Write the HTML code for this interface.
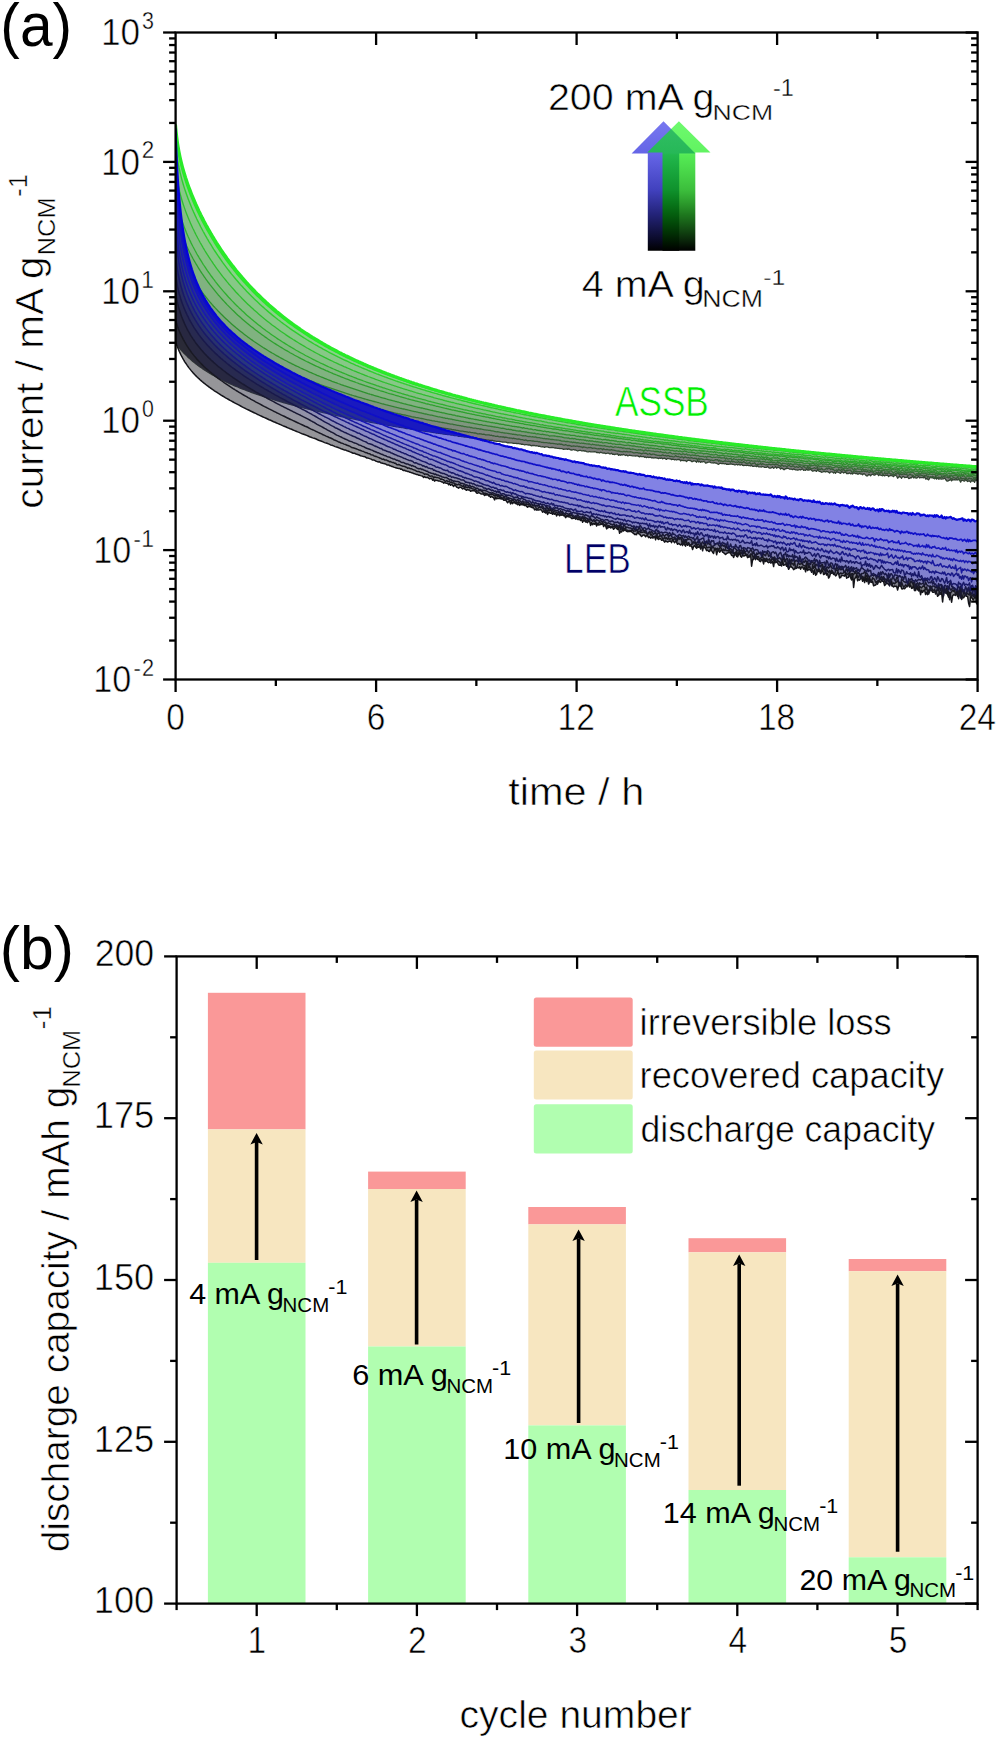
<!DOCTYPE html>
<html><head><meta charset="utf-8"><title>figure</title>
<style>html,body{margin:0;padding:0;background:#fff;width:1000px;height:1742px;overflow:hidden} text{font-family:"Liberation Sans",sans-serif}</style>
</head><body>
<svg width="1000" height="1742" viewBox="0 0 1000 1742" font-family='"Liberation Sans", sans-serif' style="display:block">
<rect width="1000" height="1742" fill="#fff"/>
<defs><clipPath id="pc"><rect x="175.6" y="32.5" width="802" height="647"/></clipPath>
<path id="a0" d="M175.6,343.1l.2,.3 .2,.3 .2,.2 .2,.3 .2,.3 .2,.3 .2,.2 .2,.3 .2,.2 .2,.3 .2,.3 .2,.2 .2,.3 .2,.2 .2,.3 .2,.2 .2,.3 .2,.2 .2,.2 .2,.3 .4,.5 .8,.9 .8,.9 .8,.9 .8,.9 .8,.8 .8,.8 .8,.8 .8,.8 .8,.8 .8,.8 .8,.7 .8,.7 .8,.7 .8,.7 .8,.7 .8,.7 .8,.7 .8,.6 .8,.6 .8,.7 .8,.6 .8,.6 .8,.6 .8,.6 .8,.5 .8,.6 .8,.5 .8,.6 .8,.5 .8,.6 .8,.5 .8,.5 .8,.5 .8,.5 .8,.5 .8,.5 .8,.5 .8,.5 .8,.4 .8,.5 .8,.5 .8,.4 .8,.5 .8,.4 1.4,.8 1.5,.8 1.5,.7 1.5,.8 1.5,.7 1.5,.8 1.5,.7 1.5,.7 1.5,.7 1.5,.7 1.5,.7 1.5,.6 1.5,.7 1.5,.6 1.5,.6 1.5,.6 1.5,.7 1.5,.6 1.5,.5 1.5,.6 1.5,.6 1.5,.6 1.5,.5 1.5,.6 1.5,.5 1.5,.5 1.5,.6 1.5,.5 1.5,.5 1.5,.5 1.5,.5 1.5,.5 1.5,.5 1.5,.5 1.5,.4 1.5,.5 1.5,.5 1.5,.4 1.5,.5 1.5,.5 1.5,.4 1.5,.4 1.5,.5 1.5,.4 1.5,.4 1.5,.5 1.5,.4 1.5,.4 1.5,.4 1.5,.4 1.5,.4 1.5,.4 1.5,.4 1.5,.4 1.5,.4 1.5,.4 1.5,.4 1.5,.4 1.5,.3 1.5,.4 1.5,.4 1.5,.3 1.5,.4 1.5,.4 1.5,.3 1.5,.4 1.5,.3 1.5,.4 1.5,.3 1.5,.4 1.5,.3 1.5,.4 1.5,.3 1.5,.3 1.5,.4 1.5,.3 1.5,.3 1.5,.4 1.5,.3 1.5,.3 1.5,.3 1.5,.3 1.5,.3 1.5,.4 1.5,.3 1.5,.3 1.5,.3 1.5,.3 1.5,.3 1.5,.3 1.5,.3 1.5,.3 1.5,.3 1.5,.3 1.5,.3 1.5,.2 1.5,.3 1.5,.3 1.5,.3 1.5,.3 1.5,.3 1.5,.2 1.5,.3 1.5,.3 1.5,.3 1.5,.2 1.5,.3 0,0 1,.2 1,.2 1,.1 1,.2 1,.2 1,.2 1,.1 1,.2 1,.2 1,.2 1,.1 1,.2 1,.2 1,.2 1,.1 1,.2 1,.1 1,.3 1,.1 1,.2 1,.2 1,.1 1,.2 1,.2 1,.1 1,.2 1,.1 1,.2 1,.2 1,.2 1,.2 1,.1 1,.1 1,.1 1,.3 1,0 1,.2 1,.2 1,.1 1,.1 1,.3 1,.1 1,.2 1,.1 1,.1 1,.2 1,.2 1,.1 1,.1 1,.3 1,.1 1,.2 1,0 1,.2 1,.1 1,.2 1,.2 1,.1 1,.2 1,.2 1,.3 1-.2 1,.4 1,0 1,.2 1,0 1,.2 1,.3 1,.1 1,.1 1,.1 1,.3 1,0 1,0 1,.3 1,0 1,0 1,.4 1,.3 1,0 1,0 1,.2 1,.4 1,0 1,.1 1,.1 1,.2 1,.2 1,.1 1,.1 1,0 1,.3 1,0 1,.4 1-.2 1,.3 1,.1 1,0 1,.5 1,.1 1-.1 1,.3 1,.1 1-.3 1,.5 1,.1 1,.2 1-.1 1,.3 1,.1 1,.4 1,0 1,0 1,.4 1-.2 1,.1 1-.1 1,.7 1,0 1,.2 1,.1 1,0 1,.1 1,.1 1,.1 1,.2 1,.4 1-.1 1,0 1,0 1,.2 1,.5 1-.1 1,.1 1,0 1,0 1,.3 1,.3 1-.1 1,.1 1,.1 1,.2 1-.2 1,.4 1,0 1,.5 1-.3 1,.4 1,.4 1-.3 1,0 1,.3 1,.1 1-.1 1,.4 1,.5 1-.4 1,.1 1,0 1,.4 1-.3 1,.2 1,.6 1-.3 1,.5 1,.2 1-.1 1,.1 1,.5 1-.4 1,0 1-.1 1,.5 1,.4 1,0 1-.3 1,.1 1,.2 1,.3 1,0 1,.2 1,.1 1,0 1,.2 1,.1 1,.1 1,.2 1,.5 1-.2 1-.1 1-.3 1,.6 1-.5 1,.3 1,.7 1,.1 1-.2 1-.3 1,.5 1,0 1,.5 1,.5 1-.4 1-.2 1,0 1,.4 1,.1 1-.2 1,.5 1-.3 1,.8 1,.1 1,.1 1-.4 1,.4 1-.1 1,0 1,.1 1-.2 1,.1 1,.8 1-.2 1,.2 1,.4 1-.8 1,.4 1,.4 1,.2 1-.2 1,.6 1-.2 1-.3 1,.1 1,.7 1,0 1-.7 1,1.2 1-.2 1,.4 1-.5 1,.1 1-.2 1,1.4 1-.8 1,.7 1-.7 1,.4 1-.6 1,.6 1,.5 1-.6 1,.9 1-.2 1-.4 1,.3 1,.1 1,.2 1,0 1,0 1,.2 1-.1 1,0 1,.5 1,.5 1-.9 1,.7 1-.1 1-.1 1,.8 1-.4 1,.8 1-.7 1,.5 1-.1 1-.2 1,.7 1-.2 1,.3 1-.1 1-.3 1,.4 1,.2 1,.4 1-.6 1,.4 1-.6 1,1.1 1-.6 1-.2 1,.8 1,.5 1-1 1,.3 1,.2 1,0 1,.7 1-.4 1,.1 1,.6 1-.4 1,.5 1-.5 1,0 1-.2 1,1.7 1-.8 1,.3 1,0 1,.1 1,.1 1,.9 1-1.2 1-.2 1,.3 1,0 1,1 1,.1 1-.7 1-.1 1,.5 1,.9 1-1.8 1,1.6 1-.7 1,1.1 1-.9 1,.5 1-.5 1,.3 1,1.2 1-.2 1-.5 1-.1 1-.4 1,.8 1,.2 1,.1 1,.1 1-.4 1,.5 1,.1 1,.8 1,.3 1-.9 1-.2 1,.4 1-.2 1,.1 1,.4 1-.4 1,.9 1-.3 1,.3 1-.2 1-.2 1,0 1,.4 1,0 1,.4 1,0 1-.6 1,.8 1-.7 1,.5 1,.2 1-.8 1,1.2 1,.1 1-.1 1,0 1,.1 1-.3 1,.5 1-.1 1,.4 1-.6 1,.9 1,0 1-.1 1-.1 1,.6 1-1.1 1,1.2 1,0 1,.1 1,.1 1-.5 1,.3 1,.6 1,0 1-.1 1-.9 1,1.3 1,.4 1,0 1-.4 1-.9 1,1.5 1-.6 1-1.2 1,1.7 1-1 1,.2 1,.4 1,1.2 1-.9 1,.5 1,.9 1,0 1-.9 1,0 1-.5 1,.4 1,.7 1,0 1-.1 1,.6 1-.9 1,.5 1,.5 1,0 1,.4 1-.4 1-.3 1,.5 1-.8 1-.3 1,1.4 1-.3 1,.3 1-1.2 1,.9 1,0 1-.1 1-.8 1,1.2 1,.9 1-.3 1-.5 1,.4 1,.6 1-2.2 1,1.8 1,.4 1,.2 1,.7 1-.3 1-.4 1,.1 1,.3 1-.7 1,.3 1,.7 1,.8 1-1.3 1,.1 1,.2 1,.9 1-.9 1,1.1 1-1.5 1,.5 1,.1 1,.7 1,.3 1-1.6 1,.4 1,.9 1-.6 1-.5 1,1.8 1-.3 1,.1 1-.6 1,1 1-.7 1,.9 1-1.3 1,.2 1,.7 1-.5 1,1 1-.2 1-.8 1,.8 1-.2 1,.9 1-1 1,.2 1,1.2 1,.8 1-.1 1-1.3 1,.2 1,1 1-1.1 1-.5 1,.8 1,.3 1-.8 1-.6 1,.2 1,1.6 1-.9 1,.5 1,.3 1,.3 1-.6 1,.7 1-.9 1,.4 1-.4 1,1.6 1-.8 1-.4 1,.3 1,.2 1,.7 1-1.6 1,.5 1,.5 1,2.2 1-1.1 1-.7 1,.7 1,1.1 1-1.7 1,0 1,1.2 1-.4 1,.1 1-.8 1,1.9 1-.1 1-.8 1,.2 1-2 1,2.1 1-.6 1,.5 1,.3 1-.7 1-1 1,1.6 1-.7 1,.3 1-.1 1,.3 1-1.5 1,2.8 1-.7 1,.7 1,.8 1-1.5 1-1.4 1,.8 1-.2 1,.6 1,.6 1-1.6 1,1.9 1-1.4 1,1.5 1-.3 1-.1 1,.3 1-.3 1,0 1-.8 1,1.3 1,1.6 1,.2 1-.5 1-.4 1-1.1 1,1.8 1-1.2 1,.1 1-.1 1,.3 1-.3 1,.3 1-.7 1,.6 1,2.3 1-1.9 1-.1 1,.7 1,.2 1-1.5 1,.9 1,1 1-.5 1-.1 1,1.3 1-1.8 1,.7 1-.5 1,1.8 1-2.9 1,1.2 1,.1L1100,480.8 1100,800 100,800 100,343.1Z"/>
<path id="a1" d="M175.6,312.7l.2,.5 .2,.5 .2,.6 .2,.5 .2,.4 .2,.5 .2,.4 .2,.5 .2,.4 .2,.4 .2,.4 .2,.4 .2,.4 .2,.4 .2,.4 .2,.3 .2,.4 .2,.4 .2,.3 .2,.4 .4,.6 .8,1.3 .8,1.3 .8,1.2 .8,1.2 .8,1.1 .8,1 .8,1.1 .8,1 .8,1 .8,1 .8,.9 .8,1 .8,.9 .8,.8 .8,.9 .8,.9 .8,.8 .8,.8 .8,.8 .8,.8 .8,.8 .8,.8 .8,.7 .8,.7 .8,.8 .8,.7 .8,.7 .8,.7 .8,.7 .8,.6 .8,.7 .8,.7 .8,.6 .8,.6 .8,.7 .8,.6 .8,.6 .8,.6 .8,.6 .8,.6 .8,.6 .8,.5 .8,.6 .8,.6 1.4,.9 1.5,1.1 1.5,.9 1.5,1 1.5,1 1.5,.9 1.5,.9 1.5,.9 1.5,.9 1.5,.9 1.5,.8 1.5,.9 1.5,.8 1.5,.8 1.5,.8 1.5,.8 1.5,.8 1.5,.7 1.5,.8 1.5,.7 1.5,.7 1.5,.8 1.5,.7 1.5,.7 1.5,.7 1.5,.6 1.5,.7 1.5,.7 1.5,.6 1.5,.6 1.5,.7 1.5,.6 1.5,.6 1.5,.6 1.5,.6 1.5,.6 1.5,.6 1.5,.6 1.5,.6 1.5,.5 1.5,.6 1.5,.5 1.5,.6 1.5,.5 1.5,.6 1.5,.5 1.5,.5 1.5,.5 1.5,.6 1.5,.5 1.5,.5 1.5,.5 1.5,.5 1.5,.5 1.5,.4 1.5,.5 1.5,.5 1.5,.5 1.5,.4 1.5,.5 1.5,.4 1.5,.5 1.5,.4 1.5,.5 1.5,.4 1.5,.5 1.5,.4 1.5,.4 1.5,.4 1.5,.5 1.5,.4 1.5,.4 1.5,.4 1.5,.4 1.5,.4 1.5,.4 1.5,.4 1.5,.4 1.5,.4 1.5,.4 1.5,.4 1.5,.3 1.5,.4 1.5,.4 1.5,.4 1.5,.3 1.5,.4 1.5,.4 1.5,.3 1.5,.4 1.5,.4 1.5,.3 1.5,.4 1.5,.3 1.5,.4 1.5,.3 1.5,.3 1.5,.4 1.5,.3 1.5,.3 1.5,.4 1.5,.3 1.5,.3 1.5,.4 1.5,.3 1.5,.3 1.5,.3 0,0 1,.2 1,.3 1,.2 1,.2 1,.2 1,.2 1,.2 1,.2 1,.2 1,.2 1,.2 1,.2 1,.2 1,.2 1,.2 1,.2 1,.2 1,.2 1,.2 1,.2 1,.2 1,.2 1,.1 1,.3 1,.1 1,.3 1,.1 1,.2 1,.2 1,.2 1,.2 1,.1 1,.3 1,.2 1,.2 1,.1 1,.3 1,.1 1,.2 1,.2 1,.2 1,.1 1,.2 1,.2 1,.2 1,.1 1,.3 1,.1 1,.2 1,.1 1,.2 1,.2 1,.1 1,.4 1,0 1,.3 1,.1 1,.1 1,.2 1,.2 1,.1 1,.2 1,.1 1,.1 1,.3 1,0 1,.4 1,0 1,.2 1,.2 1,.2 1,0 1,.1 1,.3 1,0 1,.3 1,.4 1-.1 1,.3 1,0 1,.3 1,.1 1,.2 1,.2 1,.3 1,0 1,.1 1,.1 1,.3 1,0 1,.3 1,.1 1,.3 1-.3 1,.4 1,.3 1,0 1,.1 1,.2 1,0 1,.3 1,.5 1,0 1-.2 1,.2 1,.2 1,.3 1-.1 1,.2 1,.4 1,.1 1,0 1,0 1,.1 1,.3 1-.1 1,.6 1-.1 1,.3 1,.4 1,0 1-.2 1,.4 1,.2 1-.2 1,.2 1,.2 1-.1 1,.7 1-.5 1,.3 1,.3 1,.1 1,.2 1,.2 1,0 1,.4 1-.4 1,.5 1,0 1,.3 1,.1 1-.1 1,.2 1,.4 1,.1 1-.1 1,.6 1,.2 1-.6 1,.5 1,.6 1-.3 1,.1 1,0 1,.1 1,.2 1,0 1,.4 1-.1 1,.1 1,0 1,.4 1-.1 1,.3 1,.4 1-.1 1,.2 1,.1 1,0 1,.1 1,.1 1,.4 1-.3 1,.6 1-.1 1-.1 1,.2 1,.1 1,.3 1-.1 1,.6 1-.4 1-.2 1,.5 1-.2 1,.6 1,.4 1,0 1-.4 1,.3 1,.7 1-.2 1,0 1,.4 1,.5 1-.2 1-.2 1,.2 1,.2 1-.2 1,0 1,.4 1-.2 1,.4 1,.1 1,.7 1-.7 1,.3 1,.1 1,.3 1,.2 1-.3 1,.1 1-.2 1,.4 1,.5 1-.1 1-.1 1,.2 1,.3 1,.2 1-.2 1,.2 1-.3 1,.3 1,.9 1-1 1,.6 1,.3 1-.1 1,0 1,.3 1,.2 1,0 1-.4 1,.6 1-.1 1,.2 1,.4 1,.2 1,.2 1-.3 1,.5 1,.2 1,.1 1,.2 1-.4 1,.1 1,.4 1-.6 1,.6 1-.1 1,.1 1-.3 1,.4 1,.4 1,.4 1,.1 1-.3 1,.1 1-.1 1,.5 1-.1 1,.4 1,.5 1-.5 1-.4 1,.3 1-.1 1,.2 1,.9 1-.3 1-.5 1,.9 1,.3 1-.5 1,0 1,.2 1,.4 1,.2 1,.3 1,.1 1,.1 1,.1 1-.1 1-.7 1,.6 1,.2 1-.1 1,.6 1-.4 1-.1 1,.9 1-.2 1,0 1,.3 1,.2 1-.2 1-1 1,.8 1,.2 1-.1 1,.5 1,.5 1-.6 1-.1 1,1.3 1-.9 1-.2 1,.7 1,.2 1-.4 1,.7 1-.4 1-.1 1,.5 1,.3 1-.4 1,.4 1,0 1,1.3 1-1.4 1,.9 1-.5 1,.1 1,.4 1,.2 1,.3 1-.3 1-.4 1,.2 1,.5 1,.1 1,.5 1-.4 1,.4 1,.3 1-.5 1-.6 1,.2 1-.1 1,1.5 1-1 1,1 1-.2 1,.6 1-.3 1-.4 1,.1 1,.2 1,.1 1-.2 1,.3 1,.8 1-1.4 1,1 1-.5 1,.6 1,.4 1-.3 1,.4 1-1 1,1.4 1-.7 1,.6 1-.1 1-1.2 1,.9 1,.6 1,.7 1-.5 1,0 1-.7 1,1.5 1,.2 1-.7 1-.1 1-.6 1,1.3 1,1 1-.9 1,.3 1-.2 1-.7 1,1.2 1-1.1 1,.5 1,.4 1,.3 1-.1 1,.1 1-.5 1-.2 1,.7 1-.3 1-.2 1,.1 1,.5 1-.6 1,.3 1-.1 1,1 1,.2 1,.9 1-1.7 1,.5 1,.9 1-.5 1,0 1,1.2 1-1 1-.4 1,0 1,1 1,0 1-.8 1,.3 1,.9 1,.1 1-.6 1,.8 1,0 1-1.2 1,.9 1,.5 1-.5 1-.8 1,1.1 1,.7 1,.5 1-2 1,2.7 1-2 1,1.2 1,.3 1-.1 1-.4 1-.6 1,1 1-.6 1-1 1,3.1 1-1.1 1,.7 1-1.5 1,1.5 1,.1 1,.1 1-.9 1-.6 1,.7 1-1.1 1,.4 1,1.1 1-.6 1,.6 1,.1 1,1.2 1-.3 1-.7 1,.8 1-1.1 1,.4 1,.8 1-1.2 1,.6 1-.5 1,.9 1,1 1-1.4 1,.7 1-.6 1-.1 1,0 1,1.7 1,.6 1-1 1-.7 1,.9 1-.5 1,.8 1-.3 1,.1 1,.2 1-.6 1,.2 1-.8 1,.9 1-.6 1,.9 1-.4 1,.7 1,.3 1-1.1 1,.4 1,0 1,1.2 1,.6 1-.4 1-.7 1,1.2 1-1.8 1,2 1-1.4 1-1.3 1,3.6 1-.6 1-1.6 1,.8 1-.2 1,.3 1-1 1,.6 1,.9 1-.1 1,.7 1-.7 1,1.6 1-2 1,.7 1-1.4 1,.6 1,1.7 1-1.4 1,1 1-.3 1-.6 1,.6 1-.1 1,.1 1,.9 1,0 1-.8 1-.1 1,.8 1-.1 1,.8 1,1.2 1-1.2 1-.5 1-.1 1-.4 1,.1 1-.1 1,.5 1,.1 1,.9 1-.8 1,.2 1-.6 1,2.1 1-.8 1,1 1-.6 1,.5 1-1.2 1,.8 1,1.5 1-2.8 1,1.8 1,.5 1-.9 1,.3 1,.5 1-1.4 1,.9 1-.9 1,.2 1,.1 1,.4 1,.3 1,.3 1-1.4 1,2.7 1-.6 1-.3 1-.7 1,.3 1,.5 1,0 1-1.6 1,1.9 1,1.8 1-3.6 1,2.2 1-.4 1-.3 1,1.2 1-1.9 1,1.1 1,1.1 1-1.3 1-.1 1,.5 1-.4 1,1.6 1-1.8 1,1.4 1-1.6 1,1.6 1-.5L1100,479.2 1100,800 100,800 100,312.7Z"/>
<path id="a2" d="M175.6,284.4l.2,.8 .2,.8 .2,.7 .2,.7 .2,.7 .2,.6 .2,.6 .2,.6 .2,.6 .2,.6 .2,.5 .2,.5 .2,.6 .2,.5 .2,.5 .2,.4 .2,.5 .2,.5 .2,.4 .2,.5 .4,.8 .8,1.7 .8,1.6 .8,1.4 .8,1.5 .8,1.3 .8,1.4 .8,1.2 .8,1.3 .8,1.2 .8,1.1 .8,1.2 .8,1.1 .8,1.1 .8,1 .8,1.1 .8,1 .8,1 .8,1 .8,.9 .8,1 .8,.9 .8,.9 .8,.9 .8,.9 .8,.8 .8,.9 .8,.8 .8,.9 .8,.8 .8,.8 .8,.8 .8,.8 .8,.7 .8,.8 .8,.8 .8,.7 .8,.7 .8,.7 .8,.8 .8,.7 .8,.7 .8,.7 .8,.6 .8,.7 1.4,1.2 1.5,1.2 1.5,1.2 1.5,1.1 1.5,1.2 1.5,1.1 1.5,1.1 1.5,1.1 1.5,1.1 1.5,1 1.5,1 1.5,1 1.5,1 1.5,1 1.5,.9 1.5,1 1.5,.9 1.5,.9 1.5,.9 1.5,.9 1.5,.9 1.5,.8 1.5,.9 1.5,.8 1.5,.8 1.5,.8 1.5,.8 1.5,.8 1.5,.8 1.5,.8 1.5,.7 1.5,.8 1.5,.7 1.5,.7 1.5,.8 1.5,.7 1.5,.7 1.5,.7 1.5,.6 1.5,.7 1.5,.7 1.5,.6 1.5,.7 1.5,.6 1.5,.7 1.5,.6 1.5,.6 1.5,.6 1.5,.6 1.5,.6 1.5,.6 1.5,.6 1.5,.6 1.5,.6 1.5,.5 1.5,.6 1.5,.6 1.5,.5 1.5,.6 1.5,.5 1.5,.5 1.5,.6 1.5,.5 1.5,.5 1.5,.5 1.5,.5 1.5,.6 1.5,.5 1.5,.4 1.5,.5 1.5,.5 1.5,.5 1.5,.5 1.5,.5 1.5,.4 1.5,.5 1.5,.5 1.5,.4 1.5,.5 1.5,.4 1.5,.5 1.5,.4 1.5,.4 1.5,.5 1.5,.4 1.5,.4 1.5,.5 1.5,.4 1.5,.4 1.5,.4 1.5,.4 1.5,.4 1.5,.4 1.5,.4 1.5,.4 1.5,.4 1.5,.4 1.5,.4 1.5,.4 1.5,.4 1.5,.4 1.5,.3 1.5,.4 1.5,.4 1.5,.4 1.5,.3 1.5,.4 0,0 1,.2 1,.3 1,.2 1,.2 1,.3 1,.2 1,.3 1,.2 1,.2 1,.3 1,.2 1,.2 1,.2 1,.3 1,.2 1,.2 1,.2 1,.3 1,.2 1,.3 1,.1 1,.2 1,.3 1,.2 1,.2 1,.3 1,.1 1,.3 1,.1 1,.2 1,.3 1,.2 1,.3 1,.1 1,.2 1,.3 1,.2 1,.2 1,.1 1,.3 1,.2 1,.1 1,.2 1,.3 1,.2 1,.1 1,.2 1,.2 1,.3 1,.2 1,.2 1,.2 1,0 1,.4 1,.2 1,.1 1,.3 1,.1 1,.1 1,.3 1,.1 1,.1 1,.4 1,.1 1,.2 1,.1 1,.2 1,.2 1,.2 1,.3 1-.1 1,.5 1,0 1,.2 1,.3 1,.1 1,0 1,.5 1,0 1,.2 1,.2 1,.3 1,0 1,.3 1,0 1,.4 1-.1 1,.3 1,.4 1,0 1,.1 1,.4 1,0 1,0 1,.4 1-.1 1,.4 1,.2 1,0 1,.1 1,.3 1,.1 1,.1 1,.3 1-.1 1,.3 1,.2 1,.2 1,.2 1,0 1,.3 1,.1 1,.1 1,.1 1,.1 1,.4 1,0 1,.3 1,.3 1,.1 1,.2 1-.1 1,.1 1,.4 1,.1 1,.3 1-.1 1,.4 1,.1 1,.1 1,.1 1,.2 1,.1 1,.1 1,.3 1-.1 1,.5 1-.1 1,.3 1,0 1,.1 1,.5 1-.3 1,0 1,.3 1,.2 1,.5 1-.2 1,.3 1-.2 1,.4 1,.2 1,.3 1-.3 1,.4 1,.1 1-.1 1,.3 1,.1 1-.2 1,.6 1,.2 1-.1 1,0 1,.6 1,0 1,.2 1,.2 1-.2 1,.4 1-.1 1,.2 1,.1 1,.2 1,.3 1,0 1,0 1,.1 1,.3 1-.1 1,.2 1,.2 1,0 1,.3 1,0 1,.7 1-.1 1,0 1,0 1,.6 1-.3 1,.1 1,.2 1,.1 1,.4 1-.2 1,.6 1-.5 1,.4 1-.2 1,.7 1-.3 1,.2 1,.3 1,.2 1-.4 1,.3 1-.1 1,.4 1,.1 1,.1 1,0 1,.2 1,0 1,.5 1,.3 1-.7 1,.6 1,0 1,.3 1-.2 1,.3 1-.1 1,.6 1-.1 1,.1 1,.2 1,0 1-.2 1,.6 1,.1 1,0 1,.4 1,.2 1-.5 1,.2 1,.7 1,.1 1-.5 1,0 1,.3 1,.1 1-.2 1,.6 1-.3 1,.2 1,.7 1-.4 1,.3 1,.3 1,.2 1-.2 1,.2 1-.2 1,.9 1-.2 1-.4 1,.4 1,.3 1,.1 1,.5 1,0 1-.5 1,.2 1-.2 1,.6 1,0 1,.9 1-.7 1-.5 1,.5 1,.4 1-.4 1,.3 1,.2 1,.3 1,0 1-.1 1,.6 1-.3 1,.1 1-.2 1,.3 1,.6 1-.7 1,.7 1,.3 1-.2 1,.3 1-.4 1,.9 1,.1 1-.2 1-.6 1,.3 1,.8 1,.4 1-.4 1,.4 1-.5 1,.2 1,.2 1,.2 1-.5 1,.9 1,.2 1-.7 1,0 1,.7 1-.3 1-.5 1,1.3 1-.2 1-.1 1,1 1-.6 1-.2 1,.4 1-.3 1,.2 1,.5 1-.3 1,.2 1,.8 1-.2 1,.1 1,0 1,.1 1,.5 1-.5 1,.8 1-1 1,.4 1-.4 1,.5 1,.5 1,.4 1-.7 1,.3 1,0 1-.1 1,0 1,.5 1-.6 1,.8 1,.1 1-.2 1,0 1-.1 1,1.4 1-1.2 1,1.3 1-.3 1-.3 1-.3 1,1 1,.4 1-1 1,.3 1,.7 1-.2 1,.8 1-1 1,.5 1-.6 1,1.5 1-1.1 1-.6 1,1 1,.1 1,.9 1-.8 1,.2 1,.3 1,.6 1-.7 1,.6 1-.1 1-.3 1,.2 1,.1 1-.3 1,1 1-1.1 1,1.3 1-.1 1-.3 1-.2 1,.3 1,.4 1,.2 1-.1 1,.4 1-.6 1,.4 1-.7 1,1.1 1-.2 1-.2 1,.8 1-.1 1-1.5 1,1.4 1-.6 1,1.2 1,.8 1-1.3 1,.3 1-.1 1,.4 1,.2 1,.4 1-1 1,1.3 1-1.1 1,.7 1,.5 1-.2 1-.7 1,.2 1,.2 1,.3 1,.7 1-1.1 1,.9 1,.1 1,.1 1,0 1,.6 1-.4 1,.3 1-.1 1,.7 1-1.8 1,1.7 1-.7 1,.1 1-.3 1-.4 1,.9 1-.1 1,.7 1-1 1,1.6 1-.5 1-.2 1-.2 1,.1 1-.1 1,.4 1,.3 1,0 1-.6 1,.7 1-.2 1,.6 1,.9 1-.5 1-.4 1-.7 1,.2 1,0 1,1.3 1-.7 1,.5 1-.3 1,.5 1,.8 1-1.1 1,.3 1-.2 1,1 1-1 1,0 1,0 1,0 1,1.1 1,1.3 1-1.9 1,1.1 1-.3 1-.7 1,.6 1,.1 1-.2 1,1.5 1-2 1,1.3 1,.1 1-.5 1,.5 1,.5 1-.4 1,.3 1,.2 1-1.5 1,2.1 1,.5 1-.6 1,0 1-1.3 1,.8 1-.3 1,.2 1,1 1-1 1,.5 1-1 1,1.1 1,.2 1-.4 1,.1 1,1.6 1-1.7 1,.1 1,.2 1,1.3 1,.6 1-1 1-.5 1,.2 1,1 1-1.1 1,1.4 1,.1 1-.7 1,.4 1,.1 1,.6 1-1.5 1,1.4 1-.9 1-.2 1,.6 1-.1 1-.4 1-.3 1,.5 1,1.5 1,.4 1-.8 1,.4 1-.9 1,.3 1,.3 1-.8 1,.1 1,.8 1-.2 1-.4 1,1 1-.4 1,.9 1-.6 1-.1 1,.3 1-.1 1-.2 1,.2 1,.8 1,0 1,.5 1-1.9 1,.9 1,.1 1,.4 1-.3 1,0 1,.9 1-.3 1-.8 1,1.7 1-.2 1-.9 1,1 1-1 1,1.3 1-.8 1-.4 1,.4 1-.2 1,.7 1,.1 1-.1 1-.3 1-2 1,2.6 1-1.3 1,1.5 1,.7 1-.6 1-.3 1,.2 1,.1 1-.3 1,.1 1-.2 1,1.5 1-.7 1,.7 1-.8 1,.3L1100,477.4 1100,800 100,800 100,284.4Z"/>
<path id="a3" d="M175.6,258l.2,1.1 .2,1 .2,.9 .2,.9 .2,.9 .2,.8 .2,.8 .2,.7 .2,.7 .2,.7 .2,.7 .2,.7 .2,.6 .2,.6 .2,.6 .2,.6 .2,.6 .2,.5 .2,.6 .2,.5 .4,1.1 .8,2 .8,1.8 .8,1.8 .8,1.6 .8,1.6 .8,1.6 .8,1.5 .8,1.4 .8,1.4 .8,1.3 .8,1.4 .8,1.2 .8,1.3 .8,1.2 .8,1.2 .8,1.2 .8,1.1 .8,1.2 .8,1.1 .8,1.1 .8,1 .8,1.1 .8,1 .8,1 .8,1 .8,1 .8,1 .8,.9 .8,1 .8,.9 .8,.9 .8,.9 .8,.9 .8,.9 .8,.8 .8,.9 .8,.8 .8,.9 .8,.8 .8,.8 .8,.8 .8,.8 .8,.8 .8,.8 1.4,1.3 1.5,1.4 1.5,1.4 1.5,1.3 1.5,1.4 1.5,1.3 1.5,1.2 1.5,1.3 1.5,1.2 1.5,1.2 1.5,1.2 1.5,1.1 1.5,1.2 1.5,1.1 1.5,1.1 1.5,1.1 1.5,1.1 1.5,1 1.5,1.1 1.5,1 1.5,1 1.5,1 1.5,1 1.5,.9 1.5,1 1.5,.9 1.5,.9 1.5,.9 1.5,.9 1.5,.9 1.5,.9 1.5,.8 1.5,.9 1.5,.8 1.5,.8 1.5,.8 1.5,.9 1.5,.7 1.5,.8 1.5,.8 1.5,.8 1.5,.7 1.5,.8 1.5,.7 1.5,.7 1.5,.8 1.5,.7 1.5,.7 1.5,.7 1.5,.6 1.5,.7 1.5,.7 1.5,.7 1.5,.6 1.5,.7 1.5,.6 1.5,.7 1.5,.6 1.5,.6 1.5,.6 1.5,.6 1.5,.6 1.5,.6 1.5,.6 1.5,.6 1.5,.6 1.5,.6 1.5,.5 1.5,.6 1.5,.6 1.5,.5 1.5,.5 1.5,.6 1.5,.5 1.5,.6 1.5,.5 1.5,.5 1.5,.5 1.5,.5 1.5,.5 1.5,.5 1.5,.5 1.5,.5 1.5,.5 1.5,.5 1.5,.5 1.5,.5 1.5,.4 1.5,.5 1.5,.5 1.5,.4 1.5,.5 1.5,.5 1.5,.4 1.5,.5 1.5,.4 1.5,.4 1.5,.5 1.5,.4 1.5,.4 1.5,.5 1.5,.4 1.5,.4 1.5,.4 1.5,.4 1.5,.4 1.5,.4 0,0 1,.3 1,.3 1,.2 1,.3 1,.3 1,.3 1,.2 1,.2 1,.3 1,.3 1,.2 1,.3 1,.3 1,.2 1,.2 1,.3 1,.2 1,.3 1,.3 1,.2 1,.3 1,.2 1,.2 1,.3 1,.2 1,.2 1,.3 1,.2 1,.2 1,.3 1,.2 1,.2 1,.3 1,.2 1,.2 1,.3 1,.2 1,.2 1,.3 1,.1 1,.3 1,.2 1,.3 1,.2 1,.2 1,.1 1,.3 1,.2 1,.3 1,.2 1,.2 1,.3 1,.2 1,.1 1,.3 1,.1 1,.2 1,.3 1,.1 1,.3 1,.2 1,.3 1,.2 1,.1 1,.3 1,.1 1,.2 1,.3 1,.1 1,.4 1,0 1,.1 1,.4 1,.1 1,.2 1,0 1,.5 1,.1 1,.2 1,.2 1,.3 1,0 1,.3 1,.1 1,.2 1,.3 1,.1 1,.1 1,.3 1,.1 1,.2 1,.3 1,.1 1,0 1,.3 1,.4 1-.1 1,.3 1,.2 1,.2 1,0 1,.3 1,.2 1,.3 1,0 1,.1 1,.4 1,.2 1,.1 1,0 1,.3 1,.2 1,.2 1,0 1,.3 1,.1 1,.1 1,.3 1,.1 1,.2 1,.2 1,0 1,.3 1,.2 1,.2 1,.2 1-.1 1,.1 1,.4 1,.2 1,.4 1,0 1-.1 1,.4 1-.1 1,.1 1,.7 1-.1 1,.2 1,.1 1,.4 1-.1 1,.3 1-.2 1,.1 1,.6 1,.1 1,0 1,.2 1,.1 1,0 1,.5 1,0 1,.2 1,.1 1,.2 1,.1 1,.2 1-.2 1,.5 1,.4 1-.3 1,.2 1,.3 1,.2 1,.1 1-.3 1,.5 1-.1 1,.2 1,.4 1,0 1,.3 1,.6 1-.3 1,.1 1-.1 1,.1 1,.1 1,.2 1,.1 1,.2 1,.2 1,0 1,.1 1,.1 1,.5 1,.1 1,.3 1,.1 1-.1 1,.3 1-.3 1,.9 1-.1 1-.1 1-.1 1,.5 1-.4 1,.4 1,.4 1,0 1,0 1,.5 1-.3 1,.4 1,0 1,0 1,.4 1-.2 1,.8 1-.4 1,.7 1-.6 1,.5 1-.2 1,.1 1,.4 1,.3 1-.4 1,.7 1-.3 1,.3 1,.2 1,.2 1-.4 1,.9 1-.1 1-.1 1-.1 1,0 1,.2 1,.6 1-.1 1-.1 1,.3 1,.6 1-.3 1,0 1,.6 1-.1 1,0 1,0 1-.1 1,.2 1,.3 1,.2 1,.2 1,.2 1,0 1,.1 1-.2 1-.1 1,.5 1,0 1,.2 1,.2 1-.1 1,.1 1,.4 1,.2 1-.1 1,.4 1-.1 1-.1 1,.4 1,.6 1-.5 1,.6 1,.1 1,.2 1-.5 1,.9 1-.5 1,0 1,.2 1,.3 1,0 1,0 1,.5 1-.4 1,0 1,.6 1,.1 1,.2 1-.5 1,.7 1,0 1,.5 1-.8 1,.5 1,0 1-.3 1,.4 1,.6 1-.3 1,0 1,.6 1,.1 1,.1 1-.4 1,.3 1,.5 1-.5 1,.1 1,.6 1,.3 1-.7 1-.4 1,.5 1,.2 1,.4 1,.4 1-.2 1-.1 1,.4 1-.2 1,.4 1-.1 1,1.2 1-.6 1-.4 1,.1 1,.2 1-.3 1,.4 1,.1 1,.7 1-.4 1,0 1-.1 1,.2 1,.5 1,0 1,.6 1-.5 1,.6 1-.1 1,0 1-.6 1,.3 1,.8 1,.3 1-.3 1,.3 1-.3 1,.1 1,0 1,.7 1-.2 1-.1 1,.1 1,.4 1,0 1-.3 1,1 1-.4 1,0 1,.6 1-.1 1-.3 1,.4 1-.5 1,.2 1-.5 1,1.4 1-1.1 1,1.1 1-.5 1,0 1,.4 1,.3 1,.2 1,.5 1-.4 1,.3 1-.5 1,.6 1-.1 1-.2 1,.3 1,.1 1,.2 1,.1 1-.2 1,0 1,.6 1-.8 1,.5 1,.9 1-1.6 1,.9 1,.6 1-.8 1,1.8 1-2 1,1.7 1,.1 1-.1 1-.4 1,.3 1-.4 1,.8 1-.7 1,.4 1,.6 1-.8 1,.4 1,.3 1-.5 1,1.1 1-.2 1-.7 1,.7 1-.2 1,.1 1,.4 1-.3 1,.8 1-.6 1,.8 1-.3 1,.4 1-.5 1,.1 1-.2 1,.8 1,.3 1,.6 1-.3 1-.4 1-.1 1,.4 1-.1 1,.7 1-.1 1-.8 1,.2 1,1 1-.4 1-.2 1,.8 1-.7 1,.2 1,0 1-.6 1,1.3 1-.8 1,.3 1,0 1,.8 1-.3 1,.1 1-.7 1,.8 1-.5 1,.9 1,.1 1-.1 1,1 1-.6 1,.1 1-.1 1-.1 1,.6 1,.2 1-1.1 1,1.2 1-.2 1,.3 1-.1 1-.8 1,.1 1,1.6 1-.7 1-.8 1,1 1-.3 1-.6 1-.2 1,.4 1,1 1,0 1-.1 1,.4 1,.2 1-1.3 1,1 1-.2 1-.1 1,.4 1,.3 1,0 1-.5 1,.5 1,1.4 1-1.5 1-.2 1,1 1,.3 1,0 1-.8 1,1.2 1-.8 1-.1 1,.3 1,.3 1,.5 1,.1 1-.3 1,.6 1-.4 1,.5 1-1.1 1-.1 1,1.4 1-1.1 1,.6 1,.2 1-.1 1,.1 1,1 1-2 1,1.9 1,.8 1-1.1 1,0 1,.5 1,.7 1-1.6 1,.8 1-.1 1,.5 1-.2 1,.4 1-.5 1,.3 1-.3 1,0 1,.4 1,.1 1-.5 1,1.6 1-.9 1-.6 1,1.4 1-.9 1,.7 1-.2 1,.2 1,0 1-.3 1,.4 1,1.2 1-2.3 1,1.3 1,.3 1-.8 1-.1 1,2.1 1-1.4 1,1.5 1-.8 1-.2 1,.3 1,.2 1,.3 1-.3 1-.1 1,.1 1,.7 1-.2 1-1 1,.3 1,.6 1-.5 1,.2 1-.3 1,.5 1,.5 1,.4 1-.5 1,1.3 1-1.2 1,2 1-1.3 1-.2 1-.5 1-1.4 1,1.7 1,.3 1,1.1 1-1.9 1,2 1-1.2 1,.6 1-1.9 1,1.7 1-.2 1,.7 1-.3 1-.7L1100,474.9 1100,800 100,800 100,258Z"/>
<path id="a4" d="M175.6,233.4l.2,1.3 .2,1.2 .2,1.2 .2,1 .2,1.1 .2,.9 .2,1 .2,.9 .2,.8 .2,.8 .2,.8 .2,.8 .2,.7 .2,.8 .2,.7 .2,.7 .2,.6 .2,.7 .2,.6 .2,.6 .4,1.2 .8,2.3 .8,2.2 .8,2 .8,1.9 .8,1.8 .8,1.7 .8,1.7 .8,1.6 .8,1.6 .8,1.5 .8,1.5 .8,1.4 .8,1.5 .8,1.3 .8,1.4 .8,1.3 .8,1.3 .8,1.3 .8,1.2 .8,1.2 .8,1.2 .8,1.2 .8,1.2 .8,1.1 .8,1.1 .8,1.1 .8,1.1 .8,1.1 .8,1 .8,1.1 .8,1 .8,1 .8,1 .8,1 .8,1 .8,.9 .8,1 .8,.9 .8,.9 .8,1 .8,.9 .8,.9 .8,.8 .8,.9 1.4,1.5 1.5,1.6 1.5,1.5 1.5,1.6 1.5,1.4 1.5,1.5 1.5,1.4 1.5,1.4 1.5,1.4 1.5,1.4 1.5,1.3 1.5,1.3 1.5,1.3 1.5,1.3 1.5,1.2 1.5,1.2 1.5,1.2 1.5,1.2 1.5,1.2 1.5,1.1 1.5,1.2 1.5,1.1 1.5,1.1 1.5,1.1 1.5,1 1.5,1.1 1.5,1 1.5,1 1.5,1 1.5,1 1.5,1 1.5,1 1.5,.9 1.5,.9 1.5,1 1.5,.9 1.5,.9 1.5,.9 1.5,.8 1.5,.9 1.5,.9 1.5,.8 1.5,.9 1.5,.8 1.5,.8 1.5,.8 1.5,.8 1.5,.8 1.5,.8 1.5,.7 1.5,.8 1.5,.7 1.5,.8 1.5,.7 1.5,.7 1.5,.7 1.5,.8 1.5,.7 1.5,.7 1.5,.6 1.5,.7 1.5,.7 1.5,.7 1.5,.6 1.5,.7 1.5,.6 1.5,.6 1.5,.7 1.5,.6 1.5,.6 1.5,.6 1.5,.6 1.5,.6 1.5,.6 1.5,.6 1.5,.6 1.5,.6 1.5,.6 1.5,.5 1.5,.6 1.5,.5 1.5,.6 1.5,.5 1.5,.6 1.5,.5 1.5,.6 1.5,.5 1.5,.5 1.5,.5 1.5,.5 1.5,.5 1.5,.5 1.5,.5 1.5,.5 1.5,.5 1.5,.5 1.5,.5 1.5,.5 1.5,.5 1.5,.4 1.5,.5 1.5,.5 1.5,.4 1.5,.5 1.5,.4 1.5,.5 1.5,.4 0,0 1,.3 1,.3 1,.3 1,.3 1,.3 1,.3 1,.3 1,.2 1,.3 1,.3 1,.3 1,.3 1,.3 1,.2 1,.3 1,.3 1,.3 1,.2 1,.3 1,.3 1,.2 1,.3 1,.2 1,.3 1,.3 1,.2 1,.3 1,.3 1,.2 1,.2 1,.3 1,.3 1,.2 1,.3 1,.3 1,.1 1,.3 1,.3 1,.2 1,.3 1,.2 1,.3 1,.2 1,.2 1,.3 1,.2 1,.2 1,.3 1,.2 1,.3 1,.2 1,.2 1,.2 1,.2 1,.3 1,.2 1,.2 1,.3 1,.2 1,.1 1,.5 1,.1 1,.2 1,.3 1,.2 1,.1 1,.4 1,0 1,.3 1,.3 1,.1 1,.3 1,.2 1,.3 1,0 1,.3 1,.3 1,.1 1,.1 1,.4 1,.2 1,.2 1,.2 1,.2 1,.2 1,.2 1,.1 1,.3 1,.2 1,.1 1,.3 1,.1 1,.4 1,.2 1,0 1,.3 1,.1 1,.3 1,.2 1,.1 1,.2 1,.2 1,.1 1,.3 1,.1 1,.3 1,.2 1,.2 1,.1 1,.3 1,0 1,.3 1,.1 1,.3 1,.1 1,.3 1-.1 1,.4 1,0 1,.4 1-.1 1,.3 1,.1 1,.5 1-.1 1,.3 1,.1 1,0 1,.4 1,.2 1,.1 1,.3 1,0 1,.3 1,.1 1,.2 1,.4 1,0 1,.1 1,.1 1,.1 1,.5 1-.2 1,.2 1,.3 1,.1 1,.5 1-.4 1,.5 1,.2 1-.1 1,.2 1,.4 1,.3 1-.2 1,.1 1,.5 1,.2 1-.1 1-.1 1,.7 1-.1 1,.3 1,0 1,.1 1,.2 1,.4 1,.2 1-.4 1,.3 1,.6 1-.2 1,0 1,.4 1,.1 1,.1 1,.1 1,.2 1,.1 1,.3 1,0 1,.2 1,.2 1,.4 1,0 1,0 1,.3 1,.1 1,.3 1,0 1,.4 1,0 1-.1 1,.1 1,.4 1,.1 1,0 1-.1 1,.1 1,.5 1,.2 1,.2 1-.3 1,.6 1-.2 1,.3 1,.2 1-.1 1,.2 1-.2 1,.4 1-.1 1,.6 1,.1 1,.3 1,0 1-.1 1,.4 1,0 1,.3 1,.1 1-.2 1,.4 1,.1 1,.1 1,.3 1,.3 1-.3 1,.2 1-.3 1,.6 1,0 1-.2 1,.7 1,.1 1-.1 1,.2 1,0 1,.5 1-.4 1,.4 1,.6 1-.3 1,.3 1-.1 1-.1 1,.4 1,.2 1-.2 1,.5 1,.3 1,.1 1-.5 1,.3 1-.1 1,.8 1,0 1,.1 1-.2 1,0 1,.5 1,.1 1-.1 1,.3 1,.3 1,0 1-.2 1-.1 1,.5 1,.3 1,0 1,0 1,.1 1,.5 1-.1 1,.1 1-.1 1,.2 1,.3 1-.2 1,.1 1,.3 1,.5 1-.1 1,.4 1-.3 1,.1 1-.2 1,.3 1,.7 1-.2 1,.2 1,.1 1,0 1,0 1,.2 1,.3 1,0 1,.2 1,0 1-.2 1,.3 1-.1 1,.6 1-.7 1,.6 1,.9 1-.7 1-.1 1,.4 1,.5 1-.3 1,.3 1,0 1-.1 1,1.2 1-.8 1-.1 1,.1 1,.4 1,.1 1,.2 1-.1 1-.3 1,.7 1-.2 1,.1 1-.2 1,.4 1,0 1,.3 1-.3 1,.6 1,.1 1-.3 1,.3 1,0 1,.6 1-.9 1,.8 1-.4 1,.5 1,.5 1-.3 1,.3 1-.2 1,1 1-.2 1,.1 1-.7 1,.2 1,.8 1-.3 1,.1 1,.3 1-.4 1,.7 1-.1 1,.2 1-.3 1,.5 1-.3 1,.7 1,.1 1,0 1,0 1,.1 1-1 1,1.3 1-.3 1,.2 1,0 1-.3 1,.4 1,.5 1,.4 1-.6 1,0 1,.9 1-.7 1,1.1 1-.6 1-.3 1,.8 1,.3 1-1 1,1.2 1-.6 1,.7 1-.5 1-.4 1,.9 1,.2 1,.5 1,0 1-.3 1-.2 1-.1 1,.2 1-.1 1,.3 1-.7 1,1.1 1,0 1,1 1-.6 1-.3 1,.4 1-.5 1,.3 1-.4 1,1.3 1-.2 1-.6 1,.5 1,.5 1-.1 1,.1 1-.4 1,.2 1,.3 1,.4 1-.6 1,0 1,1 1-.7 1,.8 1-.2 1,.3 1,.5 1-.4 1,.2 1-.6 1,.1 1,.7 1,.4 1,0 1,.5 1-.7 1,0 1,.4 1-.3 1,.1 1-.4 1,1 1-.8 1,.7 1-.7 1,1.1 1-.7 1,.8 1-.9 1,.5 1,.8 1-.7 1,.4 1-.1 1-.7 1,1.2 1,.1 1-.6 1,.8 1-.5 1,0 1,.5 1-.2 1,1.4 1-1.6 1,1.1 1,.1 1-1.1 1,.1 1,1.1 1-.4 1,.5 1,.4 1-.6 1-.2 1-.6 1,1.3 1-.4 1,.6 1,.1 1-.7 1,1.5 1-.2 1,0 1-.9 1,.5 1,0 1,.1 1-.2 1,.7 1,0 1,.2 1-.3 1,.8 1-.4 1-1.2 1,1 1,.3 1,.6 1-.5 1,.1 1-.1 1,.7 1-.5 1,0 1,0 1,.7 1-.4 1-.5 1,1.2 1-.6 1,.6 1,.1 1,.5 1,0 1-.7 1,.2 1-.4 1,1.5 1-.5 1,.5 1-.8 1-.7 1,1.8 1-.6 1,.1 1,0 1,.4 1,0 1-1 1,1.4 1-.7 1,.1 1,1.1 1-.3 1-.5 1-.7 1,1.1 1,.2 1-.2 1-.5 1,.3 1-.2 1,.8 1,.4 1,.2 1-.8 1,.5 1,.3 1-.5 1,.2 1,1.3 1-.9 1,.4 1-.6 1,.3 1-.8 1,.9 1,.7 1,.5 1-.4 1-.1 1-.3 1-.3 1,.3 1,.5 1-.7 1,1 1-.9 1-.4 1,.5 1-.3 1,.3 1,1.3 1-.6 1,.3 1,.6 1,.1 1-.9 1,1.1 1-.5 1-.1 1,.3 1-.9 1,.4 1,.4 1,.5 1-.5 1,.2 1,.7 1,.3 1-.3 1,.3 1-.8 1,.1 1,.4 1-.2 1-.1 1,1.3L1100,474.9 1100,800 100,800 100,233.4Z"/>
<path id="a5" d="M175.6,206.7l.2,1.5 .2,1.4 .2,1.4 .2,1.2 .2,1.3 .2,1.1 .2,1.1 .2,1 .2,1 .2,1 .2,.9 .2,.9 .2,.9 .2,.8 .2,.9 .2,.7 .2,.8 .2,.8 .2,.7 .2,.7 .4,1.4 .8,2.6 .8,2.4 .8,2.3 .8,2.2 .8,2 .8,2 .8,1.9 .8,1.8 .8,1.8 .8,1.7 .8,1.6 .8,1.7 .8,1.5 .8,1.6 .8,1.5 .8,1.5 .8,1.4 .8,1.4 .8,1.4 .8,1.4 .8,1.3 .8,1.3 .8,1.3 .8,1.3 .8,1.3 .8,1.2 .8,1.2 .8,1.2 .8,1.2 .8,1.2 .8,1.1 .8,1.2 .8,1.1 .8,1.1 .8,1.1 .8,1 .8,1.1 .8,1.1 .8,1 .8,1 .8,1 .8,1 .8,1 .8,1 1.4,1.7 1.5,1.8 1.5,1.7 1.5,1.7 1.5,1.7 1.5,1.6 1.5,1.6 1.5,1.6 1.5,1.5 1.5,1.5 1.5,1.5 1.5,1.5 1.5,1.4 1.5,1.5 1.5,1.4 1.5,1.3 1.5,1.4 1.5,1.3 1.5,1.3 1.5,1.3 1.5,1.3 1.5,1.2 1.5,1.2 1.5,1.2 1.5,1.2 1.5,1.2 1.5,1.2 1.5,1.1 1.5,1.1 1.5,1.1 1.5,1.1 1.5,1.1 1.5,1.1 1.5,1 1.5,1.1 1.5,1 1.5,1 1.5,1 1.5,1 1.5,.9 1.5,1 1.5,.9 1.5,1 1.5,.9 1.5,.9 1.5,.9 1.5,.9 1.5,.8 1.5,.9 1.5,.9 1.5,.8 1.5,.8 1.5,.9 1.5,.8 1.5,.8 1.5,.8 1.5,.8 1.5,.8 1.5,.7 1.5,.8 1.5,.8 1.5,.7 1.5,.7 1.5,.8 1.5,.7 1.5,.7 1.5,.7 1.5,.7 1.5,.7 1.5,.7 1.5,.7 1.5,.6 1.5,.7 1.5,.7 1.5,.6 1.5,.7 1.5,.6 1.5,.6 1.5,.7 1.5,.6 1.5,.6 1.5,.6 1.5,.6 1.5,.6 1.5,.6 1.5,.6 1.5,.6 1.5,.5 1.5,.6 1.5,.6 1.5,.5 1.5,.6 1.5,.5 1.5,.6 1.5,.5 1.5,.6 1.5,.5 1.5,.5 1.5,.5 1.5,.6 1.5,.5 1.5,.5 1.5,.5 1.5,.5 1.5,.5 1.5,.5 1.5,.5 0,0 1,.3 1,.3 1,.3 1,.4 1,.3 1,.3 1,.3 1,.3 1,.3 1,.3 1,.3 1,.4 1,.3 1,.3 1,.2 1,.3 1,.3 1,.3 1,.3 1,.3 1,.3 1,.3 1,.3 1,.3 1,.3 1,.2 1,.3 1,.3 1,.3 1,.2 1,.4 1,.3 1,.2 1,.3 1,.3 1,.2 1,.3 1,.3 1,.3 1,.3 1,.2 1,.2 1,.3 1,.2 1,.3 1,.3 1,.2 1,.3 1,.2 1,.4 1,.2 1,.2 1,.2 1,.3 1,.3 1,.1 1,.3 1,.3 1,.2 1,.3 1,.3 1,.1 1,.3 1,.2 1,.3 1,.2 1,.3 1,.2 1,.3 1,.1 1,.2 1,.4 1,.1 1,.3 1,.2 1,.3 1,.3 1,.1 1,.3 1,0 1,.4 1,.1 1,.3 1,.2 1,.2 1,.3 1,0 1,.4 1,.1 1,.4 1,.1 1,.3 1,.1 1,.3 1,.2 1,.1 1,.3 1,.1 1,.3 1,.3 1,.1 1,.3 1-.1 1,.3 1,.2 1,.3 1,.2 1,.2 1,.2 1,.3 1,.1 1,.1 1,.2 1,.5 1-.2 1,.4 1,.3 1,.1 1,.1 1,.3 1,.2 1,.3 1,0 1,.3 1,.1 1,.3 1,.2 1,0 1,.1 1,.4 1,.3 1,.1 1,.1 1,.4 1-.1 1,.3 1,.1 1,.2 1,.2 1,.3 1-.1 1,.3 1,0 1,.4 1,.1 1,.3 1,0 1,.2 1,.4 1,0 1,.3 1,.1 1,.1 1,0 1,.5 1,.1 1,.2 1-.2 1,.3 1,.1 1,.3 1,.4 1,.1 1,.1 1,.2 1,.2 1,0 1,.3 1,.1 1-.1 1,.4 1,.4 1-.1 1,.2 1,.1 1,.2 1,.4 1-.1 1,.1 1-.2 1,.6 1-.1 1,.2 1,.5 1,.2 1-.3 1,.6 1,.1 1,0 1,.3 1-.2 1,.2 1,.2 1,.2 1,.4 1-.2 1,.2 1,.2 1,.3 1,.1 1,.3 1-.1 1,.1 1,.2 1,.3 1,0 1,.3 1,.4 1-.2 1,.2 1,.4 1-.2 1,.1 1,.1 1,.4 1,.1 1,.1 1,.1 1,.4 1,.1 1-.3 1,.4 1,.2 1,.2 1,0 1,0 1,.2 1-.1 1,.5 1,0 1,.3 1-.1 1,.2 1,.1 1,.1 1,.4 1,0 1,.3 1-.2 1,.4 1-.2 1,.3 1,.2 1,.3 1,.1 1,0 1,.3 1,0 1,.2 1,.2 1,0 1,.1 1,.2 1,0 1,.3 1,.3 1,0 1-.1 1,0 1,.3 1,.2 1,.3 1-.1 1,.1 1,.3 1-.1 1,.2 1,.5 1,.1 1-.1 1,.1 1-.2 1,.5 1,0 1,.2 1-.1 1,.3 1,0 1,.3 1,.3 1-.1 1-.3 1,.3 1,0 1,.3 1,.4 1,.1 1-.1 1,.3 1-.1 1-.1 1,.1 1,.3 1,.6 1-.5 1,.7 1,.2 1-.3 1,.2 1,0 1,.2 1,.3 1-.1 1,.4 1,.2 1-.1 1,.1 1,0 1,.2 1-.2 1,.5 1,0 1-.1 1,.8 1-.6 1,.1 1,.4 1-.4 1,.3 1,0 1,.2 1,.3 1,.3 1,.3 1,0 1,.2 1,0 1-.2 1,.5 1-.3 1,.1 1,.7 1-.1 1-.1 1,.3 1,.1 1-.5 1,.5 1-.2 1,.5 1-.1 1,.6 1-.1 1-.3 1,.3 1-.2 1,.5 1,.2 1,0 1-.5 1,.6 1,.3 1,.1 1,.3 1-.6 1,.6 1-.2 1,.4 1,.1 1,.2 1-.3 1,.4 1-.3 1,0 1,.7 1-.1 1-.3 1,.3 1,.3 1,.6 1-.1 1,.1 1-.7 1,.6 1,.3 1,0 1,.1 1-.1 1,.7 1,.1 1-.4 1-.2 1,1 1-.7 1,.7 1,.3 1-.8 1,.5 1-.1 1,.3 1,.1 1,.6 1-.3 1-.1 1,.4 1-.3 1,0 1,.9 1-.8 1,.2 1,.2 1-.2 1-.2 1,1.1 1-.5 1,.1 1,.2 1-.1 1,0 1,.5 1,.8 1-.4 1,.1 1-.6 1,.5 1-.3 1,.8 1-.3 1,.2 1,.1 1-.1 1-.2 1,.8 1-.6 1,.2 1,.3 1,0 1,.4 1,.4 1-.2 1,.1 1,0 1,.4 1-.9 1,.9 1-.4 1,0 1,.5 1,0 1,.4 1,.3 1-1.1 1,.8 1,.8 1-.3 1,.3 1-.4 1-.4 1,.2 1,.7 1,.2 1-.5 1,.2 1,.3 1-.6 1,.6 1,.8 1,.2 1-.7 1,.8 1-.8 1,0 1-.4 1,1.2 1-.4 1,1.1 1-.7 1,.1 1-.7 1,1.3 1-.6 1,.2 1-.7 1,1.3 1,.1 1-.5 1,.3 1,.2 1,.3 1-.2 1,.6 1-.6 1-.1 1,.2 1-.7 1,.7 1,.8 1-.2 1-.4 1,.6 1-.9 1,.8 1,.4 1,.1 1-.5 1,.8 1,.4 1-.8 1,.6 1-.9 1-.1 1,1.1 1-.1 1,.1 1-.2 1,.2 1,.5 1,.5 1-.7 1-.5 1,1.2 1-.2 1,.1 1-.1 1,1 1-.9 1,.3 1-.9 1,.6 1,0 1,.4 1,.2 1-.4 1,1.1 1-1 1,.3 1,.4 1-.6 1,.9 1,.1 1-.4 1,1 1-.6 1,.1 1-.4 1-.3 1,.6 1,.2 1,0 1,.6 1-1.3 1,.6 1-.2 1,1.4 1-.7 1,.1 1-.2 1,.9 1-.4 1,.3 1-.9 1,1.5 1-.3 1,.1 1,.4 1-.5 1,.1 1,.4 1,0 1-.3 1,.2 1-.1 1,.6 1,.2 1-.4 1,.9 1-1.4 1,.6 1,1 1-.9 1-.5 1,1.5 1-.4 1-.7 1,1 1-.8 1,0 1,.6 1-.1 1-.2 1,.4 1-.2 1,.5 1,.1 1,.4 1-.5 1-.3 1,.1 1,.5 1,.9 1-.2 1-.7 1,.9 1-1 1,1.1 1-.6 1,.7 1,0 1-.4 1,.4 1-.6 1,.5L1100,472.1 1100,800 100,800 100,206.7Z"/>
<path id="a6" d="M175.6,190.8l.2,1.7 .2,1.5 .2,1.5 .2,1.4 .2,1.3 .2,1.2 .2,1.2 .2,1.2 .2,1.1 .2,1 .2,1 .2,1 .2,.9 .2,.9 .2,.9 .2,.9 .2,.8 .2,.8 .2,.8 .2,.8 .4,1.5 .8,2.8 .8,2.6 .8,2.4 .8,2.3 .8,2.2 .8,2.1 .8,2 .8,2 .8,1.8 .8,1.9 .8,1.7 .8,1.8 .8,1.6 .8,1.7 .8,1.6 .8,1.6 .8,1.5 .8,1.5 .8,1.5 .8,1.4 .8,1.5 .8,1.4 .8,1.3 .8,1.4 .8,1.3 .8,1.3 .8,1.3 .8,1.3 .8,1.3 .8,1.2 .8,1.2 .8,1.2 .8,1.2 .8,1.2 .8,1.2 .8,1.1 .8,1.1 .8,1.2 .8,1.1 .8,1 .8,1.1 .8,1.1 .8,1 .8,1.1 1.4,1.8 1.5,1.9 1.5,1.8 1.5,1.8 1.5,1.8 1.5,1.7 1.5,1.7 1.5,1.7 1.5,1.7 1.5,1.6 1.5,1.6 1.5,1.5 1.5,1.6 1.5,1.5 1.5,1.4 1.5,1.5 1.5,1.4 1.5,1.5 1.5,1.3 1.5,1.4 1.5,1.4 1.5,1.3 1.5,1.3 1.5,1.3 1.5,1.2 1.5,1.3 1.5,1.2 1.5,1.2 1.5,1.2 1.5,1.2 1.5,1.2 1.5,1.1 1.5,1.1 1.5,1.2 1.5,1.1 1.5,1 1.5,1.1 1.5,1.1 1.5,1 1.5,1 1.5,1.1 1.5,1 1.5,.9 1.5,1 1.5,1 1.5,.9 1.5,1 1.5,.9 1.5,.9 1.5,.9 1.5,.9 1.5,.9 1.5,.9 1.5,.9 1.5,.8 1.5,.9 1.5,.8 1.5,.8 1.5,.8 1.5,.9 1.5,.8 1.5,.7 1.5,.8 1.5,.8 1.5,.8 1.5,.7 1.5,.8 1.5,.7 1.5,.7 1.5,.8 1.5,.7 1.5,.7 1.5,.7 1.5,.7 1.5,.7 1.5,.7 1.5,.6 1.5,.7 1.5,.7 1.5,.6 1.5,.7 1.5,.6 1.5,.7 1.5,.6 1.5,.6 1.5,.6 1.5,.6 1.5,.7 1.5,.6 1.5,.6 1.5,.5 1.5,.6 1.5,.6 1.5,.6 1.5,.6 1.5,.5 1.5,.6 1.5,.5 1.5,.6 1.5,.5 1.5,.6 1.5,.5 1.5,.5 1.5,.6 1.5,.5 1.5,.5 1.5,.5 0,0 1,.4 1,.3 1,.3 1,.4 1,.3 1,.3 1,.4 1,.3 1,.3 1,.3 1,.4 1,.3 1,.3 1,.3 1,.3 1,.3 1,.4 1,.3 1,.3 1,.3 1,.3 1,.3 1,.3 1,.3 1,.3 1,.3 1,.3 1,.2 1,.4 1,.3 1,.3 1,.2 1,.4 1,.3 1,.2 1,.3 1,.3 1,.3 1,.2 1,.4 1,.2 1,.3 1,.3 1,.2 1,.3 1,.3 1,.3 1,.2 1,.2 1,.3 1,.3 1,.3 1,.3 1,.2 1,.2 1,.4 1,.2 1,.2 1,.3 1,.3 1,.2 1,.3 1,.2 1,.3 1,.2 1,.3 1,0 1,.4 1,.2 1,.3 1,.3 1,.2 1,.3 1,.2 1,.2 1,.3 1,.2 1,.2 1,.3 1,.2 1,.1 1,.4 1,.2 1,.2 1,.3 1,.2 1,.2 1,.3 1,.2 1,.2 1,.2 1,.2 1,.2 1,.2 1,.3 1,.1 1,.2 1,.4 1,.1 1,.3 1,.2 1,.2 1,.2 1,.2 1,.2 1,.3 1,.1 1,.3 1,0 1,.3 1,.4 1,.1 1,.1 1,.3 1,.1 1,.3 1,0 1,.4 1,.1 1,.3 1,.3 1,0 1,.4 1,0 1,.1 1,.2 1,.5 1,.1 1,.1 1,.2 1,.1 1,.5 1,0 1,.4 1,0 1,0 1,.5 1,0 1,.2 1,.4 1,0 1,.3 1,.1 1,.1 1,.3 1,.1 1,.3 1,.2 1,.1 1,.2 1,.2 1,.1 1,.3 1,0 1,.3 1,0 1,.3 1,.2 1,.1 1,.2 1,.1 1,.4 1,0 1,.3 1,.3 1,0 1-.1 1,.4 1,.3 1,0 1,.3 1,.1 1,.2 1,.1 1,.1 1,.2 1,.2 1,.2 1,.2 1,.1 1,.2 1,.2 1-.1 1,.2 1,.2 1,.2 1,.2 1,.1 1,.1 1,.4 1,.1 1-.1 1,.4 1,0 1,.5 1-.1 1,.1 1,.3 1,.1 1,.1 1,.4 1,0 1,.2 1,.2 1-.1 1,.5 1,0 1,.2 1-.1 1,.4 1,.1 1,0 1,.6 1-.1 1,0 1,.2 1,.2 1,.2 1,.1 1,.2 1,.2 1-.3 1,.3 1,.1 1,.3 1,.3 1,.1 1-.2 1,.3 1,.3 1-.1 1,.2 1,.2 1-.2 1,.6 1,.1 1,.2 1-.2 1,.2 1,.2 1,.3 1,.1 1,.1 1,.4 1,.1 1-.2 1,.1 1,.6 1-.3 1,.5 1,.1 1-.2 1,.2 1,.2 1-.1 1,.1 1,.3 1,.3 1-.1 1,.2 1,.1 1,0 1,.6 1-.6 1,.5 1,.3 1-.2 1,.5 1,.3 1-.3 1,.3 1-.1 1,.4 1,.1 1,.1 1,.4 1-.1 1,.3 1,0 1-.2 1,.4 1,.2 1-.3 1,.7 1-.2 1,.2 1-.1 1,.3 1,.2 1,0 1,.2 1-.4 1,.9 1-.4 1-.1 1,.4 1,.1 1,.4 1-.2 1,.4 1-.1 1,.8 1-.3 1,.4 1-.5 1,.5 1-.2 1,.4 1,.1 1-.3 1,.2 1,.1 1,0 1,.3 1,.1 1,0 1,.4 1,.3 1-.3 1,.2 1,.3 1,0 1,0 1,.5 1,.1 1,.1 1-.1 1,.6 1,.1 1-.4 1,.2 1,.4 1-.4 1,.4 1,.1 1-.1 1,.2 1-.2 1,.4 1-.3 1,1.2 1-.1 1,0 1-.1 1,.3 1,.2 1,0 1,.1 1-.4 1,.5 1-.2 1,0 1,.1 1,.5 1,.3 1-.5 1,.9 1,0 1-.4 1,.1 1,.2 1,.4 1-.3 1,0 1,.4 1-.5 1,.7 1,.4 1-.2 1,.3 1,0 1,.2 1-.1 1-.1 1,.2 1,.2 1,.4 1,.2 1-.2 1-.2 1,.1 1,.2 1,.6 1-.2 1,0 1-.1 1,.5 1,0 1,0 1,.1 1,.5 1-.4 1,.6 1,0 1-.2 1,.3 1-.2 1-.1 1,.3 1-.1 1,.5 1,0 1,.2 1,.2 1-1.1 1,1.1 1-.5 1,.7 1-.2 1,.3 1,.5 1-.8 1,.7 1,0 1-.5 1,.9 1-.1 1-.1 1,0 1,1.3 1-1 1-.3 1,.4 1,.2 1,.1 1,.2 1-.2 1,.6 1-.3 1-.1 1,.2 1,.3 1,.4 1,0 1-.2 1,.2 1,.2 1,.7 1-.8 1,.4 1,.2 1-.4 1,.4 1,.1 1-.1 1,.4 1,.3 1,.1 1-.4 1,.3 1,.7 1-1 1,.5 1,.3 1-.1 1,.2 1,0 1,.2 1,.3 1-.4 1,.2 1,0 1,0 1,.2 1-.3 1,.7 1,.4 1,.1 1,0 1-.7 1,.9 1-.6 1,.3 1,.7 1-.9 1,.7 1-.1 1,0 1-.2 1,.5 1-.2 1,.6 1,.2 1-.8 1,.3 1,.2 1-.2 1,.1 1,.5 1,0 1-.5 1,.5 1,.5 1-.6 1,.2 1,1 1,0 1-1 1,.2 1,.7 1-.5 1,.4 1,0 1,.5 1-1.1 1,.2 1,.5 1,.9 1-.4 1-.5 1,.9 1,.2 1-.3 1,.1 1,.3 1,.4 1-.3 1,.2 1-.1 1-.1 1-.1 1,.5 1-.1 1,.1 1,.5 1-.1 1,.2 1-.8 1,.9 1-.4 1,0 1,.1 1,.9 1-.1 1-.5 1-.1 1,.5 1-.1 1,.9 1-1.1 1-.1 1,.7 1,.2 1,.1 1,.3 1,.6 1-.9 1,0 1-.4 1,.9 1,.3 1-.4 1,.7 1-.4 1,.7 1-.4 1-.5 1,.2 1-.2 1,0 1,.8 1,.4 1,.5 1-.8 1,0 1-.2 1,.9 1-.2 1-.3 1,.6 1,0 1-.9 1,1.1 1-.2 1-.1 1,.1 1,.9 1,0 1,.2 1-1.1 1,.2 1,.8 1-.9 1,.3 1-.4 1,1.6 1-.2 1-.2 1,0 1-.2 1,.1 1,.5 1-.5 1,.9 1-.7 1-.1 1,1 1-.5 1,.3 1-.3 1-.7 1,1.2L1100,471.3 1100,800 100,800 100,190.8Z"/>
<path id="a7" d="M175.6,166.8l.2,1.9 .2,1.8 .2,1.7 .2,1.5 .2,1.5 .2,1.4 .2,1.3 .2,1.3 .2,1.2 .2,1.2 .2,1.1 .2,1.1 .2,1.1 .2,1 .2,1 .2,.9 .2,.9 .2,.9 .2,.9 .2,.9 .4,1.6 .8,3.1 .8,2.9 .8,2.7 .8,2.5 .8,2.4 .8,2.3 .8,2.2 .8,2.1 .8,2.1 .8,2 .8,1.9 .8,1.9 .8,1.8 .8,1.8 .8,1.8 .8,1.7 .8,1.6 .8,1.7 .8,1.6 .8,1.6 .8,1.5 .8,1.6 .8,1.5 .8,1.4 .8,1.5 .8,1.4 .8,1.4 .8,1.4 .8,1.4 .8,1.3 .8,1.4 .8,1.3 .8,1.3 .8,1.3 .8,1.2 .8,1.3 .8,1.2 .8,1.2 .8,1.2 .8,1.2 .8,1.2 .8,1.2 .8,1.1 .8,1.1 1.4,2 1.5,2 1.5,2.1 1.5,1.9 1.5,2 1.5,1.9 1.5,1.8 1.5,1.9 1.5,1.8 1.5,1.7 1.5,1.7 1.5,1.7 1.5,1.7 1.5,1.7 1.5,1.6 1.5,1.6 1.5,1.5 1.5,1.6 1.5,1.5 1.5,1.5 1.5,1.5 1.5,1.4 1.5,1.4 1.5,1.4 1.5,1.4 1.5,1.4 1.5,1.3 1.5,1.3 1.5,1.3 1.5,1.3 1.5,1.3 1.5,1.2 1.5,1.3 1.5,1.2 1.5,1.2 1.5,1.2 1.5,1.1 1.5,1.2 1.5,1.1 1.5,1.1 1.5,1.1 1.5,1.1 1.5,1.1 1.5,1.1 1.5,1 1.5,1 1.5,1.1 1.5,1 1.5,1 1.5,1 1.5,.9 1.5,1 1.5,.9 1.5,1 1.5,.9 1.5,.9 1.5,.9 1.5,.9 1.5,.9 1.5,.9 1.5,.9 1.5,.8 1.5,.9 1.5,.8 1.5,.8 1.5,.9 1.5,.8 1.5,.8 1.5,.8 1.5,.8 1.5,.7 1.5,.8 1.5,.8 1.5,.7 1.5,.8 1.5,.7 1.5,.7 1.5,.7 1.5,.8 1.5,.7 1.5,.7 1.5,.7 1.5,.7 1.5,.6 1.5,.7 1.5,.7 1.5,.6 1.5,.7 1.5,.6 1.5,.7 1.5,.6 1.5,.7 1.5,.6 1.5,.6 1.5,.6 1.5,.6 1.5,.6 1.5,.6 1.5,.6 1.5,.6 1.5,.6 1.5,.6 1.5,.5 1.5,.6 1.5,.6 1.5,.5 1.5,.6 0,0 1,.3 1,.4 1,.4 1,.3 1,.4 1,.3 1,.4 1,.3 1,.4 1,.3 1,.4 1,.3 1,.4 1,.3 1,.3 1,.4 1,.3 1,.3 1,.4 1,.3 1,.3 1,.4 1,.3 1,.3 1,.3 1,.4 1,.3 1,.3 1,.3 1,.4 1,.2 1,.3 1,.3 1,.3 1,.4 1,.2 1,.3 1,.4 1,.2 1,.4 1,.3 1,.3 1,.3 1,.2 1,.3 1,.3 1,.3 1,.3 1,.2 1,.4 1,.2 1,.3 1,.3 1,.3 1,.2 1,.3 1,.2 1,.4 1,.3 1,.2 1,.3 1,.2 1,.4 1,.2 1,.3 1,.2 1,.2 1,.4 1,.2 1,.3 1,.2 1,.3 1,.2 1,.3 1,.2 1,.3 1,.2 1,.2 1,.3 1,.3 1,.2 1,.3 1,.1 1,.4 1,.1 1,.3 1,.3 1,.1 1,.3 1,.3 1,.2 1,.3 1,.2 1,.4 1,.1 1,.2 1,.3 1,.2 1,.2 1,.3 1,.2 1,.2 1,.2 1,.2 1,.3 1,.2 1,.1 1,.3 1,.3 1,.1 1,.3 1,.2 1,.2 1,.1 1,.4 1,.2 1,.2 1,.3 1,.1 1,.3 1,.2 1,.1 1,.4 1,.2 1,.1 1,.3 1,.1 1,.1 1,.4 1,.1 1,.2 1,.2 1,.3 1,.1 1,.1 1,.3 1,.2 1,.1 1,.2 1,.2 1,.2 1,.3 1,.2 1,.3 1,.1 1,.2 1,.2 1,.2 1,.1 1,.3 1,.1 1,.2 1,.1 1,.2 1,.2 1,.1 1,.4 1,.1 1,.2 1,.2 1,.2 1,.1 1,.2 1,0 1,.1 1,.2 1,.6 1-.2 1,.4 1,.3 1,0 1,.4 1,.2 1,.1 1,.3 1,0 1,0 1,.3 1,.1 1,.1 1,.1 1,.6 1-.2 1,.3 1,.1 1,.2 1,.2 1,.1 1,.1 1,.1 1,.3 1,.3 1,.3 1,.1 1,.2 1,0 1,.1 1,0 1,.4 1-.1 1,.3 1,.4 1,0 1,.3 1,0 1,0 1,.3 1,.1 1,.4 1,.3 1-.2 1,.2 1,.2 1,.1 1,0 1,.4 1,.1 1,.2 1-.1 1,.3 1,0 1,.5 1-.1 1,.2 1,.1 1,.2 1,.1 1,0 1,.6 1,0 1,.1 1,.4 1-.1 1,.2 1,.1 1,.3 1,.1 1,.1 1,0 1,.3 1,.2 1-.3 1,.4 1,.1 1,.2 1-.1 1,.5 1-.1 1,.3 1,.1 1-.1 1,.3 1,0 1,.2 1,.3 1,.2 1,.1 1,.1 1,.5 1-.1 1-.1 1,.2 1,.1 1,.2 1,.1 1,.1 1,.5 1-.1 1,.1 1,.1 1,.2 1,.4 1-.1 1,.3 1-.6 1,.7 1,.3 1,.3 1-.2 1-.2 1,.5 1-.1 1,0 1,.3 1,.4 1,.2 1,0 1-.2 1,.8 1-.5 1,.3 1-.1 1,.6 1,0 1,.2 1-.1 1,.1 1,.2 1-.2 1,.6 1,.1 1-.1 1,.2 1,.2 1,.3 1-.1 1,.1 1,0 1-.1 1,.3 1,.3 1,0 1,.2 1,.3 1,0 1,.1 1,.2 1,0 1,.1 1,.2 1-.3 1,.7 1-.4 1,.6 1-.1 1,.4 1-.1 1-.1 1,.5 1,0 1,.1 1,.1 1,.3 1,0 1,0 1-.2 1,.3 1,.3 1,.4 1-.2 1,.1 1,.3 1-.1 1,.1 1,.2 1-.3 1,.6 1,0 1,0 1-.1 1,.4 1,.4 1-.3 1,0 1,.4 1-.3 1,0 1,.5 1,0 1,.2 1,.1 1,.3 1,0 1,0 1,.1 1,.4 1,.1 1,.1 1,.1 1-.8 1,.6 1,.3 1,.2 1-.3 1,.8 1-.1 1-.1 1,.2 1,0 1,0 1,.4 1-.1 1-.1 1,.3 1,.2 1-.1 1,.6 1-.4 1,.8 1-.1 1-.4 1,.4 1,.3 1-.2 1-.1 1,.4 1,.5 1-.7 1,.6 1,0 1,0 1,.1 1,.1 1,.4 1,0 1-.3 1,.7 1-.6 1,.6 1,0 1,.4 1-.2 1,.3 1-.2 1,.4 1-.1 1,.6 1-.6 1,.5 1-.1 1,.1 1-.1 1,.3 1-.4 1,.2 1,.6 1-.5 1,.9 1-.4 1,.3 1,0 1,.2 1-.1 1,.1 1,.1 1,.4 1,.2 1,.1 1-.2 1,0 1-.3 1,.7 1,.1 1-.2 1,.4 1,.2 1-.2 1,.4 1-.1 1-.5 1,.4 1,.1 1,.4 1-.3 1,.2 1-.1 1,.4 1,.1 1,.3 1,.1 1-.1 1,.1 1,.1 1,.1 1,.5 1-1.1 1,.7 1,.3 1,.3 1-.5 1,.4 1,.3 1-.3 1-.3 1,.5 1-.2 1,.7 1-.4 1,.9 1-.4 1-.2 1,.2 1-.1 1,.5 1,.4 1-.4 1,.4 1-.4 1,.4 1,.7 1-1 1,.8 1,.1 1-.8 1,.2 1,.2 1,.7 1-.3 1,.1 1,.4 1-.1 1,.1 1-.1 1,.5 1-.5 1,.9 1-.6 1,0 1,.5 1,0 1-.6 1,.7 1-.4 1,.3 1,.6 1-.5 1,.5 1-.2 1,.8 1-.5 1-.3 1,.1 1,.2 1,.4 1,0 1,.4 1-.2 1,.1 1,.2 1-.1 1,.2 1,.2 1,.1 1-.3 1-.3 1,.3 1,.5 1-.8 1,.7 1,.4 1-.3 1-.1 1,1 1,0 1-.5 1,.6 1,.1 1-.7 1,1.3 1-1.1 1,.3 1-.2 1,.5 1-.4 1,.5 1,.4 1-.2 1-.1 1,.7 1-.7 1,.7 1-.4 1,.3 1,0 1,.1 1,0 1-.1 1,.1 1,.4 1-.1 1-.3 1,.3 1,0 1,.3 1,.2 1,0 1-.1 1,.3 1-.5 1-.4 1,1.1 1-.5 1,.3 1,0 1,.7 1-.6 1,.6 1-.2 1-.2 1,0 1,.8 1,0 1,.2 1,.5 1-.5 1,.1 1-.1 1,.2 1-.1 1-.2 1,1.2 1-1.4L1100,468.8 1100,800 100,800 100,166.8Z"/>
<path id="a8" d="M175.6,143.1l.2,2.1 .2,2 .2,1.8 .2,1.8 .2,1.6 .2,1.6 .2,1.5 .2,1.4 .2,1.3 .2,1.3 .2,1.3 .2,1.2 .2,1.1 .2,1.1 .2,1.1 .2,1 .2,1.1 .2,.9 .2,1 .2,.9 .4,1.9 .8,3.3 .8,3.2 .8,2.9 .8,2.7 .8,2.7 .8,2.5 .8,2.4 .8,2.3 .8,2.2 .8,2.1 .8,2.1 .8,2.1 .8,2 .8,1.9 .8,1.9 .8,1.8 .8,1.9 .8,1.7 .8,1.8 .8,1.7 .8,1.7 .8,1.6 .8,1.6 .8,1.6 .8,1.6 .8,1.6 .8,1.5 .8,1.5 .8,1.5 .8,1.4 .8,1.5 .8,1.4 .8,1.4 .8,1.4 .8,1.3 .8,1.4 .8,1.3 .8,1.3 .8,1.3 .8,1.3 .8,1.3 .8,1.3 .8,1.2 .8,1.2 1.4,2.1 1.5,2.3 1.5,2.1 1.5,2.2 1.5,2.1 1.5,2 1.5,2 1.5,2 1.5,2 1.5,1.9 1.5,1.9 1.5,1.8 1.5,1.8 1.5,1.8 1.5,1.7 1.5,1.8 1.5,1.7 1.5,1.6 1.5,1.7 1.5,1.6 1.5,1.6 1.5,1.5 1.5,1.6 1.5,1.5 1.5,1.5 1.5,1.5 1.5,1.4 1.5,1.4 1.5,1.4 1.5,1.4 1.5,1.4 1.5,1.3 1.5,1.4 1.5,1.3 1.5,1.3 1.5,1.3 1.5,1.2 1.5,1.3 1.5,1.2 1.5,1.2 1.5,1.2 1.5,1.2 1.5,1.1 1.5,1.2 1.5,1.1 1.5,1.1 1.5,1.1 1.5,1.1 1.5,1.1 1.5,1.1 1.5,1 1.5,1.1 1.5,1 1.5,1 1.5,1 1.5,1 1.5,1 1.5,.9 1.5,1 1.5,.9 1.5,1 1.5,.9 1.5,.9 1.5,.9 1.5,.9 1.5,.9 1.5,.8 1.5,.9 1.5,.9 1.5,.8 1.5,.8 1.5,.9 1.5,.8 1.5,.8 1.5,.8 1.5,.8 1.5,.8 1.5,.7 1.5,.8 1.5,.8 1.5,.7 1.5,.8 1.5,.7 1.5,.7 1.5,.8 1.5,.7 1.5,.7 1.5,.7 1.5,.7 1.5,.7 1.5,.7 1.5,.6 1.5,.7 1.5,.7 1.5,.6 1.5,.7 1.5,.6 1.5,.7 1.5,.6 1.5,.6 1.5,.6 1.5,.7 1.5,.6 1.5,.6 1.5,.6 1.5,.6 1.5,.6 0,0 1,.4 1,.3 1,.4 1,.4 1,.4 1,.4 1,.4 1,.3 1,.4 1,.4 1,.3 1,.4 1,.4 1,.3 1,.4 1,.3 1,.4 1,.4 1,.3 1,.4 1,.3 1,.4 1,.3 1,.4 1,.3 1,.3 1,.4 1,.3 1,.3 1,.4 1,.3 1,.4 1,.3 1,.3 1,.3 1,.3 1,.4 1,.3 1,.3 1,.3 1,.3 1,.4 1,.3 1,.3 1,.3 1,.3 1,.3 1,.3 1,.3 1,.3 1,.3 1,.3 1,.3 1,.3 1,.3 1,.3 1,.3 1,.3 1,.3 1,.2 1,.3 1,.3 1,.3 1,.3 1,.2 1,.4 1,.3 1,.2 1,.3 1,.2 1,.4 1,.2 1,.2 1,.3 1,.3 1,.3 1,.2 1,.3 1,.3 1,.2 1,.3 1,.3 1,.2 1,.2 1,.3 1,.3 1,.2 1,.3 1,.2 1,.2 1,.3 1,.3 1,.3 1,.2 1,.2 1,.3 1,.2 1,.3 1,.2 1,.3 1,.3 1,.1 1,.3 1,.2 1,.2 1,.3 1,.2 1,.2 1,.2 1,.3 1,.1 1,.4 1,.2 1,.2 1,.3 1,.3 1,.1 1,.2 1,.3 1,.1 1,.2 1,.2 1,.4 1,.2 1,.2 1,.2 1,.2 1,.2 1,.2 1,.3 1,.2 1,.3 1,0 1,.3 1,.1 1,.4 1,0 1,.4 1,.2 1,.1 1,.3 1,0 1,.3 1,.1 1,.4 1,.2 1,.1 1,.3 1,.2 1,.1 1,.2 1,.1 1,.3 1,.4 1,0 1,.3 1,.1 1,.3 1,.2 1,.1 1,.1 1,.3 1,.3 1,.1 1,.2 1,.1 1,.1 1,.4 1,.1 1,.2 1,.2 1,.2 1,.1 1,.3 1,.1 1,0 1,.4 1,.1 1,.2 1,.3 1,.1 1,.2 1,.3 1,.1 1,0 1,.2 1,.4 1,0 1,.2 1,.2 1,.2 1,.2 1,.2 1,0 1,.2 1,.2 1,.2 1,0 1,.3 1,.1 1,.4 1,.2 1,.2 1,.1 1,0 1,.3 1,.1 1,.2 1,0 1,.2 1,.3 1,.3 1,0 1,.4 1,.2 1-.3 1,.3 1,.1 1,.2 1,.1 1,.2 1,.3 1,.2 1,.1 1,.1 1,.1 1,.2 1,.2 1,.1 1,.2 1,0 1,.4 1,.2 1,0 1,0 1,.4 1,0 1-.2 1,.5 1,.3 1,.1 1,.2 1,.1 1,.1 1-.1 1,.2 1,.3 1,.3 1-.1 1,.2 1,.3 1-.2 1,.2 1,.3 1,.2 1,.1 1-.1 1,.4 1,0 1,.4 1,0 1,.2 1,.2 1,0 1,.3 1,.2 1,0 1,.3 1-.1 1,.3 1,.1 1,0 1,.2 1,.1 1,.1 1,.2 1,.3 1,0 1,.2 1-.1 1,.3 1,.3 1,.1 1,.1 1,0 1,0 1,.3 1,0 1,.1 1,.4 1-.1 1,.5 1-.3 1,.4 1-.1 1,.3 1,0 1,.3 1,.1 1,0 1,.3 1,.3 1-.2 1,.4 1,0 1,.1 1,.4 1-.5 1,.4 1-.1 1,.4 1,.1 1,.7 1-.4 1,.4 1,0 1-.1 1,.3 1,.3 1-.1 1,.1 1,.2 1-.2 1,.2 1,.3 1,.1 1-.1 1,.3 1,.1 1,.1 1,.3 1,0 1,.1 1-.1 1,.2 1,.3 1-.2 1,.4 1,0 1,.1 1,.4 1-.1 1,0 1,.2 1,.2 1,.6 1-.7 1,.5 1,0 1,.4 1-.2 1-.2 1,.8 1-.3 1,.3 1-.2 1,.2 1,.2 1,.4 1,.1 1-.2 1,.3 1,0 1,.2 1,.1 1,.2 1-.1 1,.2 1,.2 1,.1 1-.1 1,.6 1-.3 1,.3 1,0 1,.3 1-.5 1,.9 1-.3 1-.1 1,.4 1,.5 1-.3 1-.2 1,.3 1,.4 1-.4 1,.4 1,0 1,.6 1-.4 1,.5 1-.3 1,.1 1,.4 1,0 1-.3 1,.6 1,.1 1-.2 1,.3 1,.1 1,0 1,0 1,.1 1,.2 1-.1 1,.4 1-.2 1,.4 1,.1 1-.1 1,.4 1,.4 1-.1 1-.4 1,.6 1-.1 1,.1 1,0 1,.2 1,.4 1-.1 1-.1 1,0 1,.2 1,.3 1,.4 1-.6 1,.4 1,0 1,0 1,.3 1,.2 1-.3 1,.1 1,.6 1-.1 1,.2 1-.2 1,.2 1,.2 1-.1 1,0 1,.3 1,.3 1-.3 1,.5 1,.1 1-.3 1,.3 1,.1 1,.2 1,.1 1-.3 1,.1 1,.6 1-.1 1,.1 1,.1 1,.4 1-.6 1,.7 1-.4 1,.5 1,.2 1-.5 1,.5 1-.1 1,.1 1,.2 1-.2 1,.1 1,.5 1,.1 1-.2 1-.2 1,1 1-.2 1-.1 1-.2 1,.2 1,.3 1-.2 1,.7 1-.3 1,.2 1-.3 1,.1 1,.2 1,.3 1,0 1,0 1,.3 1,0 1,.4 1-.3 1-.1 1,.3 1,.5 1-.4 1,.2 1,0 1,.3 1,0 1-.2 1,.3 1,.3 1,.2 1,0 1,.1 1-.2 1,0 1,.5 1-.5 1,.4 1-.4 1,.5 1,0 1-.1 1,.6 1-.3 1,.2 1,.1 1,0 1,.6 1-.4 1,.3 1-.4 1,.3 1,.2 1,.1 1,0 1,.2 1,.5 1-.4 1,.1 1,0 1,.9 1-.2 1-.2 1,.1 1-.3 1,.3 1,.1 1,.1 1-.2 1,.1 1,.5 1,0 1-.6 1,.7 1,.4 1-.5 1,.4 1-.4 1,.7 1-.5 1,.1 1,.3 1,.8 1-.7 1-.1 1,.5 1,.1 1,.4 1-.7 1,0 1,.4 1,.3 1,.1 1,.2 1-.6 1,.3 1,.2 1,.4 1,0 1-.2 1-.1 1,.6 1,.1 1,.6 1-.8 1,.6 1-.7 1,.3 1,0 1,.1 1,0 1,.2 1,.2 1-.1 1,.4 1-.1 1,.1 1,.5 1-.3 1,.1 1,0 1,.1 1,.2 1-.3L1100,467.7 1100,800 100,800 100,143.1Z"/>
<path id="a9" d="M175.6,130.7l.2,2.2 .2,2.1 .2,2 .2,1.8 .2,1.7 .2,1.6 .2,1.6 .2,1.5 .2,1.4 .2,1.4 .2,1.3 .2,1.2 .2,1.2 .2,1.2 .2,1.1 .2,1.1 .2,1.1 .2,1 .2,1 .2,1 .4,1.9 .8,3.5 .8,3.3 .8,3 .8,2.9 .8,2.7 .8,2.6 .8,2.5 .8,2.4 .8,2.4 .8,2.2 .8,2.2 .8,2.1 .8,2.1 .8,2 .8,1.9 .8,2 .8,1.9 .8,1.8 .8,1.8 .8,1.8 .8,1.7 .8,1.7 .8,1.7 .8,1.7 .8,1.6 .8,1.6 .8,1.6 .8,1.6 .8,1.5 .8,1.5 .8,1.5 .8,1.5 .8,1.5 .8,1.4 .8,1.4 .8,1.4 .8,1.4 .8,1.4 .8,1.3 .8,1.4 .8,1.3 .8,1.3 .8,1.3 .8,1.3 1.4,2.2 1.5,2.3 1.5,2.3 1.5,2.2 1.5,2.2 1.5,2.1 1.5,2.1 1.5,2 1.5,2.1 1.5,2 1.5,1.9 1.5,1.9 1.5,1.9 1.5,1.9 1.5,1.8 1.5,1.8 1.5,1.7 1.5,1.8 1.5,1.7 1.5,1.6 1.5,1.7 1.5,1.6 1.5,1.6 1.5,1.6 1.5,1.6 1.5,1.5 1.5,1.5 1.5,1.5 1.5,1.4 1.5,1.5 1.5,1.4 1.5,1.4 1.5,1.4 1.5,1.4 1.5,1.3 1.5,1.3 1.5,1.3 1.5,1.3 1.5,1.3 1.5,1.3 1.5,1.2 1.5,1.2 1.5,1.2 1.5,1.2 1.5,1.2 1.5,1.2 1.5,1.1 1.5,1.1 1.5,1.2 1.5,1.1 1.5,1 1.5,1.1 1.5,1.1 1.5,1 1.5,1.1 1.5,1 1.5,1 1.5,1 1.5,1 1.5,1 1.5,1 1.5,.9 1.5,1 1.5,.9 1.5,.9 1.5,.9 1.5,1 1.5,.8 1.5,.9 1.5,.9 1.5,.9 1.5,.8 1.5,.9 1.5,.8 1.5,.8 1.5,.9 1.5,.8 1.5,.8 1.5,.8 1.5,.8 1.5,.7 1.5,.8 1.5,.8 1.5,.7 1.5,.8 1.5,.7 1.5,.8 1.5,.7 1.5,.7 1.5,.7 1.5,.7 1.5,.7 1.5,.7 1.5,.7 1.5,.7 1.5,.7 1.5,.6 1.5,.7 1.5,.6 1.5,.7 1.5,.6 1.5,.7 1.5,.6 1.5,.6 1.5,.7 1.5,.6 1.5,.6 0,0 1,.4 1,.4 1,.4 1,.4 1,.4 1,.4 1,.4 1,.4 1,.3 1,.4 1,.4 1,.4 1,.4 1,.3 1,.4 1,.4 1,.3 1,.4 1,.4 1,.3 1,.4 1,.3 1,.4 1,.4 1,.3 1,.4 1,.3 1,.4 1,.3 1,.3 1,.4 1,.3 1,.4 1,.3 1,.4 1,.3 1,.3 1,.4 1,.2 1,.4 1,.3 1,.3 1,.3 1,.4 1,.3 1,.3 1,.3 1,.3 1,.3 1,.4 1,.3 1,.3 1,.3 1,.3 1,.3 1,.3 1,.3 1,.3 1,.3 1,.3 1,.3 1,.3 1,.2 1,.4 1,.2 1,.4 1,.2 1,.3 1,.3 1,.3 1,.2 1,.3 1,.3 1,.3 1,.2 1,.3 1,.3 1,.2 1,.4 1,.3 1,.2 1,.2 1,.4 1,.2 1,.3 1,.3 1,.1 1,.4 1,.2 1,.3 1,.2 1,.3 1,.2 1,.3 1,.3 1,.2 1,.2 1,.3 1,.2 1,.3 1,.2 1,.3 1,.2 1,.2 1,.3 1,.3 1,.1 1,.3 1,.3 1,.3 1,.2 1,.3 1,.1 1,.3 1,.2 1,.2 1,.3 1,.2 1,.3 1,.1 1,.3 1,.1 1,.3 1,.1 1,.3 1,.3 1,.2 1,.2 1,.2 1,.4 1,.1 1,.2 1,.3 1,.2 1,.2 1,.2 1,.1 1,.3 1,.3 1,.2 1,.1 1,.3 1,.2 1,.2 1,.1 1,.2 1,.3 1,.2 1,.2 1,.3 1,.1 1,.2 1,.2 1,.2 1,.2 1,.1 1,.2 1,.4 1,.1 1,.3 1,.1 1,.2 1,.2 1,.2 1,.1 1,.4 1,0 1,.3 1,.3 1,.1 1,.3 1,0 1,.3 1,.1 1,.2 1,.1 1,.2 1,.3 1,0 1,.3 1,.3 1,0 1,.2 1,.2 1,.2 1,.2 1,.2 1,.2 1,.3 1,0 1,0 1,.4 1,.2 1,.2 1,0 1,.4 1,.1 1,.1 1,.1 1,.3 1,.2 1,.2 1,.1 1,.1 1,.3 1,0 1,.3 1,.1 1,.2 1,.2 1,.1 1,.2 1,.1 1,.2 1,.2 1,.2 1,.1 1,0 1,.4 1,.3 1,0 1,.2 1,.2 1,0 1,.1 1,.4 1,.2 1,.1 1,.1 1,.2 1,.1 1,.2 1,.1 1,.2 1,0 1,.2 1,.3 1,0 1,0 1,.4 1-.1 1,.6 1,0 1,.2 1,0 1,.1 1,.2 1,.2 1,.1 1,.2 1,.2 1,.2 1-.1 1,.1 1,.3 1,.1 1,.3 1,.3 1,.1 1,0 1,.2 1,.2 1,0 1,.2 1,.2 1,0 1,.1 1,.1 1,.3 1,0 1,.3 1,.1 1,.3 1,.1 1-.1 1,.4 1-.1 1,.4 1,0 1,.1 1,.2 1,0 1,.3 1,.1 1,.1 1,.2 1-.1 1,.4 1-.1 1,.3 1,.2 1,.1 1,0 1,.6 1-.3 1,.2 1,0 1,.4 1-.1 1,.3 1-.1 1,.3 1,0 1,.3 1,0 1,.1 1,.3 1-.1 1,.1 1,.4 1-.2 1,.5 1-.1 1,.1 1,.3 1,.1 1,0 1,.2 1,.2 1,.2 1,0 1,0 1,.1 1,.2 1,.3 1,.1 1,.1 1,.2 1-.1 1,.2 1,.1 1,.4 1-.4 1,.4 1,.2 1,0 1,.5 1-.1 1,.1 1-.1 1,.3 1,0 1,.2 1,.1 1,0 1,.3 1,.3 1,0 1,0 1-.2 1,.6 1,.1 1-.1 1,.1 1,.3 1-.1 1,.3 1-.1 1,.1 1,.3 1-.1 1,.3 1,.2 1-.2 1,.5 1-.1 1,.2 1,.1 1,0 1,.1 1-.1 1,.3 1,.1 1,.5 1,0 1-.3 1,.5 1,0 1,0 1,.3 1,.1 1-.1 1,.2 1,.2 1-.1 1,.3 1,.1 1,0 1,0 1,.3 1,.2 1,.1 1-.1 1,.3 1,.1 1,.1 1,.2 1-.2 1,.2 1,.1 1,0 1,.6 1-.1 1-.3 1,.5 1-.1 1,.4 1-.1 1,.1 1,.1 1,.2 1,0 1,.1 1,.1 1,.2 1-.2 1,.3 1,.1 1,0 1,.4 1-.3 1,.3 1,0 1,.3 1-.1 1,.2 1,.2 1-.2 1,.4 1-.1 1,.2 1,.1 1,.3 1,.1 1,.2 1-.1 1-.1 1,.1 1,.3 1,.3 1-.1 1-.1 1,.3 1,.1 1,0 1,0 1-.3 1,.5 1,.4 1-.1 1-.3 1,.5 1-.3 1,.8 1-.2 1-.2 1,.5 1-.2 1,.4 1-.1 1-.1 1,.5 1-.3 1,.6 1-.2 1-.1 1-.1 1,.8 1,.1 1-.5 1,.7 1-.2 1,0 1,.1 1,.1 1,.4 1-.2 1-.2 1,.8 1-.1 1-.3 1,.2 1,0 1,.3 1,.1 1,.1 1-.1 1,.1 1,.4 1-.1 1,.5 1-.5 1,.4 1,0 1-.1 1,.5 1-.2 1-.1 1,.2 1,.4 1-.4 1,.6 1,0 1-.1 1,.4 1,.2 1-.2 1,0 1,.5 1,0 1-.4 1,.2 1,.1 1,0 1-.1 1,.6 1-.1 1,.1 1,.3 1-.3 1,.2 1,.2 1-.1 1,.1 1,.3 1-.1 1,.4 1-.4 1,.3 1-.2 1,.3 1,0 1,.5 1,0 1,0 1,.4 1,0 1-.1 1-.2 1-.1 1,.4 1,0 1,0 1,.2 1-.3 1,.8 1-.5 1,.2 1,.4 1-.4 1,.6 1,.1 1-.2 1-.1 1,.2 1-.2 1,.8 1-.2 1-.1 1,0 1,.4 1,.3 1-.5 1,.2 1-.2 1,.7 1-.1 1,.6 1-.5 1,0 1,0 1,.5 1-.5 1,.6 1,0 1-.1 1,0 1,.5 1,.3 1-.5 1,.3 1,.4 1-.5 1,.2 1-.2 1,.3 1,.1 1,0 1,0 1-.1 1,.1 1,.2 1,.5 1-.2 1,0 1,.4 1,.1 1-.3 1,.1 1,.4 1,0 1-.2L1100,466.9 1100,800 100,800 100,130.7Z"/>
<path id="a10" d="M175.6,125.5l.2,2.3 .2,2.1 .2,2 .2,1.8 .2,1.8 .2,1.7 .2,1.6 .2,1.5 .2,1.4 .2,1.4 .2,1.3 .2,1.3 .2,1.2 .2,1.2 .2,1.2 .2,1.1 .2,1.1 .2,1 .2,1.1 .2,1 .4,1.9 .8,3.6 .8,3.3 .8,3.1 .8,2.9 .8,2.8 .8,2.6 .8,2.6 .8,2.4 .8,2.4 .8,2.3 .8,2.2 .8,2.1 .8,2.1 .8,2.1 .8,2 .8,1.9 .8,1.9 .8,1.9 .8,1.8 .8,1.9 .8,1.7 .8,1.8 .8,1.7 .8,1.7 .8,1.6 .8,1.7 .8,1.6 .8,1.6 .8,1.5 .8,1.6 .8,1.5 .8,1.5 .8,1.5 .8,1.4 .8,1.5 .8,1.4 .8,1.4 .8,1.4 .8,1.4 .8,1.3 .8,1.4 .8,1.3 .8,1.3 .8,1.3 1.4,2.3 1.5,2.3 1.5,2.3 1.5,2.3 1.5,2.2 1.5,2.1 1.5,2.2 1.5,2.1 1.5,2 1.5,2 1.5,2 1.5,2 1.5,1.9 1.5,1.9 1.5,1.8 1.5,1.8 1.5,1.8 1.5,1.8 1.5,1.7 1.5,1.7 1.5,1.7 1.5,1.7 1.5,1.6 1.5,1.6 1.5,1.6 1.5,1.5 1.5,1.6 1.5,1.5 1.5,1.4 1.5,1.5 1.5,1.5 1.5,1.4 1.5,1.4 1.5,1.4 1.5,1.3 1.5,1.4 1.5,1.3 1.5,1.3 1.5,1.3 1.5,1.3 1.5,1.3 1.5,1.2 1.5,1.2 1.5,1.2 1.5,1.2 1.5,1.2 1.5,1.2 1.5,1.1 1.5,1.2 1.5,1.1 1.5,1.1 1.5,1.1 1.5,1.1 1.5,1 1.5,1.1 1.5,1 1.5,1.1 1.5,1 1.5,1 1.5,1 1.5,1 1.5,.9 1.5,1 1.5,.9 1.5,1 1.5,.9 1.5,.9 1.5,.9 1.5,.9 1.5,.9 1.5,.9 1.5,.9 1.5,.8 1.5,.9 1.5,.8 1.5,.9 1.5,.8 1.5,.8 1.5,.8 1.5,.8 1.5,.8 1.5,.8 1.5,.8 1.5,.7 1.5,.8 1.5,.7 1.5,.8 1.5,.7 1.5,.7 1.5,.8 1.5,.7 1.5,.7 1.5,.7 1.5,.7 1.5,.7 1.5,.7 1.5,.6 1.5,.7 1.5,.7 1.5,.6 1.5,.7 1.5,.6 1.5,.7 1.5,.6 1.5,.6 1.5,.7 1.5,.6 0,0 1,.4 1,.4 1,.4 1,.4 1,.4 1,.4 1,.4 1,.4 1,.4 1,.4 1,.4 1,.3 1,.4 1,.4 1,.4 1,.4 1,.3 1,.4 1,.4 1,.3 1,.4 1,.4 1,.3 1,.4 1,.3 1,.4 1,.4 1,.3 1,.4 1,.3 1,.4 1,.3 1,.3 1,.4 1,.3 1,.4 1,.3 1,.3 1,.4 1,.3 1,.3 1,.3 1,.4 1,.3 1,.3 1,.3 1,.4 1,.3 1,.3 1,.3 1,.3 1,.3 1,.3 1,.3 1,.4 1,.3 1,.3 1,.3 1,.3 1,.3 1,.3 1,.3 1,.3 1,.3 1,.2 1,.3 1,.3 1,.3 1,.3 1,.3 1,.3 1,.3 1,.2 1,.3 1,.3 1,.3 1,.3 1,.2 1,.3 1,.3 1,.2 1,.3 1,.3 1,.3 1,.2 1,.3 1,.3 1,.2 1,.3 1,.2 1,.3 1,.3 1,.2 1,.3 1,.2 1,.3 1,.2 1,.3 1,.2 1,.3 1,.2 1,.3 1,.2 1,.3 1,.2 1,.3 1,.2 1,.3 1,.2 1,.2 1,.3 1,.2 1,.3 1,.2 1,.2 1,.3 1,.2 1,.2 1,.3 1,.2 1,.2 1,.3 1,.2 1,.2 1,.2 1,.3 1,.2 1,.2 1,.2 1,.3 1,.2 1,.2 1,.2 1,.2 1,.3 1,.2 1,.2 1,.2 1,.2 1,.2 1,.3 1,.2 1,.2 1,.2 1,.2 1,.2 1,.2 1,.2 1,.2 1,.2 1,.2 1,.2 1,.3 1,.2 1,.2 1,.2 1,.2 1,.2 1,.2 1,.2 1,.2 1,.2 1,.2 1,.2 1,.2 1,.1 1,.2 1,.2 1,.2 1,.2 1,.2 1,.2 1,.2 1,.2 1,.2 1,.2 1,.1 1,.2 1,.2 1,.2 1,.2 1,.2 1,.2 1,.1 1,.2 1,.2 1,.2 1,.2 1,.2 1,.1 1,.2 1,.2 1,.2 1,.2 1,.1 1,.2 1,.2 1,.2 1,.1 1,.2 1,.2 1,.2 1,.1 1,.2 1,.2 1,.1 1,.2 1,.2 1,.2 1,.1 1,.2 1,.2 1,.1 1,.2 1,.2 1,.1 1,.2 1,.2 1,.1 1,.2 1,.2 1,.1 1,.2 1,.1 1,.2 1,.2 1,.1 1,.2 1,.1 1,.2 1,.2 1,.1 1,.2 1,.1 1,.2 1,.2 1,.1 1,.2 1,.1 1,.2 1,.1 1,.2 1,.1 1,.2 1,.1 1,.2 1,.2 1,.1 1,.2 1,.1 1,.2 1,.1 1,.2 1,.1 1,.2 1,.1 1,.2 1,.1 1,.1 1,.2 1,.1 1,.2 1,.1 1,.2 1,.1 1,.2 1,.1 1,.2 1,.1 1,.1 1,.2 1,.1 1,.2 1,.1 1,.1 1,.2 1,.1 1,.2 1,.1 1,.1 1,.2 1,.1 1,.2 1,.1 1,.1 1,.2 1,.1 1,.1 1,.2 1,.1 1,.2 1,.1 1,.1 1,.2 1,.1 1,.1 1,.2 1,.1 1,.1 1,.2 1,.1 1,.1 1,.2 1,.1 1,.1 1,.1 1,.2 1,.1 1,.1 1,.2 1,.1 1,.1 1,.2 1,.1 1,.1 1,.1 1,.2 1,.1 1,.1 1,.1 1,.2 1,.1 1,.1 1,.1 1,.2 1,.1 1,.1 1,.1 1,.2 1,.1 1,.1 1,.1 1,.2 1,.1 1,.1 1,.1 1,.1 1,.2 1,.1 1,.1 1,.1 1,.2 1,.1 1,.1 1,.1 1,.1 1,.1 1,.2 1,.1 1,.1 1,.1 1,.1 1,.2 1,.1 1,.1 1,.1 1,.1 1,.1 1,.2 1,.1 1,.1 1,.1 1,.1 1,.1 1,.1 1,.2 1,.1 1,.1 1,.1 1,.1 1,.1 1,.1 1,.1 1,.2 1,.1 1,.1 1,.1 1,.1 1,.1 1,.1 1,.1 1,.1 1,.2 1,.1 1,.1 1,.1 1,.1 1,.1 1,.1 1,.1 1,.1 1,.1 1,.1 1,.2 1,.1 1,.1 1,.1 1,.1 1,.1 1,.1 1,.1 1,.1 1,.1 1,.1 1,.1 1,.1 1,.1 1,.1 1,.1 1,.1 1,.2 1,.1 1,.1 1,.1 1,.1 1,.1 1,.1 1,.1 1,.1 1,.1 1,.1 1,.1 1,.1 1,.1 1,.1 1,.1 1,.1 1,.1 1,.1 1,.1 1,.1 1,.1 1,.1 1,.1 1,.1 1,.1 1,.1 1,.1 1,.1 1,.1 1,.1 1,.1 1,.1 1,.1 1,.1 1,.1 1,.1 1,.1 1,.1 1,.1 1,.1 1,.1 1,.1 1,0 1,.1 1,.1 1,.1 1,.1 1,.1 1,.1 1,.1 1,.1 1,.1 1,.1 1,.1 1,.1 1,.1 1,.1 1,.1 1,.1 1,.1 1,0 1,.1 1,.1 1,.1 1,.1 1,.1 1,.1 1,.1 1,.1 1,.1 1,.1 1,.1 1,.1 1,0 1,.1 1,.1 1,.1 1,.1 1,.1 1,.1 1,.1 1,.1 1,.1 1,0 1,.1 1,.1 1,.1 1,.1 1,.1 1,.1 1,.1 1,.1 1,0 1,.1 1,.1 1,.1 1,.1 1,.1 1,.1 1,.1 1,0 1,.1 1,.1 1,.1 1,.1 1,.1 1,.1 1,0 1,.1 1,.1 1,.1 1,.1 1,.1 1,.1 1,0 1,.1 1,.1 1,.1 1,.1 1,.1 1,.1 1,0 1,.1 1,.1 1,.1 1,.1 1,.1 1,0 1,.1 1,.1 1,.1 1,.1 1,.1 1,0 1,.1 1,.1 1,.1 1,.1 1,.1 1,0 1,.1 1,.1 1,.1 1,.1 1,0 1,.1 1,.1 1,.1 1,.1 1,0 1,.1 1,.1 1,.1 1,.1 1,0 1,.1 1,.1 1,.1 1,.1 1,0 1,.1 1,.1 1,.1 1,.1 1,0 1,.1 1,.1 1,.1 1,.1 1,0 1,.1 1,.1 1,.1 1,0 1,.1 1,.1 1,.1 1,.1 1,0 1,.1 1,.1 1,.1 1,0 1,.1 1,.1 1,.1 1,0 1,.1 1,.1 1,.1 1,0L1100,466.7 1100,800 100,800 100,125.5Z"/>
<mask id="ma0" maskUnits="userSpaceOnUse" x="0" y="0" width="1000" height="800"><rect width="1000" height="800" fill="#fff"/><use href="#a0" fill="#000"/></mask>
<mask id="ma1" maskUnits="userSpaceOnUse" x="0" y="0" width="1000" height="800"><rect width="1000" height="800" fill="#fff"/><use href="#a1" fill="#000"/></mask>
<mask id="ma2" maskUnits="userSpaceOnUse" x="0" y="0" width="1000" height="800"><rect width="1000" height="800" fill="#fff"/><use href="#a2" fill="#000"/></mask>
<mask id="ma3" maskUnits="userSpaceOnUse" x="0" y="0" width="1000" height="800"><rect width="1000" height="800" fill="#fff"/><use href="#a3" fill="#000"/></mask>
<mask id="ma4" maskUnits="userSpaceOnUse" x="0" y="0" width="1000" height="800"><rect width="1000" height="800" fill="#fff"/><use href="#a4" fill="#000"/></mask>
<mask id="ma5" maskUnits="userSpaceOnUse" x="0" y="0" width="1000" height="800"><rect width="1000" height="800" fill="#fff"/><use href="#a5" fill="#000"/></mask>
<mask id="ma6" maskUnits="userSpaceOnUse" x="0" y="0" width="1000" height="800"><rect width="1000" height="800" fill="#fff"/><use href="#a6" fill="#000"/></mask>
<mask id="ma7" maskUnits="userSpaceOnUse" x="0" y="0" width="1000" height="800"><rect width="1000" height="800" fill="#fff"/><use href="#a7" fill="#000"/></mask>
<mask id="ma8" maskUnits="userSpaceOnUse" x="0" y="0" width="1000" height="800"><rect width="1000" height="800" fill="#fff"/><use href="#a8" fill="#000"/></mask>
<mask id="ma9" maskUnits="userSpaceOnUse" x="0" y="0" width="1000" height="800"><rect width="1000" height="800" fill="#fff"/><use href="#a9" fill="#000"/></mask>
<path id="b0" d="M175.6,341.8l.2,.6 .2,.6 .2,.5 .2,.6 .2,.6 .2,.5 .2,.5 .2,.6 .2,.5 .2,.5 .2,.5 .2,.5 .2,.5 .2,.5 .2,.5 .2,.4 .2,.5 .2,.4 .2,.5 .2,.4 .4,.9 .8,1.7 .8,1.6 .8,1.5 .8,1.4 .8,1.4 .8,1.3 .8,1.2 .8,1.2 .8,1.2 .8,1.1 .8,1.1 .8,1 .8,1 .8,1 .8,1 .8,.9 .8,.9 .8,.8 .8,.9 .8,.8 .8,.8 .8,.7 .8,.8 .8,.7 .8,.8 .8,.7 .8,.7 .8,.7 .8,.6 .8,.7 .8,.6 .8,.7 .8,.6 .8,.6 .8,.6 .8,.6 .8,.6 .8,.6 .8,.5 .8,.6 .8,.6 .8,.5 .8,.6 .8,.5 1.4,.9 1.5,1 1.5,.9 1.5,1 1.5,.9 1.5,.9 1.5,.9 1.5,.8 1.5,.9 1.5,.9 1.5,.8 1.5,.8 1.5,.8 1.5,.8 1.5,.8 1.5,.8 1.5,.8 1.5,.8 1.5,.8 1.5,.7 1.5,.8 1.5,.7 1.5,.7 1.5,.8 1.5,.7 1.5,.7 1.5,.7 1.5,.8 1.5,.7 1.5,.7 1.5,.7 1.5,.7 1.5,.6 1.5,.7 1.5,.7 1.5,.7 1.5,.6 1.5,.7 1.5,.7 1.5,.6 1.5,.7 1.5,.6 1.5,.7 1.5,.6 1.5,.7 1.5,.6 1.5,.6 1.5,.7 1.5,.6 1.5,.7 1.5,.5 1.5,.7 1.5,.6 1.5,.6 1.5,.7 1.5,.5 1.5,.7 1.5,.6 1.5,.5 1.5,.6 1.5,.6 1.5,.6 1.5,.7 1.5,.5 1.5,.7 1.5,.4 1.5,.5 1.5,.7 1.5,.7 1.5,.5 1.5,.5 1.5,.7 1.5,.7 1.5,.4 1.5,.5 1.5,.6 1.5,.8 1.5,.4 1.5,.6 1.5,.7 1.5,.4 1.5,.5 1.5,.6 1.5,.6 1.5,.5 1.5,.7 1.5,.2 1.5,.7 1.5,.4 1.5,.7 1.5,.6 1.5,.7 1.5,.1 1.5,.7 1.5,.5 1.5,.5 1.5,.7 1.5,.4 1.5,.5 1.5,.2 1.5,1.1 1.5,.2 1.5,.5 1.5,.5 1.5,1 1.5,0 1.5,.8 0,.1 1,.4 1,.3 1,.3 1-.2 1,.9 1,.3 1,.3 1,.3 1,.2 1,.2 1,.7 1,.4 1-.2 1,.8 1,.1 1,.6 1,.1 1,.6 1,.3 1,.3 1,.3 1,.3 1,.1 1,0 1,.9 1-.3 1,1 1,.5 1-.3 1,.8 1,.1 1,.4 1,.1 1,.6 1,.1 1,.5 1,.1 1,.7 1,.1 1,.4 1,.5 1,0 1,.6 1,0 1,.4 1,.3 1,.4 1,1.1 1-.7 1,.8 1,0 1-.2 1,.8 1,.8 1-.5 1-.2 1,2.1 1-1 1,1.9 1-1.1 1,.3 1,.1 1,.6 1,0 1,.3 1,.5 1,0 1,1.2 1-.7 1,.7 1,.1 1,0 1,1.6 1-1.3 1,1.8 1-.9 1,.9 1,1.2 1-1.6 1,.6 1,1.6 1,.4 1,.7 1-.9 1-.1 1,.8 1,.9 1-.6 1,.6 1,.7 1,.7 1-.9 1,.7 1-.1 1,1.3 1-.5 1,0 1,0 1-.1 1,.9 1,1.4 1,.2 1-.6 1,.4 1,.7 1,.4 1-.2 1,.3 1,1.3 1-.8 1,.2 1-.4 1,1.4 1-.1 1,1.5 1-1 1,.9 1,.4 1,2.3 1-3 1,1.9 1-.6 1,.2 1,.2 1,.2 1,.3 1-.9 1,2 1,0 1-.4 1,1.5 1,1.5 1-1.3 1-.2 1,2.6 1-2.3 1,2 1-1.4 1,.5 1,.9 1,.2 1,.9 1-.8 1,1.5 1-1.2 1,.5 1-.1 1,.2 1,.8 1-.5 1,1.3 1,.9 1-1.3 1,.5 1,.3 1,.5 1,.5 1,0 1,2.1 1-.4 1-.1 1,.5 1,0 1-.1 1-.2 1,.5 1,2.1 1-.9 1,.3 1,1.4 1-1.2 1,2.6 1-2.2 1,.7 1,.4 1-.2 1,1 1-.8 1,.9 1-1 1,2.7 1-1.5 1,.1 1,1.3 1-1.2 1,.6 1-.4 1,.9 1,0 1,2 1-1.3 1,.1 1,.2 1,.4 1,0 1,1.4 1,0 1-.2 1-.8 1,1.6 1-1 1,1.3 1,.2 1-.4 1,1.3 1-.9 1,2.6 1-1.7 1,.3 1,1.2 1-.2 1,.8 1-1.7 1,.3 1,4.2 1-2.8 1,2.2 1-1.5 1,1 1-1.2 1,2.9 1-1.9 1,.9 1-.2 1-.4 1-.1 1-1.2 1,3.4 1-1.5 1,.7 1,3.2 1-2.7 1,1.2 1-.6 1,1.1 1-.4 1-.2 1,2 1-1.3 1-.8 1,1.2 1,1 1-1.3 1,5.2 1-2.2 1,.9 1-2.5 1,1.5 1-2.1 1,1.5 1,.7 1,.6 1-.2 1,.1 1-.3 1,.4 1,1.1 1,.4 1,1.2 1-.2 1,.4 1-2.9 1,2 1,.2 1,1.6 1,1 1-1 1-.6 1,.4 1,1.5 1-1.5 1,.5 1,1.8 1-.7 1,1.2 1-.9 1,.7 1-1.2 1-.3 1,3.5 1-4.9 1,3.6 1,.9 1-.8 1-.1 1,1.7 1-.5 1,.8 1,1.6 1-1.4 1,.5 1,.8 1-.8 1-.1 1-.1 1,1.5 1-3 1,1.8 1,1.3 1-1.5 1,1.1 1,2 1-.9 1,.7 1,.9 1-.9 1-1.3 1,1.4 1,.6 1,1.3 1-4.2 1,3.4 1-2.5 1,3.3 1-.1 1,.3 1,3.3 1-3 1-1.1 1,1.5 1,1.3 1-1.5 1,.4 1-.9 1,2.8 1-1.9 1-.1 1,.6 1-.4 1,1.1 1,2.2 1-.5 1,1.1 1,.3 1-2.9 1,2 1,1.6 1,1.2 1-4.7 1,.2 1,5.8 1-3.9 1-.7 1,2.1 1-1.4 1-1.8 1,3.2 1,.5 1,.9 1,.9 1-1.1 1-.4 1-.4 1-.1 1,.8 1,2.2 1-.2 1,2.2 1-3 1-2.1 1,4 1,.5 1-2.7 1-.7 1,2.7 1,1 1-2.4 1,1.3 1-.4 1-.4 1,0 1,2.3 1-.5 1-.3 1-2.6 1,12 1-6.5 1-1.3 1-1.3 1,2.5 1-2.6 1,2.6 1-.2 1,1.8 1,.5 1-2.4 1,.8 1,3.8 1-5.3 1,2.9 1-1.3 1,1.7 1,.8 1-.6 1,.4 1,.2 1-1.2 1,5.1 1-6.4 1,2.3 1-.5 1,1 1,1.8 1,.5 1-.5 1,1.2 1-5.4 1,4.7 1-.5 1,0 1-1.7 1,3.2 1,3 1-1.8 1-1.7 1,1.4 1,.7 1,1.7 1-.8 1-1.6 1,.1 1,.3 1,.3 1-1 1,2.3 1-2.3 1,0 1,2.2 1-1.4 1,4.1 1-6.3 1,5.1 1-1.2 1,0 1,1.2 1-.2 1-.2 1,4 1-4.4 1,5.4 1-1 1-4.1 1,1.4 1-1.4 1,3.5 1-2.3 1-1.2 1,4.5 1-.5 1-3 1,3.9 1-1.6 1,4.7 1-1.6 1-3.9 1,.7 1-.9 1,2 1,0 1,1.5 1-1 1-2.7 1,1.4 1,4.3 1-.3 1-2.3 1,.3 1,.1 1,.5 1-3 1,5 1-.7 1-.3 1-4.9 1,5.4 1,2.3 1-6.6 1,14 1-8.5 1-1.4 1-2.2 1,5.5 1-1.5 1,.8 1-1.5 1-.9 1,3.5 1-3.4 1,4.7 1-5.8 1,4.8 1-4 1,5.7 1-5.9 1,4.7 1,.4 1-.7 1,4.1 1-.5 1-.3 1-1.6 1-2.4 1-.4 1,1.3 1,.5 1-2.3 1,1.1 1,.3 1,4.1 1-1.1 1-1.4 1,.3 1,1.3 1-.9 1,.1 1-2.8 1,5.1 1,.8 1-1.1 1,.5 1-.1 1,3.7 1-3.7 1-3 1,.7 1,4.7 1,.2 1-.5 1,.3 1-1.2 1-1 1-.6 1-2.2 1,3.3 1-2 1,3.4 1-.4 1-3.8 1,6.1 1,.2 1-4.5 1,3.5 1,1.4 1-2 1,5.8 1-4.4 1,2.1 1-1.8 1-.6 1,4.5 1-2 1,2.1 1-4.6 1-.1 1,.7 1-.3 1,1.9 1,.1 1-.4 1,.3 1,.6 1,3.4 1-.7 1-3.9 1,2.5 1-1.6 1,9.5 1-9 1-.7 1-1.6 1-2.4 1,6.4 1,2.5 1-4.7 1,3.8 1,5.9 1-6.5 1-1 1,.2 1,.4 1-5.2 1,6.3 1-.7 1-5.4 1,7.7 1-1.5 1,.7 1,.6 1-1.7 1-1.5 1,1.7 1,.2 1,6.7 1,3.3 1-9.7 1,.4 1,2 1,.7 1-2.9 1-.6 1,7.4 1-2L1100,601.8 1100,800 100,800 100,341.8Z"/>
<path id="b1" d="M175.6,319.8l.2,.8 .2,.7 .2,.8 .2,.7 .2,.6 .2,.7 .2,.6 .2,.6 .2,.6 .2,.6 .2,.6 .2,.5 .2,.6 .2,.5 .2,.5 .2,.5 .2,.5 .2,.5 .2,.5 .2,.5 .4,.9 .8,1.8 .8,1.7 .8,1.6 .8,1.6 .8,1.4 .8,1.5 .8,1.3 .8,1.4 .8,1.3 .8,1.2 .8,1.2 .8,1.2 .8,1.1 .8,1.1 .8,1.1 .8,1 .8,1 .8,1 .8,1 .8,.9 .8,1 .8,.9 .8,.8 .8,.9 .8,.9 .8,.8 .8,.8 .8,.8 .8,.8 .8,.8 .8,.7 .8,.8 .8,.7 .8,.7 .8,.7 .8,.7 .8,.7 .8,.7 .8,.6 .8,.7 .8,.6 .8,.7 .8,.6 .8,.7 1.4,1 1.5,1.2 1.5,1.1 1.5,1.1 1.5,1 1.5,1.1 1.5,1 1.5,1 1.5,1 1.5,1 1.5,1 1.5,1 1.5,.9 1.5,1 1.5,.9 1.5,.9 1.5,.9 1.5,.9 1.5,.9 1.5,.8 1.5,.9 1.5,.9 1.5,.8 1.5,.9 1.5,.8 1.5,.8 1.5,.9 1.5,.8 1.5,.8 1.5,.8 1.5,.8 1.5,.8 1.5,.8 1.5,.7 1.5,.8 1.5,.8 1.5,.7 1.5,.8 1.5,.8 1.5,.7 1.5,.8 1.5,.7 1.5,.7 1.5,.8 1.5,.7 1.5,.7 1.5,.7 1.5,.8 1.5,.7 1.5,.7 1.5,.7 1.5,.7 1.5,.7 1.5,.7 1.5,.7 1.5,.7 1.5,.7 1.5,.7 1.5,.7 1.5,.7 1.5,.6 1.5,.7 1.5,.8 1.5,.8 1.5,.7 1.5,.6 1.5,.8 1.5,.7 1.5,.7 1.5,.7 1.5,.6 1.5,.9 1.5,.6 1.5,.7 1.5,.6 1.5,.8 1.5,.5 1.5,.7 1.5,1 1.5,.5 1.5,.7 1.5,.8 1.5,.5 1.5,.8 1.5,.4 1.5,.7 1.5,.4 1.5,.8 1.5,.5 1.5,.6 1.5,1.1 1.5,.3 1.5,.4 1.5,.5 1.5,.7 1.5,.6 1.5,.5 1.5,.6 1.5,.4 1.5,1 1.5,.2 1.5,.8 1.5,.2 1.5,1.1 1.5,.1 1.5,1 1.5,.3 0,.2 1,.2 1,.5 1,.3 1,.6 1,.2 1,.8 1,.2 1-.1 1,.8 1,.1 1,0 1,.8 1,.2 1,.8 1-.2 1,.5 1,.4 1,0 1,.8 1,0 1,1.2 1,.2 1-.1 1,.2 1,.6 1,.3 1,.5 1,.1 1,.1 1,.6 1,.2 1,1.1 1-.4 1,.4 1,.5 1,0 1,.6 1,.4 1,.3 1,.4 1,.8 1,.1 1,.2 1,.2 1,.7 1-.1 1,.5 1,.3 1,1.2 1-.5 1,.3 1,.1 1,.8 1,1 1,.1 1-.3 1,.3 1,1.8 1-1.1 1,.4 1,.3 1,0 1,.3 1,.4 1,1 1-.3 1,.4 1,.3 1,1.2 1,.4 1-.8 1,.8 1,.2 1,.3 1,.5 1-.4 1,1.2 1,0 1,.2 1,1 1,0 1,.5 1-.8 1,.8 1,.2 1,.8 1,.6 1-1.1 1,2.9 1-1.5 1,.8 1-.1 1-.3 1,.8 1-.1 1,.5 1,.7 1,0 1,.7 1-.6 1,2.1 1-.2 1,.1 1-.7 1-.1 1,.9 1,.6 1,1.5 1-.1 1,0 1,.5 1,.3 1,.7 1-.1 1-.1 1-.3 1,.1 1,.8 1,.9 1-1 1,.2 1,1.4 1-1.5 1,2.8 1-1 1,1 1,.9 1-1.6 1,.6 1,2.3 1-1.4 1,.4 1,.5 1,.7 1,.5 1-.5 1,.1 1,.4 1,.5 1,1.4 1-.9 1,1.2 1-1.3 1,1.1 1,1 1,0 1-.3 1-.5 1,1.4 1-.4 1,.6 1-.1 1-.5 1,.7 1,1.1 1,1.2 1-1.9 1,.9 1-.6 1,1 1,3.6 1-.9 1-1.8 1,.1 1-.1 1-.2 1,1.5 1,.1 1,3.6 1-1.7 1-.6 1,1.7 1-2.9 1,2.1 1-1.4 1,1.8 1,2.6 1-2.5 1,.5 1,0 1,.5 1,.9 1-.7 1,.3 1,1.7 1-.5 1-1.6 1,1.5 1-.3 1,1.1 1,.7 1-.3 1,1 1-1.5 1,.9 1-.4 1,1.5 1,1.1 1-1.3 1,1.9 1-1.3 1,0 1,1.1 1-.5 1,1.8 1-.9 1-1.5 1,2.2 1-1.4 1,2.3 1,.8 1-1.2 1,.7 1-1.4 1-.4 1,1.6 1,.5 1-.8 1,1.6 1,.4 1,1.4 1,.2 1-.4 1-.8 1,.7 1,.9 1-1.5 1,2.4 1-.2 1-.8 1-.1 1,4.3 1-2.5 1,.3 1,1.1 1-.6 1-.2 1,.5 1-1.3 1,1.7 1-1.9 1,2.1 1,.4 1-1.8 1,3.6 1-2.8 1,2.4 1-1.3 1,2.4 1-2.1 1,3.3 1-1.2 1,1 1-.8 1,.2 1-.3 1-.2 1,1.1 1-.2 1-.1 1-1.1 1,1.6 1,.9 1-.9 1,1.1 1-.3 1,.1 1-.4 1,.4 1,.6 1,.3 1,1.7 1-2.1 1-.9 1,3.2 1-1 1,2.2 1,1.5 1-1 1-.7 1,.6 1-.7 1,1.9 1-2.2 1,.1 1,.4 1,2.7 1,.1 1-2.3 1,2.2 1-1.2 1,1.6 1-1.4 1,1.7 1-1 1,0 1,.5 1,.4 1-.6 1-.7 1,3.8 1-2.3 1-1.4 1-.4 1-.4 1,2.8 1,5.2 1-6 1,3.8 1-3.6 1,3.8 1,1 1-1.6 1,1.5 1,.6 1-.6 1-1.7 1-.8 1,.6 1-.5 1,4.5 1-2.3 1,.6 1,.3 1,2.5 1-3.1 1,6.3 1-4.8 1-.3 1-2.1 1,3.9 1,.3 1-.6 1,0 1,0 1,1.6 1-2.2 1,1.3 1,.4 1-.1 1,1.3 1-1.3 1,2.2 1-2.4 1-.8 1,2.1 1,1.9 1-2.1 1,1.4 1-.8 1,.9 1,.1 1,.5 1-2.6 1,4.7 1-1.1 1-1.8 1,3.3 1-.9 1,2.1 1-4.2 1,4.2 1-2.1 1-2.8 1,4.3 1-1.4 1-.8 1,1.4 1-2.3 1,3.8 1-.9 1,.4 1,2.3 1-.3 1-2.3 1-.2 1,1.5 1,4 1-4.4 1-.5 1,3.1 1-1.1 1,.1 1,3.4 1-2.1 1-.4 1-2.8 1,6 1-2 1,1 1-1.4 1,1.4 1,.1 1-1.2 1,4.2 1-3.6 1-1.2 1,2.3 1-3.4 1,5.5 1-.7 1-2 1,1.8 1,.1 1,2.4 1-2.7 1-2 1-1 1,3 1-1.9 1,6.8 1-3.2 1,0 1-1.8 1,3.6 1-2 1,.9 1,1.3 1-3.5 1,7 1-.3 1-4.2 1-1.3 1,1.5 1-.3 1-1 1,1.6 1,.9 1,.2 1,1.1 1-3.7 1,.6 1,4.1 1-1.9 1,3 1,3.4 1-7.5 1,3.5 1-2.5 1,2.4 1,1.9 1,1.7 1-3.6 1,1.6 1,3.3 1-2.8 1-5.7 1,4.8 1,.6 1,1.1 1-2.6 1,3 1,.7 1-1.7 1,3.4 1-3.8 1,1.1 1,2.1 1,.8 1-3.4 1-.7 1,.5 1,3.4 1,.2 1-1.1 1,.5 1,0 1-.7 1-1.5 1,1 1,1.5 1,.7 1-1.2 1,.1 1,3.5 1-3.2 1,1.4 1-.8 1-.9 1-1 1,2 1,2.2 1,.8 1-3.6 1,1.6 1,2.8 1-1.9 1,1.4 1,.8 1-4.6 1,2.6 1-.9 1,8.5 1-2.4 1-1.7 1,1.5 1-3.8 1,1 1,.8 1,2.7 1-.6 1,2.5 1-2.6 1-1.8 1-.6 1,.2 1,.2 1-2.4 1,4.2 1,1.1 1-1.5 1-.8 1,1.2 1,.6 1,.4 1,3.4 1-2.3 1-.5 1,.9 1-1.1 1-.5 1-1.4 1,1 1,4.3 1,.3 1-4.2 1,2.6 1,2.4 1-.9 1-1.5 1,.6 1,1.2 1-4.2 1,2.7 1-3.6 1-.3 1,2.7 1-1.4 1,8.1 1-2.4 1-2.6 1,.6 1,3.8 1-3.7 1,1 1,.6 1-1.5 1-.6 1,.8 1,3 1-2.5 1,4.3 1,2.7 1-2.5 1-5.5 1,1.3 1,2.8 1,.2 1-1.3 1,5 1-4.1 1,.6 1-1.7 1,5.1 1-.9 1-1.5 1-4.4 1,4.7 1-1.7 1,2.1 1,1.3 1-3.5 1,2.3 1,7.3 1-7.1 1-.9 1-1.5 1,1.1 1-1.2 1,5.3 1-1.9 1-2.8 1,8 1-7.8 1-4.5 1,13.1 1-2.4 1-6 1,1.9 1,2.4 1-1.3 1-.9 1,1.4 1,.4 1-.6 1,2 1-.9 1-1 1,2 1-3.8 1,7.5 1-7.4L1100,592.8 1100,800 100,800 100,319.8Z"/>
<path id="b2" d="M175.6,292l.2,1.5 .2,1.3 .2,1.2 .2,1.2 .2,1.1 .2,1.1 .2,1 .2,.9 .2,.9 .2,.9 .2,.9 .2,.8 .2,.8 .2,.8 .2,.7 .2,.7 .2,.7 .2,.7 .2,.7 .2,.7 .4,1.2 .8,2.4 .8,2.3 .8,2.1 .8,1.9 .8,1.9 .8,1.8 .8,1.7 .8,1.6 .8,1.6 .8,1.5 .8,1.4 .8,1.4 .8,1.4 .8,1.3 .8,1.2 .8,1.3 .8,1.2 .8,1.1 .8,1.2 .8,1.1 .8,1 .8,1.1 .8,1 .8,1 .8,1 .8,1 .8,.9 .8,.9 .8,.9 .8,.9 .8,.9 .8,.8 .8,.9 .8,.8 .8,.8 .8,.8 .8,.7 .8,.8 .8,.8 .8,.7 .8,.7 .8,.8 .8,.7 .8,.7 1.4,1.2 1.5,1.3 1.5,1.2 1.5,1.2 1.5,1.2 1.5,1.1 1.5,1.2 1.5,1.1 1.5,1.1 1.5,1.1 1.5,1 1.5,1.1 1.5,1 1.5,1 1.5,1 1.5,1 1.5,1 1.5,1 1.5,.9 1.5,.9 1.5,1 1.5,.9 1.5,.9 1.5,.9 1.5,.9 1.5,.9 1.5,.9 1.5,.8 1.5,.9 1.5,.8 1.5,.9 1.5,.8 1.5,.9 1.5,.8 1.5,.8 1.5,.8 1.5,.8 1.5,.8 1.5,.8 1.5,.8 1.5,.8 1.5,.8 1.5,.8 1.5,.8 1.5,.7 1.5,.8 1.5,.7 1.5,.8 1.5,.7 1.5,.8 1.5,.7 1.5,.8 1.5,.7 1.5,.8 1.5,.7 1.5,.7 1.5,.7 1.5,.8 1.5,.8 1.5,.7 1.5,.8 1.5,.8 1.5,.8 1.5,.9 1.5,.8 1.5,.7 1.5,1 1.5,.9 1.5,.8 1.5,.8 1.5,.8 1.5,.8 1.5,.9 1.5,.8 1.5,.9 1.5,.7 1.5,.9 1.5,.7 1.5,.8 1.5,.9 1.5,1 1.5,.5 1.5,.8 1.5,.6 1.5,.9 1.5,.6 1.5,.7 1.5,.6 1.5,.9 1.5,.5 1.5,.4 1.5,.8 1.5,.6 1.5,.4 1.5,.8 1.5,.8 1.5,.4 1.5,.8 1.5,.4 1.5,.9 1.5,.7 1.5,.5 1.5,.5 1.5,.7 1.5,.5 1.5,.9 1.5,.5 0,.3 1,0 1,.7 1,0 1,.7 1,.3 1,.5 1,.2 1,.6 1,.5 1,.1 1,.7 1,.3 1,.2 1,.3 1,.7 1,.3 1,.5 1,.4 1,0 1,.6 1,.6 1,0 1,.6 1,.1 1,.9 1,.5 1,0 1,.1 1,.7 1,.3 1,.6 1-.2 1,.5 1,.7 1-.2 1,1.1 1-.5 1,.7 1,.2 1,.6 1,.8 1,.5 1,.4 1,.1 1-.4 1,1.1 1-.3 1,.8 1,.3 1,.4 1,.6 1,0 1,1.1 1,0 1,.6 1,.3 1,.3 1,0 1,1 1-.6 1,.9 1,.2 1,.2 1,.6 1,0 1,.8 1,.4 1,.1 1,.5 1-.2 1,0 1,1.1 1,.2 1,1.3 1-.7 1,.8 1,.3 1,1 1-.6 1,.5 1,.1 1,0 1,.3 1,.4 1,1.2 1-.1 1,.2 1,.4 1,0 1,1.9 1-1 1,.6 1,1.3 1-1.6 1,1.1 1,.8 1-.7 1,.7 1,.5 1,.7 1,.1 1-.1 1,1.5 1-.3 1,0 1,1.2 1-.5 1,.4 1-.3 1,.6 1,.2 1,.7 1,.5 1,.7 1-.2 1,.7 1-.8 1,.5 1,.8 1,0 1,.6 1,.1 1-.1 1,1.4 1,0 1-1 1,.7 1,.6 1,.7 1-.1 1-.4 1,2.9 1-1.7 1,1 1-.2 1,.7 1,.2 1,.3 1-.5 1,1.1 1,.2 1-.8 1,.7 1,.3 1,.7 1,1.6 1-1.9 1,1.3 1-.2 1-.2 1,1.3 1-.6 1,0 1,1.4 1,.3 1-.6 1,1.3 1,.2 1-.6 1,1.7 1-.9 1,.7 1-1.6 1,2.1 1,1.2 1-.8 1-1.1 1,2 1,.5 1,1 1-3.3 1,2.5 1,.1 1-1.4 1,1.2 1,.7 1,1.2 1-1.2 1,1 1,0 1,.6 1-.3 1,1.1 1,1.8 1-2.8 1,1.9 1-1 1,2.2 1,.1 1-1 1,.6 1,.4 1,.7 1-1.1 1-.1 1,1.4 1,.3 1,1 1,.7 1-.9 1,.8 1-1.9 1,1.4 1,.5 1,.4 1,.7 1-1.4 1,1.2 1-.5 1,.6 1,1 1-.2 1,1.3 1-.9 1,1.3 1-.2 1,1.3 1-1.1 1-.2 1,1.1 1-1.2 1,.3 1,.8 1,.3 1-1.2 1,1.6 1-.2 1,.4 1,.4 1-.1 1,1.3 1-.2 1-.4 1,.5 1,1 1,0 1,.6 1-.9 1,.5 1,1.8 1-1.5 1,1.6 1-.4 1-.9 1-.6 1,4.5 1-1.4 1-1.9 1-.6 1,2.7 1-.7 1,.2 1,.5 1,.1 1,.1 1,.6 1,1 1-2.2 1,2.1 1-.1 1-.2 1,1.7 1-2.5 1-1.2 1,4.3 1-.8 1-1.7 1,1.3 1,1.2 1-1.5 1,2.7 1,.9 1-.5 1-1.1 1,.5 1-1 1,1.3 1,1.4 1-.7 1-1.5 1,3.4 1-1.6 1-.9 1,.8 1,2.1 1,.4 1-2.1 1,1.1 1,.9 1-1.1 1-.6 1,.4 1,2.4 1-1.8 1-.3 1,1.3 1,1.4 1-.1 1-.7 1,2.4 1,0 1-1.6 1-1.2 1,2.5 1-.8 1-1.4 1,1.1 1,3 1-.9 1-.5 1,1 1-2.4 1,1 1-.3 1,.7 1,.7 1,3.8 1-1.9 1,.2 1,2.1 1-1.2 1-1.4 1,.8 1-1.3 1,3.6 1-1.8 1-1.3 1,1.7 1,1.1 1-2.5 1-1.1 1,2.9 1-1.1 1,1.6 1-.5 1,3.5 1-1.3 1-.2 1-1 1-.9 1-.6 1-.2 1,1.8 1,1.3 1-.7 1,.2 1-1 1,1.2 1-1 1,3.1 1-3 1,3.4 1,.4 1-.1 1-.2 1,.9 1,3.4 1-5 1-.1 1,.9 1,1.2 1,.5 1-.7 1,.3 1,.7 1-.9 1,4.6 1-6 1,2.9 1,.5 1-1.3 1,.1 1,2.3 1-1.4 1-1.9 1,.9 1,3.3 1-2.3 1,3.1 1,3.4 1-5 1,1.2 1-1.7 1,.8 1-.2 1,1.9 1-2.3 1,1.7 1,.5 1,.8 1-3.4 1,.6 1,3.2 1-.6 1,.6 1,.3 1,2.7 1-1.7 1,.1 1,2.2 1-.8 1-.6 1,.1 1-.9 1,1.2 1,1.5 1-3.1 1-1.7 1,4.4 1,.1 1-1.2 1-.1 1,8.9 1-8.6 1,4.5 1-4.1 1,1.6 1-1.4 1,.5 1,1.2 1-.9 1,1 1-.1 1-1.3 1,1.9 1-.3 1,1.9 1-2.5 1,1.2 1-2.2 1,2.2 1-1 1,4.3 1-2.2 1,1.2 1-3.3 1,1 1,1.8 1-1.7 1,4.1 1-2.2 1,1 1,1.5 1-1.6 1,1.7 1-2.1 1,1.8 1,1.5 1-1.4 1,6.2 1-5.3 1-.5 1,1.1 1-1.2 1-2.1 1,3.1 1,.3 1,.5 1-.5 1,2.7 1-4.3 1,2 1,1.4 1-2.6 1,2.4 1-.3 1-3 1,4.4 1,1.4 1-1.7 1-2.5 1,3.8 1-2.8 1,1.7 1,1 1-1.8 1-1.3 1,2.8 1,.9 1-1.7 1,.3 1,2.7 1-1.2 1,1.7 1,3.7 1-4.4 1,0 1-.2 1-1.9 1,1.9 1-.3 1,1.4 1,2.1 1-.2 1-.3 1-.8 1-.2 1,1 1-1.2 1,.4 1,3.9 1-3.1 1,.2 1,3.5 1-2 1-1.5 1,4.5 1-4.3 1,2.8 1-.2 1,3.9 1-6.8 1,1.9 1,7.9 1-6.8 1,.9 1-2.7 1,.5 1,2 1,1.4 1-3.6 1-.6 1,5.1 1,.5 1,2.2 1-6 1,1.6 1,.9 1,.6 1,.7 1-1.2 1,2.1 1-2.5 1,0 1,.4 1,0 1,1.4 1-.4 1-.3 1,5.2 1-3.5 1-1 1,3.2 1-3.2 1,1.2 1,0 1-.7 1,.5 1,1.6 1-3.2 1,2.2 1,1.4 1,.2 1,.2 1,4.1 1-3 1-1.4 1,.2 1,.5 1,1 1-1.3 1,3.7 1-4.9 1,3.6 1,2 1-5.1 1,3.6 1,6.6 1-8.7 1,6 1-3 1-1.8 1-.1 1-.4 1,2.2 1-.2 1-2.8 1,.9 1,.9 1,.8 1,.2 1-.4 1,2.8 1,.8 1,4.3 1-10.3 1,4.3 1,1.6 1-1.1 1,3.8 1-3.1 1-3 1-2 1,6.6 1-2.1 1,2.1 1-1.3 1,3.8 1,0 1-5.1 1,2.6 1-2L1100,592.1 1100,800 100,800 100,292Z"/>
<path id="b3" d="M175.6,273.7l.2,1.7 .2,1.6 .2,1.5 .2,1.4 .2,1.3 .2,1.2 .2,1.1 .2,1.1 .2,1.1 .2,1 .2,.9 .2,.9 .2,.9 .2,.9 .2,.8 .2,.8 .2,.8 .2,.8 .2,.7 .2,.7 .4,1.4 .8,2.7 .8,2.4 .8,2.3 .8,2.1 .8,2.1 .8,1.9 .8,1.8 .8,1.8 .8,1.7 .8,1.6 .8,1.6 .8,1.5 .8,1.5 .8,1.4 .8,1.4 .8,1.4 .8,1.3 .8,1.3 .8,1.2 .8,1.2 .8,1.2 .8,1.1 .8,1.2 .8,1.1 .8,1 .8,1.1 .8,1 .8,1 .8,1 .8,1 .8,.9 .8,1 .8,.9 .8,.9 .8,.9 .8,.8 .8,.9 .8,.8 .8,.8 .8,.9 .8,.8 .8,.7 .8,.8 .8,.8 1.4,1.3 1.5,1.4 1.5,1.3 1.5,1.4 1.5,1.2 1.5,1.3 1.5,1.2 1.5,1.3 1.5,1.1 1.5,1.2 1.5,1.2 1.5,1.1 1.5,1.1 1.5,1.1 1.5,1.1 1.5,1 1.5,1.1 1.5,1 1.5,1.1 1.5,1 1.5,1 1.5,.9 1.5,1 1.5,1 1.5,.9 1.5,1 1.5,.9 1.5,1 1.5,.9 1.5,.9 1.5,.9 1.5,.9 1.5,.9 1.5,.8 1.5,.9 1.5,.9 1.5,.8 1.5,.9 1.5,.8 1.5,.9 1.5,.8 1.5,.8 1.5,.9 1.5,.8 1.5,.8 1.5,.8 1.5,.8 1.5,.8 1.5,.8 1.5,.8 1.5,.8 1.5,.8 1.5,.8 1.5,.7 1.5,.8 1.5,.8 1.5,.7 1.5,.9 1.5,.7 1.5,.8 1.5,.8 1.5,.9 1.5,.8 1.5,.7 1.5,.9 1.5,.8 1.5,.9 1.5,.9 1.5,.9 1.5,.8 1.5,.9 1.5,1 1.5,.8 1.5,.8 1.5,.8 1.5,.8 1.5,.9 1.5,.8 1.5,.7 1.5,1.1 1.5,.5 1.5,.8 1.5,.7 1.5,1.1 1.5,.6 1.5,.8 1.5,.5 1.5,.8 1.5,.6 1.5,.8 1.5,.6 1.5,.8 1.5,.4 1.5,.8 1.5,.8 1.5,.5 1.5,.8 1.5,.7 1.5,.8 1.5,.5 1.5,.7 1.5,1.2 1.5,.3 1.5,.4 1.5,.6 1.5,.9 1.5,.6 0,.1 1,.2 1,.6 1,.3 1,.7 1,.3 1,.1 1,1.2 1,.1 1,.5 1,.1 1,.8 1,.2 1,.4 1,0 1,.8 1,.2 1,.6 1,.3 1,.8 1,.2 1,.3 1,.7 1,.1 1,.5 1,.3 1,.4 1,.5 1,.6 1,.2 1,.4 1,.6 1,.3 1,.5 1,.3 1,0 1,.5 1,.2 1,1.1 1,.7 1-.3 1,.3 1,.7 1,.3 1,.5 1,.1 1,.3 1,1.1 1-.3 1,.6 1,.8 1-.5 1,1.1 1,.5 1,0 1,.5 1,0 1,.1 1,1.5 1-.2 1,.7 1,.4 1,.3 1,.3 1,.4 1,.7 1,0 1,.7 1-.2 1,.4 1,.5 1,.4 1,.5 1,1.1 1-.3 1,.1 1,1.3 1-.5 1,.4 1,.4 1,.1 1,.1 1,.7 1,.2 1,.2 1,.7 1,.2 1,.2 1,0 1,.9 1,1.3 1-.2 1,.4 1-.1 1,.8 1-.3 1,.4 1,.7 1-.4 1,.9 1,.4 1,.9 1-.6 1,.8 1-.1 1,.4 1-.1 1,.6 1,1.1 1,.1 1,.2 1,1.2 1-.4 1-.4 1,.7 1,.4 1,1 1-.7 1,.9 1,.5 1-.4 1,1.5 1-1.4 1,1.2 1-.7 1,2.5 1-.2 1-.2 1,.1 1,.4 1,1.2 1-.4 1,.5 1-.4 1,.3 1,.5 1,.2 1,.1 1,1.9 1-.7 1-.1 1,.2 1-1 1,2.3 1-.1 1,.4 1-1.5 1,.6 1,1.5 1-.3 1,.7 1,1.2 1-.2 1-.1 1,0 1,1.1 1,.9 1-1.3 1,.9 1,1 1-1.2 1,1.1 1,.3 1-.2 1,.9 1-.9 1,1.4 1-.4 1-.1 1,.4 1,1.3 1-.8 1,.4 1,.1 1,.2 1,1.2 1,1.6 1-.5 1-.6 1,.4 1-.4 1,.2 1-.2 1,1.8 1-.8 1,0 1,.3 1,.8 1-.2 1,.5 1,.4 1,.9 1-1.3 1,1.2 1-.4 1,.4 1,2.6 1-1.4 1-.4 1,.8 1-.1 1,.9 1-.8 1,.9 1-.2 1,.7 1-.2 1-.1 1,.7 1,.9 1-.9 1,.4 1,.7 1,0 1,1.9 1-.9 1-1.9 1,1.4 1-.1 1,1.6 1,.3 1-1.3 1,.6 1,.7 1,0 1,1 1,.4 1-.1 1,.9 1-.2 1-.5 1,0 1,0 1,1.4 1,.2 1,.4 1-.8 1,.2 1,.7 1,.9 1-.4 1,.1 1-.6 1,1.2 1,.3 1-.9 1,2.3 1-1.9 1,1.7 1-.7 1,.5 1-.5 1,.4 1,1.2 1-.5 1,.1 1,1.2 1,.4 1-.6 1,.3 1,2.7 1-2.6 1,.6 1,.3 1-1.3 1-.2 1,1.9 1,.8 1-.3 1-.5 1,.8 1,.8 1-.7 1-.9 1,2.1 1-.2 1,.4 1,.7 1,.5 1,.5 1-1.4 1-1.1 1,2.6 1-.9 1,1.5 1,.2 1-.5 1,1 1-.3 1-.5 1-.1 1,.2 1,.7 1,1 1-1.5 1,1.6 1,1.6 1-3.1 1,1.6 1,0 1,1.1 1,1.1 1-.5 1-.9 1-.6 1,.9 1,.4 1,.3 1-.9 1,2.5 1-1.9 1,1.5 1-.2 1-1.1 1,1.3 1,.2 1,0 1,1.1 1-1 1,3.1 1-1.2 1-1.3 1-1.9 1,6.6 1-3.5 1,.1 1-.9 1-.3 1-.2 1,4.7 1-.8 1,.8 1-.1 1-3.7 1,2.8 1,1.4 1-2.6 1,.6 1-.4 1,4.2 1-1.3 1-.2 1-.4 1,.9 1-2.9 1,4.3 1-2 1-1.2 1,1.2 1-.1 1,1 1,.4 1-2.7 1,6.4 1-1.6 1-2.8 1,3 1-.1 1-.1 1,.9 1-3.2 1,2.6 1,.1 1,2.1 1-3.6 1-.1 1,2.9 1-.4 1-.5 1,.3 1,.8 1,1.5 1-2.7 1,.4 1,.1 1,.8 1,.3 1-1.3 1,2 1,.8 1-1.1 1,.2 1,.2 1,2.3 1,.4 1-.5 1,4.2 1-5.5 1,2.3 1-1.6 1,.5 1,.3 1-1.8 1,1 1,.8 1,4.9 1-4.5 1-.7 1-.2 1,1.6 1-1.3 1,2 1,3.8 1-3.5 1-1.1 1-1 1,2.8 1,3.2 1-3.7 1,.2 1-2.3 1,4.4 1-2.4 1,2.5 1-1.5 1,1 1,.1 1-2.1 1,6.2 1-5.6 1,2.4 1-1 1,1 1,5.2 1-7 1,2.5 1,3.9 1-3.2 1,.5 1-1.3 1-1 1,1 1,1 1,1.8 1-.8 1,2.3 1-1.8 1,.3 1,.2 1-2.5 1,3.4 1-2.2 1,1.2 1,6.8 1-7.6 1,3.5 1-1 1,0 1,0 1-.6 1,4.7 1-6.4 1,1.5 1,3.8 1-1.1 1-1.7 1,0 1,1.1 1,4.4 1-3 1-2 1,2 1-1 1,3.3 1-1.6 1,1.6 1-1.4 1,2.9 1-2.2 1,0 1-1.7 1,2.5 1-.1 1-1.1 1,4.7 1-3.6 1-1 1,4.3 1-3.5 1,1.6 1-.6 1-.8 1,3.4 1-1.8 1,2.2 1-2.4 1-1.6 1,.8 1,1 1,.7 1,.6 1,1.3 1-3 1,2.5 1-1 1,0 1,5.3 1-1.9 1-.5 1,1.7 1-.4 1,1.8 1-1.3 1-2.6 1,4.3 1-4.9 1,2.5 1-2.8 1,1.6 1,1.6 1-1.4 1,1.6 1,2.6 1-4.4 1,4.1 1-3.3 1-.2 1,2.1 1,1.5 1-2.7 1,.2 1,.6 1-.2 1,1.7 1-1.4 1,1 1,1.2 1-1.1 1,2.8 1-2.9 1,0 1,5 1,2.1 1-5.1 1,1.5 1-.6 1-1.3 1,2.2 1,.3 1,1.1 1-2.1 1,1.7 1-.9 1-1.3 1,.6 1,.2 1-1.4 1,1.5 1,2.6 1-3.9 1,2.2 1-2.1 1,2.4 1,1.6 1-.6 1,.4 1-1.9 1,3.2 1-2.5 1,3.5 1-1.1 1,2.4 1,.3 1-3.2 1,2.7 1-1.5 1,0 1,2.1 1,2 1-3.5 1,0 1,2.1 1-1.4 1,3.9 1-5.6 1-2.7 1,4.8 1-.1 1,2.9 1-1.2 1,1.5 1,1.3 1-3.3 1-1.2 1,3.3 1-2.5 1,.9 1,3.4 1-1.5 1,1.2 1-4.5 1,2.8 1,2.3 1-4.4 1,3 1,.6 1-5.1 1,7.8 1-4.3 1,1.3 1,3.7 1-6.6 1,4.6L1100,592.2 1100,800 100,800 100,273.7Z"/>
<path id="b4" d="M175.6,254.3l.2,2.3 .2,2 .2,1.9 .2,1.7 .2,1.6 .2,1.6 .2,1.4 .2,1.4 .2,1.3 .2,1.2 .2,1.2 .2,1.1 .2,1.1 .2,1.1 .2,1 .2,1 .2,.9 .2,.9 .2,.9 .2,.9 .4,1.7 .8,3.1 .8,2.8 .8,2.7 .8,2.4 .8,2.4 .8,2.2 .8,2.1 .8,2 .8,1.9 .8,1.8 .8,1.8 .8,1.7 .8,1.6 .8,1.6 .8,1.5 .8,1.5 .8,1.4 .8,1.4 .8,1.4 .8,1.3 .8,1.3 .8,1.2 .8,1.3 .8,1.2 .8,1.1 .8,1.2 .8,1.1 .8,1.1 .8,1 .8,1.1 .8,1 .8,1 .8,1 .8,.9 .8,1 .8,.9 .8,.9 .8,.9 .8,.9 .8,.9 .8,.9 .8,.8 .8,.9 .8,.8 1.4,1.4 1.5,1.5 1.5,1.4 1.5,1.4 1.5,1.4 1.5,1.4 1.5,1.3 1.5,1.3 1.5,1.3 1.5,1.2 1.5,1.2 1.5,1.2 1.5,1.2 1.5,1.2 1.5,1.1 1.5,1.2 1.5,1.1 1.5,1.1 1.5,1.1 1.5,1.1 1.5,1 1.5,1.1 1.5,1 1.5,1 1.5,1 1.5,1 1.5,1 1.5,1 1.5,1 1.5,.9 1.5,1 1.5,.9 1.5,.9 1.5,1 1.5,.9 1.5,.9 1.5,.9 1.5,.9 1.5,.9 1.5,.8 1.5,.9 1.5,.9 1.5,.9 1.5,.8 1.5,.9 1.5,.8 1.5,.8 1.5,.9 1.5,.8 1.5,.8 1.5,.8 1.5,.8 1.5,.8 1.5,.8 1.5,.8 1.5,.8 1.5,.8 1.5,.8 1.5,.8 1.5,.8 1.5,.8 1.5,.8 1.5,.8 1.5,.8 1.5,.8 1.5,.9 1.5,.8 1.5,.7 1.5,.9 1.5,.7 1.5,.9 1.5,.8 1.5,.8 1.5,.7 1.5,.7 1.5,.8 1.5,.9 1.5,.9 1.5,.6 1.5,.8 1.5,.9 1.5,.6 1.5,.8 1.5,.7 1.5,.7 1.5,.8 1.5,.7 1.5,.8 1.5,.5 1.5,1 1.5,.5 1.5,.6 1.5,.7 1.5,.7 1.5,.9 1.5,.2 1.5,1 1.5,.6 1.5,.8 1.5,.7 1.5,.5 1.5,.8 1.5,.9 1.5,.4 1.5,.8 1.5,.7 1.5,.7 0,.1 1,.4 1,.4 1,.4 1,.3 1,.7 1,.2 1,.4 1,.5 1,.4 1,.6 1,.5 1,.5 1,.2 1,.4 1,.5 1,.3 1,.5 1,.9 1,0 1,.4 1,.7 1,.3 1,.5 1,.2 1,.4 1,.8 1,.1 1,.5 1,.6 1-.1 1,.8 1,.3 1,.6 1,.3 1,.1 1,.9 1-.2 1,.8 1,.4 1,.4 1,.7 1,.5 1,0 1,.5 1,.7 1,.3 1,.5 1,.3 1,.3 1,.4 1,.4 1,.7 1,.5 1,.5 1-.3 1,.6 1,.5 1,.3 1,.2 1,1.2 1,.3 1-.1 1,.4 1,.5 1,0 1,.7 1,.6 1,.6 1,.2 1,.5 1-.2 1-.2 1,1.6 1,.1 1,.3 1,.9 1-.4 1,.4 1,.5 1,1 1,.2 1-.4 1,1.3 1-.1 1,.5 1,0 1,1.2 1-.1 1,.8 1-.5 1,.9 1,.2 1,.2 1,.2 1,.4 1,.2 1,.5 1,.6 1,.6 1-.4 1,.5 1,.5 1,0 1,1 1,.2 1,.4 1,.5 1,.5 1,.3 1,.2 1,.4 1-.1 1,.3 1,.9 1,.3 1,.9 1-.5 1,.1 1,.9 1-.1 1,.2 1,1.1 1,.5 1-.2 1-.1 1,.7 1,.2 1-.2 1,1.2 1,.3 1,.4 1-.4 1,.6 1,.2 1-.3 1,2 1-1.6 1,.7 1,.7 1-.3 1,1.2 1-.1 1,.5 1,.4 1,.2 1,.3 1,.2 1,.5 1,.5 1-.2 1,.2 1,.3 1,.6 1-.1 1,.3 1-.2 1,1.8 1-.8 1,1.2 1-.1 1,.4 1-.1 1,.3 1,.2 1,.4 1,.4 1,.6 1-1 1,1 1,.8 1,.1 1-.9 1,.9 1,.6 1-.1 1-1 1,1.8 1-1 1,2.2 1-.6 1-.1 1,.8 1-.2 1,.1 1,.2 1,.5 1-.4 1,1.1 1,.4 1,.3 1,.3 1,.3 1-.1 1,.8 1-.7 1,.4 1,.8 1,.5 1-1 1-.4 1,2.6 1-.7 1,.6 1-.2 1-.2 1-.3 1,.5 1,1.2 1-.1 1-.1 1-.7 1,.6 1,.2 1,.4 1-1.4 1,2.1 1,1 1-1 1,.5 1,.4 1-.6 1,1.1 1-.5 1,.4 1,.7 1,0 1,.3 1-.4 1,1.2 1-.7 1,1.2 1-.6 1-.3 1,.9 1-.4 1,.6 1,.6 1,.6 1,.3 1,.5 1-.8 1-.6 1,1 1,.1 1,.4 1-.1 1,.4 1,.9 1-1.3 1,1.2 1,1 1-1.2 1,.1 1,.7 1,.1 1,.6 1,1 1-.9 1,.7 1-.6 1,.3 1,.7 1-.5 1,1.6 1-1 1,.4 1-.5 1,.6 1-.2 1,.6 1-.8 1,2 1,1 1-2.5 1,2.9 1-1.2 1,.9 1-1.2 1,2.5 1-1.7 1,.4 1,1.5 1-2 1-.7 1,2 1-.4 1,0 1,.3 1-.3 1,2.7 1,.4 1-2.5 1,1.5 1-.4 1,1.5 1-1.4 1,2.2 1-1.1 1-.6 1,.8 1-.2 1,2.5 1-1.6 1-.3 1,.7 1,1.8 1-2.4 1-.4 1,2.7 1-.4 1-.8 1,.5 1,1.3 1-3.2 1,3.7 1-1.1 1,.9 1-.5 1,3 1-3.1 1,1.7 1-3.2 1,2.6 1,.9 1-2 1-.3 1,2.2 1,1 1,.6 1-1.8 1,1.1 1-1.5 1,3.8 1-2.6 1,1.9 1-1.3 1,.1 1,2 1-2.2 1,2.3 1-1.4 1-.4 1,.3 1,2 1-1 1-.1 1-.5 1,2.4 1,0 1-.5 1,.8 1-4 1,2.9 1,.8 1,.2 1-.5 1,.9 1-.8 1,.3 1-.4 1,1.6 1-.8 1,.4 1,2.2 1-.3 1-.5 1-1.7 1,1.2 1,1.7 1-.1 1-.5 1,0 1,.4 1,.5 1-.6 1-2.1 1,4.9 1-.7 1-1.2 1,1.9 1-2.8 1,3 1-.2 1,.2 1-.6 1,.1 1,.7 1,.7 1,.1 1-.4 1-1 1,2.7 1-1.5 1-.3 1,.1 1-.8 1,.7 1-.7 1,2.1 1-.1 1,.5 1-1.5 1,1.2 1,.2 1,1.8 1-2.3 1-.3 1,3.5 1-.9 1-2.1 1,3.6 1,.4 1-.3 1-3.5 1,2.7 1-1 1,.9 1-1.3 1,4.1 1-2.7 1,1.3 1,1.2 1,0 1-.5 1-.7 1,.9 1-.3 1-2.4 1,4.2 1-1.8 1,.8 1-.1 1-1.1 1,.4 1,.5 1,2 1,1.1 1-1.2 1-1.3 1,3.2 1-1.8 1-1.5 1,.4 1,2.8 1,1.2 1-2.1 1-.1 1,.6 1-.5 1,.6 1,1.2 1-1.1 1,2.4 1-2.3 1,2.3 1,.2 1-1.2 1,.3 1,.2 1,2.8 1-3.1 1,2.8 1,.6 1-2.2 1,2.8 1-5.1 1,3.7 1,0 1,.1 1,1.2 1-1.4 1,.5 1,2 1-1.6 1-1 1,2.4 1-.7 1-.5 1,1.7 1-1.6 1-.1 1,1.2 1,.3 1,.5 1-1.5 1,4.2 1-1.2 1-.6 1,.4 1-3.7 1,5 1-2.5 1,2.3 1-2.2 1,3.3 1-1.9 1,1.3 1,2.7 1-1.3 1-2.5 1,.5 1,1.5 1,.2 1,1.1 1-2 1-1.5 1,1.6 1,1.2 1,1.3 1,.5 1,1 1-1.3 1-.4 1,1.5 1-1 1,.1 1-.3 1,3 1,.4 1,.1 1-4.4 1,4.3 1-3.1 1,1.6 1,1.9 1-3.3 1,.4 1,.9 1,3.9 1-.7 1-2.8 1,1.8 1,.2 1,.5 1-1.4 1,3.5 1-2.6 1,2.1 1-3.7 1,3.4 1-.2 1,2.2 1-6 1,5.1 1,.6 1-1.5 1,2.7 1,1.5 1-1.7 1,.1 1,1 1-1.2 1,1.5 1,.4 1-3.1 1-.4 1,3.8 1-.7 1-1.8 1,1.3 1,2.6 1-5 1,1.5 1,2.8 1,.5 1-3.1 1,.5 1,2.1 1,2.3 1-2.1 1-3.7 1,5.8 1-1.5 1-.4 1-1.1 1,4.5 1-.7 1-.6 1,.2 1,.3 1,.9 1,1.7 1-4.5 1,1.9 1-.4 1,3.8 1-3.1 1-2.1 1,3 1-1 1,.1 1,.8 1-.4 1-1.8 1,7 1-3.4 1-1.2 1,2.9 1,1.5 1-3.9 1,1.2 1,1.5L1100,588.5 1100,800 100,800 100,254.3Z"/>
<path id="b5" d="M175.6,232.3l.2,2.9 .2,2.7 .2,2.5 .2,2.2 .2,2.1 .2,2 .2,1.9 .2,1.8 .2,1.6 .2,1.6 .2,1.5 .2,1.5 .2,1.4 .2,1.3 .2,1.3 .2,1.2 .2,1.2 .2,1.2 .2,1.1 .2,1.1 .4,2 .8,3.9 .8,3.4 .8,3.2 .8,3 .8,2.7 .8,2.6 .8,2.5 .8,2.3 .8,2.2 .8,2 .8,2 .8,2 .8,1.8 .8,1.8 .8,1.7 .8,1.6 .8,1.6 .8,1.6 .8,1.5 .8,1.4 .8,1.4 .8,1.4 .8,1.3 .8,1.3 .8,1.3 .8,1.2 .8,1.2 .8,1.2 .8,1.1 .8,1.1 .8,1.1 .8,1.1 .8,1 .8,1 .8,1 .8,1 .8,1 .8,1 .8,1 .8,.9 .8,.9 .8,.9 .8,.9 .8,.9 1.4,1.5 1.5,1.6 1.5,1.6 1.5,1.5 1.5,1.4 1.5,1.5 1.5,1.3 1.5,1.4 1.5,1.3 1.5,1.4 1.5,1.2 1.5,1.3 1.5,1.2 1.5,1.2 1.5,1.2 1.5,1.2 1.5,1.2 1.5,1.1 1.5,1.1 1.5,1.1 1.5,1.1 1.5,1.1 1.5,1 1.5,1.1 1.5,1 1.5,1 1.5,1 1.5,1 1.5,1 1.5,1 1.5,.9 1.5,1 1.5,.9 1.5,1 1.5,.9 1.5,.9 1.5,.9 1.5,.9 1.5,.9 1.5,.9 1.5,.9 1.5,.9 1.5,.8 1.5,.9 1.5,.8 1.5,.9 1.5,.8 1.5,.8 1.5,.9 1.5,.8 1.5,.8 1.5,.8 1.5,.8 1.5,.8 1.5,.8 1.5,.8 1.5,.8 1.5,.8 1.5,.7 1.5,.8 1.5,.8 1.5,.7 1.5,.9 1.5,.8 1.5,.7 1.5,.7 1.5,.8 1.5,.7 1.5,.9 1.5,.7 1.5,.8 1.5,.8 1.5,.7 1.5,.7 1.5,.7 1.5,.7 1.5,.9 1.5,.6 1.5,.9 1.5,.6 1.5,.7 1.5,.8 1.5,.7 1.5,.7 1.5,.6 1.5,.7 1.5,.8 1.5,.7 1.5,.6 1.5,.9 1.5,.5 1.5,.8 1.5,.7 1.5,.6 1.5,.7 1.5,.7 1.5,.7 1.5,.7 1.5,.5 1.5,.9 1.5,.7 1.5,.5 1.5,.8 1.5,.6 1.5,.8 1.5,.3 1.5,1.1 0-.1 1,.4 1,.5 1,.5 1,.4 1,.5 1,.5 1,.3 1,.5 1,.5 1,.4 1,.3 1,.6 1,.6 1,.1 1,.6 1,.4 1,.5 1,.3 1,.5 1,.7 1,.2 1,.3 1,.7 1,.3 1,.6 1,.1 1,.6 1,.5 1,.1 1,.5 1,.7 1,.3 1,.4 1,.5 1,.2 1,.5 1,.8 1,.1 1,.6 1,.3 1,.6 1,.3 1,.5 1,.5 1,.3 1,.1 1,.6 1,.8 1,.3 1,.2 1,.2 1,.5 1,1 1,.2 1,.5 1-.2 1,.5 1,.5 1,.3 1,.7 1,.1 1,.8 1,.2 1,.4 1,.6 1,.4 1,.3 1,.3 1,.5 1,0 1,.5 1,.6 1,.7 1,.6 1,.1 1,0 1,.5 1,.3 1,.6 1,.4 1,.5 1,.4 1,.5 1,.4 1-.1 1,.8 1,0 1,.7 1,.3 1,.9 1-.2 1,.4 1,.3 1,.7 1,.2 1,.2 1,.7 1,.7 1,.4 1,.2 1-.1 1,.4 1,.4 1-.1 1,1.2 1-.5 1,.9 1-.1 1,.7 1,.6 1,.2 1,0 1,.4 1,.8 1,.1 1,.6 1,.6 1-.9 1,1.1 1,.6 1,.6 1-.1 1-.1 1,.9 1,.6 1-.4 1,.3 1,.5 1,.2 1-.2 1,.2 1,.7 1,.5 1,.7 1,0 1,.5 1,.7 1,.8 1-.2 1-.5 1,1 1,0 1,.4 1,.5 1,.2 1-.4 1,.3 1,.9 1,.4 1,.9 1-.4 1-.1 1,.3 1,.1 1,.5 1-.1 1,.5 1,.6 1-.1 1,.5 1,.2 1,.3 1,.1 1,.7 1,0 1-.8 1,1.4 1,.2 1,0 1,.5 1-.1 1,.9 1-.4 1,.9 1,0 1-.4 1,.5 1,.8 1,.1 1,.2 1-.2 1,.3 1,.6 1,.3 1,.1 1-.1 1,.5 1,.2 1-.2 1,.6 1,0 1,0 1,1 1,.4 1,.3 1-.5 1,.3 1,.6 1,.1 1,.1 1,.4 1-.6 1,1.6 1-1 1,.1 1,1.3 1-.5 1,1.1 1-.1 1,.2 1-.1 1-.3 1,.3 1,.8 1,.3 1-.5 1,.3 1,.3 1,.6 1,.5 1,.4 1-.4 1,1.1 1-.2 1,.6 1-.8 1,.8 1,.4 1-1.2 1,1.6 1-.1 1,.5 1-.2 1,1 1-.9 1,.1 1,.9 1,.2 1-.7 1,1.5 1,0 1,.1 1-.7 1,1.3 1-.2 1,.4 1-.4 1,0 1,.1 1,.2 1,1 1-.7 1,.3 1,.7 1-.1 1-.8 1,1.1 1,.2 1,1.2 1-.3 1-.4 1-.2 1,.5 1,.7 1-.5 1,.9 1-.9 1,1.2 1,.7 1-2.1 1,1.7 1,.7 1,0 1,0 1,0 1,.4 1,.1 1,.2 1,1 1-.1 1,.1 1-.7 1,.2 1,1.1 1-1.1 1,1.7 1-1.2 1,2 1-.4 1-.9 1,.2 1-.8 1,1.7 1,.7 1-.2 1-.4 1,1.7 1-.8 1,.1 1-.3 1,.7 1,1.5 1-1.2 1-1 1,1.2 1,1.3 1-.3 1-1 1,.8 1-1.1 1,1.6 1-.8 1,.3 1,.2 1,.1 1,2 1-.2 1-1 1,.4 1,1.2 1-.6 1-.5 1-.1 1,1.9 1-.9 1,.2 1,.4 1-.8 1,1.5 1-1.1 1,.4 1-.7 1,.6 1,.6 1,.2 1-.6 1,.8 1,.7 1-1.8 1,2.5 1-.5 1-.6 1,.9 1,1.1 1-.5 1,.2 1,.1 1,.6 1-1.3 1,.8 1,.9 1-.1 1-.7 1,.8 1-.2 1,.8 1-1.2 1,.2 1,.8 1,.7 1,2.1 1-.9 1,.3 1-.7 1,1.4 1-.8 1-.1 1,1 1-1.6 1-.7 1,1 1,2.2 1-.2 1-.4 1-.2 1,1.3 1,.2 1-1.1 1,1.1 1-1.2 1,2 1-1.2 1-.3 1,.7 1-.3 1,.8 1-1.2 1,1.2 1,1.2 1-.1 1-.4 1,1.9 1-2.7 1,1.4 1,0 1,.6 1-.1 1,1.6 1-1 1-.5 1,3 1-1.5 1-.2 1,.9 1-1.1 1,.5 1,1.1 1-1.6 1,1.3 1,.9 1,.9 1-1.4 1,.1 1,1.3 1-2.1 1,.8 1,.3 1-1.1 1-.6 1,2.4 1,1.4 1-.1 1,.8 1-3.5 1,2.5 1,1.8 1-2.1 1-.2 1,1.8 1-.2 1,.8 1-.5 1,1.4 1-.3 1-.3 1-.4 1,1.2 1-.9 1,1.5 1,.4 1,0 1-1.9 1,1.8 1,.1 1,.7 1-2.2 1,1.1 1,1.9 1,.4 1-1.7 1,1.6 1-.6 1,2 1-1.4 1-1.7 1,1.5 1,.7 1,1.3 1-.5 1-.8 1-.8 1,1.5 1,0 1,1.7 1-.3 1-2.1 1-.8 1,2.4 1,.8 1-1.3 1,.7 1,1.9 1-.3 1-2.3 1,2.3 1,0 1-.2 1,1 1,.2 1,2.2 1-2.2 1-.8 1,.4 1,1.5 1,1.5 1-1.2 1,.1 1-.1 1-.6 1,.7 1-1.2 1,2.3 1,.3 1-.5 1-.9 1,.8 1-.1 1,1.1 1-.4 1,.8 1,.9 1,1 1-2.8 1,.9 1-.6 1,3.1 1-2.5 1,2.7 1-1.7 1,1.7 1-1.1 1,.1 1,.6 1,.1 1-.1 1,1.1 1,.8 1-.1 1-1.4 1-1 1,2.1 1-3.2 1,4.2 1,.1 1-1.4 1,1.8 1-1.3 1,2.5 1-2.2 1,.1 1,.4 1,1.2 1-1.3 1,4.1 1-2.6 1,2.4 1-2.2 1,.1 1-.2 1,.7 1,1 1,1.1 1-1.1 1-1 1,1.5 1-1 1-2 1,3.5 1-1.9 1,1.4 1,1 1-.3 1,.3 1,2.5 1-.6 1,.9 1-1.4 1,.4 1,1.9 1-2.7 1,1.4 1-.1 1,.4 1,.6 1,.1 1,.5 1-1.8 1,1.9 1-1.8 1,2.9 1,.1 1-1.3 1-.2 1,.8 1,1.1 1-2.6 1,.8 1,2.7 1-1.3 1-1.1 1-1 1,2.4 1-1.4 1,4.1 1-1.6 1,2.7 1-3.8 1,3.7 1-3.2 1,.4 1,1.3 1-.7 1,3.7 1-2.2 1-.8 1,4.3 1-3.9 1,.8 1,.4 1-.6 1,2.2 1,.9L1100,581.7 1100,800 100,800 100,232.3Z"/>
<path id="b6" d="M175.6,216.7l.2,3.3 .2,3 .2,2.8 .2,2.6 .2,2.4 .2,2.2 .2,2.1 .2,2 .2,1.9 .2,1.8 .2,1.7 .2,1.6 .2,1.5 .2,1.5 .2,1.5 .2,1.3 .2,1.4 .2,1.2 .2,1.3 .2,1.2 .4,2.3 .8,4.2 .8,3.8 .8,3.5 .8,3.2 .8,3 .8,2.8 .8,2.7 .8,2.4 .8,2.4 .8,2.3 .8,2.1 .8,2.1 .8,1.9 .8,1.9 .8,1.8 .8,1.8 .8,1.7 .8,1.6 .8,1.6 .8,1.6 .8,1.5 .8,1.4 .8,1.4 .8,1.4 .8,1.3 .8,1.3 .8,1.3 .8,1.2 .8,1.2 .8,1.2 .8,1.1 .8,1.2 .8,1.1 .8,1.1 .8,1 .8,1 .8,1.1 .8,1 .8,1 .8,1 .8,.9 .8,1 .8,.9 .8,.9 1.4,1.6 1.5,1.6 1.5,1.6 1.5,1.6 1.5,1.5 1.5,1.5 1.5,1.4 1.5,1.4 1.5,1.4 1.5,1.3 1.5,1.4 1.5,1.3 1.5,1.2 1.5,1.3 1.5,1.2 1.5,1.2 1.5,1.2 1.5,1.2 1.5,1.1 1.5,1.2 1.5,1.1 1.5,1.1 1.5,1.1 1.5,1 1.5,1.1 1.5,1.1 1.5,1 1.5,1 1.5,1 1.5,1 1.5,1 1.5,1 1.5,1 1.5,.9 1.5,1 1.5,.9 1.5,.9 1.5,1 1.5,.9 1.5,.9 1.5,.9 1.5,.9 1.5,.9 1.5,.8 1.5,.9 1.5,.9 1.5,.8 1.5,.9 1.5,.8 1.5,.9 1.5,.8 1.5,.8 1.5,.8 1.5,.8 1.5,.9 1.5,.8 1.5,.8 1.5,.8 1.5,.8 1.5,.8 1.5,.8 1.5,.8 1.5,.8 1.5,.8 1.5,.8 1.5,.8 1.5,.7 1.5,.9 1.5,.8 1.5,.7 1.5,.8 1.5,.8 1.5,.8 1.5,.8 1.5,.8 1.5,.7 1.5,.7 1.5,.8 1.5,.8 1.5,.7 1.5,.8 1.5,.8 1.5,.5 1.5,.8 1.5,.7 1.5,.8 1.5,.8 1.5,.6 1.5,.7 1.5,.7 1.5,.7 1.5,.7 1.5,.8 1.5,.5 1.5,.7 1.5,.7 1.5,.6 1.5,.8 1.5,.7 1.5,.5 1.5,.8 1.5,.7 1.5,.6 1.5,.8 1.5,.5 1.5,.6 1.5,.9 0-.1 1,.5 1,.3 1,.4 1,.5 1,.5 1,.5 1,.5 1,.5 1,.3 1,.4 1,.6 1,.3 1,.5 1,.3 1,.4 1,.5 1,.4 1,.5 1,.3 1,.5 1,.5 1,.6 1,0 1,.6 1,.5 1,.3 1,.6 1,.3 1,.5 1,.3 1,.4 1,.5 1,.2 1,.6 1,.3 1,.4 1,.3 1,.8 1,.2 1,.3 1,.7 1,.2 1,.6 1,.3 1,.4 1,.4 1,.1 1,.9 1,.3 1,.1 1,.7 1,.3 1,.4 1,.6 1,.3 1,.4 1,.6 1,.2 1,.2 1,.3 1,.7 1,0 1,.6 1,.3 1,.4 1,.7 1,.2 1,.3 1,.6 1,.1 1,.7 1,.5 1,0 1,.4 1,.6 1-.2 1,.5 1,.4 1,.3 1,.6 1,.5 1,.3 1,.4 1,.5 1,.4 1,.4 1,.1 1,.4 1,.6 1,.2 1,.5 1,0 1,.5 1,.2 1,.5 1,.4 1,.2 1,.8 1-.3 1,.8 1,0 1,.6 1,.1 1,.6 1,.3 1,.1 1,.3 1,.4 1,.5 1,.5 1,.5 1-.4 1,.8 1,.2 1,.4 1,.4 1,.4 1,.3 1,.2 1,.7 1,0 1,.2 1,.6 1-.2 1,.4 1,.9 1-.1 1,0 1,.8 1,.4 1-.1 1,.1 1,.6 1,.4 1,.1 1,.2 1,.7 1,.3 1-.3 1,.6 1,.3 1,.2 1,.6 1,.5 1,.5 1-.2 1,.5 1-.4 1,.5 1,.8 1-.5 1,1.1 1,0 1,.2 1,.4 1-.3 1,.3 1,.5 1,.3 1,.7 1-.4 1,.4 1-.1 1,.9 1,.1 1,.6 1,.5 1-.2 1-.2 1,.6 1,.3 1,.1 1,0 1,.8 1-.4 1,.6 1,.1 1-.5 1,1.4 1,.6 1-.5 1,.1 1,.7 1-.4 1,.6 1,.3 1,0 1,.4 1,0 1,.3 1,.6 1-.3 1,.4 1,.2 1,.6 1-.1 1,.1 1,.6 1-.6 1,.3 1,1.1 1,.6 1-.6 1,.5 1-.4 1,.8 1,.3 1,.5 1-.3 1,1 1-.7 1,1.1 1-.8 1,.9 1,.4 1,.5 1-.5 1-.5 1,1.2 1-.4 1,.1 1,.4 1,0 1,.9 1,0 1,.4 1,.6 1-.6 1,.6 1,.4 1,.5 1-.5 1,0 1,0 1,.4 1,.4 1,.3 1-.5 1,.6 1,.3 1,0 1,.2 1,.6 1-.4 1,.8 1-.4 1,.7 1-.4 1,1.2 1,.1 1,.4 1-.8 1,0 1,.2 1,.7 1,.7 1,.1 1,.1 1-.6 1,1.2 1,0 1-.3 1-.8 1,1 1,.5 1,1 1-.5 1,.1 1,.9 1,.2 1-.4 1,.3 1,.5 1-.7 1,.7 1-.2 1-.1 1,.9 1,.5 1,.5 1-.3 1,.3 1-.3 1-.4 1,.4 1,.7 1-.3 1,1.4 1-.2 1-.5 1,1.2 1-.4 1,.7 1-.8 1,.8 1-.4 1,.3 1,.7 1,.8 1-1 1,.3 1-.4 1,.5 1,.5 1-.7 1,.6 1-.2 1,.9 1,.5 1-.1 1-.2 1-.1 1-.2 1,1.1 1,.9 1-.8 1,.3 1,0 1-.2 1,1.3 1,0 1-1 1,.3 1,1.7 1-1.2 1,.6 1-.3 1,.9 1-.1 1-.1 1-.1 1,1.9 1,.5 1-1.2 1,.5 1,.3 1-.4 1,.1 1,.1 1,.8 1-1 1,.4 1,1 1-1 1,1.9 1-.9 1,.4 1,.9 1-.7 1,.3 1,.1 1,.8 1-.1 1-.4 1,1 1,.1 1,.1 1-.8 1,1.2 1,.4 1-.5 1-1.1 1,.9 1,.6 1,.9 1,.2 1-.2 1-.7 1,1.1 1-.3 1-.5 1,0 1,1.6 1-1.5 1,2 1,.8 1-1.2 1-.4 1,.3 1,.2 1,.8 1,.6 1-1 1,.4 1,0 1,1.8 1-.4 1-1 1,.5 1,.5 1-1.2 1,1.1 1,.6 1-.9 1,1.4 1-.1 1-.2 1,1.3 1-1.2 1,2 1-1.2 1,1.1 1-1.1 1,1.1 1,.2 1,.8 1,.3 1-2.1 1,1.2 1-.5 1,1.6 1,.5 1-1 1,.5 1,1 1-.6 1-.1 1-.9 1,.9 1,1.3 1-1.6 1,1.5 1,.1 1,0 1,.8 1-1 1,1.8 1-1.2 1,1.2 1-.6 1,.4 1-.2 1,1.6 1-1.8 1,.5 1,1.7 1-.3 1-.5 1,.1 1-.7 1,1 1,.6 1,.9 1-.1 1,.6 1-.6 1,0 1-.2 1,1.6 1-.9 1,1.2 1-1.6 1,.4 1,0 1,1 1-.7 1-.2 1,1.3 1-1.8 1,1.6 1,1 1-1.1 1,1 1-.5 1,.7 1,.6 1,.4 1,.1 1-.8 1,2.1 1-.8 1-.7 1,2 1-1.4 1,2.1 1-.7 1-.6 1-.2 1-.1 1,.2 1,.7 1,1.5 1-.8 1,0 1,1.4 1-1.3 1,.1 1-.7 1,2.7 1-1.3 1,1.8 1,.4 1-1.2 1,.6 1-.8 1,.4 1,.3 1,.1 1,1.6 1-1.3 1,1.1 1-.5 1,.6 1,1.3 1-2.9 1,2.6 1-1.4 1,.9 1-.1 1-.1 1-.7 1-1 1,4.6 1-1 1-.8 1-1.3 1,2.5 1,1.2 1-1.1 1-1.8 1,1.3 1,1.2 1-.4 1,1.3 1-1.5 1,.2 1-1.6 1,3.7 1-.3 1-.9 1-1.1 1,2.7 1-2 1,.3 1-.4 1,.6 1,.9 1-.2 1,2.4 1-.2 1-.5 1-.4 1,.7 1-1.1 1,1.9 1-1.2 1,.6 1,1.3 1-1.3 1-.2 1,2.5 1-2.6 1,.6 1,.3 1,.7 1,1 1-3.2 1,2.9 1,2.2 1,0 1-.2 1-.8 1,1.3 1-1.4 1-1 1,2.3 1,1.1 1-.8 1-.1 1,1.1 1-.4 1,1.1 1-1.5 1-1.3 1,2.7 1,.6 1-1.6 1,1.4 1,.6 1-3.6 1,5.8 1-1.6 1-.6 1-.5 1-.9 1,5.6 1-3.9 1,1.3 1-1.3 1,.6 1,1.3 1-1.6 1,1.1 1,.1 1,.9 1,.6 1-.9 1,2.5 1-2.5 1,.3 1,.8 1-.3L1100,571.9 1100,800 100,800 100,216.7Z"/>
<path id="b7" d="M175.6,194.6l.2,4.1 .2,3.7 .2,3.4 .2,3.2 .2,2.9 .2,2.7 .2,2.6 .2,2.4 .2,2.2 .2,2.2 .2,2 .2,2 .2,1.9 .2,1.8 .2,1.7 .2,1.6 .2,1.6 .2,1.5 .2,1.5 .2,1.4 .4,2.8 .8,4.9 .8,4.5 .8,4.1 .8,3.7 .8,3.5 .8,3.2 .8,3 .8,2.8 .8,2.7 .8,2.5 .8,2.4 .8,2.3 .8,2.2 .8,2 .8,2 .8,2 .8,1.8 .8,1.8 .8,1.7 .8,1.7 .8,1.6 .8,1.6 .8,1.5 .8,1.4 .8,1.5 .8,1.3 .8,1.4 .8,1.3 .8,1.3 .8,1.2 .8,1.3 .8,1.1 .8,1.2 .8,1.1 .8,1.2 .8,1 .8,1.1 .8,1.1 .8,1.1 .8,1 .8,1 .8,1.1 .8,.9 .8,1 1.4,1.7 1.5,1.7 1.5,1.7 1.5,1.6 1.5,1.6 1.5,1.6 1.5,1.5 1.5,1.4 1.5,1.5 1.5,1.4 1.5,1.4 1.5,1.3 1.5,1.3 1.5,1.3 1.5,1.3 1.5,1.3 1.5,1.2 1.5,1.2 1.5,1.2 1.5,1.1 1.5,1.2 1.5,1.1 1.5,1.2 1.5,1.1 1.5,1 1.5,1.1 1.5,1.1 1.5,1 1.5,1 1.5,1.1 1.5,1 1.5,1 1.5,1 1.5,.9 1.5,1 1.5,1 1.5,.9 1.5,.9 1.5,1 1.5,.9 1.5,.9 1.5,.9 1.5,.9 1.5,.9 1.5,.9 1.5,.8 1.5,.9 1.5,.9 1.5,.8 1.5,.9 1.5,.8 1.5,.8 1.5,.9 1.5,.8 1.5,.8 1.5,.8 1.5,.8 1.5,.8 1.5,.9 1.5,.7 1.5,.8 1.5,.8 1.5,.8 1.5,.8 1.5,.8 1.5,.8 1.5,.7 1.5,.8 1.5,.7 1.5,.8 1.5,.8 1.5,.8 1.5,.8 1.5,.7 1.5,.7 1.5,.7 1.5,.8 1.5,.8 1.5,.6 1.5,.8 1.5,.7 1.5,.7 1.5,.7 1.5,.8 1.5,.6 1.5,.8 1.5,.7 1.5,.6 1.5,.7 1.5,.7 1.5,.6 1.5,.7 1.5,.8 1.5,.6 1.5,.6 1.5,.6 1.5,.7 1.5,.8 1.5,.6 1.5,.6 1.5,.7 1.5,.6 1.5,.6 1.5,.8 1.5,.5 1.5,.7 1.5,.7 0,0 1,.4 1,.6 1,.2 1,.5 1,.4 1,.4 1,.5 1,.4 1,.4 1,.4 1,.7 1,0 1,.5 1,.5 1,.4 1,.3 1,.5 1,.4 1,.4 1,.4 1,.6 1,.3 1,.3 1,.5 1,.4 1,.3 1,.4 1,.4 1,.5 1,.5 1,.3 1,.5 1,.2 1,.5 1,.4 1,.4 1,.6 1,.1 1,.5 1,.4 1,.5 1,.1 1,.4 1,.7 1,.4 1,.3 1,.3 1,.5 1,.3 1,.2 1,.5 1,.4 1,.3 1,.5 1,.3 1,.5 1,.4 1,.4 1,.4 1,.1 1,.6 1,.4 1,.3 1,.2 1,.1 1,.8 1,.2 1,.6 1,.1 1,.6 1,.2 1,.4 1,.4 1,.4 1,.5 1,.3 1,.5 1,.2 1,.2 1,.4 1,.4 1,.3 1,.2 1,.2 1,.8 1,.3 1,.6 1-.1 1,.7 1,.1 1,.4 1,.3 1,.5 1,.4 1,0 1,.4 1,.4 1,.3 1,.4 1,.2 1,.3 1,.5 1,0 1,.7 1,.4 1-.4 1,.7 1,.5 1-.1 1,.9 1,.4 1,.2 1,.4 1,.1 1,.5 1,.3 1,.2 1,.3 1,0 1,.3 1,.8 1,.4 1-.1 1,.1 1,.2 1,1.1 1,0 1,.7 1,.1 1,.5 1,0 1,0 1,.4 1,.6 1-.2 1,.6 1,.1 1,.7 1-.2 1,.3 1,.6 1-.5 1,1.1 1,.1 1,.1 1,.6 1,.1 1,.4 1,.1 1,.5 1-.2 1,.4 1,1.1 1-.4 1,.2 1,0 1,.4 1,.4 1,.2 1,.3 1,.2 1-.2 1,.7 1,.6 1-.2 1,.3 1,.4 1,.1 1-.2 1,.8 1,.1 1,.2 1,.8 1-.2 1,0 1,.3 1,.9 1,0 1-.4 1,.8 1-.1 1,.2 1,.8 1,.1 1-.2 1,.4 1,.5 1,0 1,.4 1-.1 1,.8 1,.3 1-.4 1-.1 1,.6 1,.6 1,0 1,.2 1,.4 1-.4 1,.6 1,.2 1,.1 1,.7 1-.3 1,.3 1,.6 1,.2 1,0 1,.3 1,.3 1,.2 1-.2 1,.8 1,.6 1-.3 1,0 1,.7 1,0 1-.3 1,.5 1,.4 1,.4 1-.6 1,1.1 1-.5 1,.6 1-.1 1,.5 1,.5 1,.1 1-.5 1,.5 1,.4 1,.8 1-.6 1,.2 1,.1 1,.4 1,.7 1-.6 1,1.1 1,.1 1,.1 1,.1 1,.9 1-1.1 1,.4 1,1.2 1-1.1 1,.8 1,0 1-.1 1,.2 1,.5 1,.6 1,0 1,.3 1,0 1,.1 1,.5 1-.3 1-.1 1,1 1-.8 1,1.1 1,.5 1-.7 1-.3 1,.7 1,.7 1-.4 1,1.2 1-.1 1-.5 1,.9 1-.7 1,.6 1,.5 1,.6 1,0 1,.5 1-1.1 1,2.2 1-1.6 1,.7 1,.7 1-.2 1,.5 1-.9 1,.4 1,.3 1,.1 1,.5 1,0 1-.2 1,.8 1-.6 1,.5 1,.7 1-.3 1,.5 1,.5 1,.5 1,.3 1-.2 1,0 1-.6 1,.4 1,.1 1,.4 1,.3 1-.2 1,.4 1,1 1-.6 1-.6 1,1 1,.3 1,0 1,1.4 1-.4 1,.6 1-1 1,.9 1-.1 1,0 1-.2 1,.7 1-.9 1,1.6 1,1.1 1-.5 1-1.5 1,1.4 1-.5 1,.3 1,.3 1,.9 1,0 1-.7 1,1.6 1-.7 1,1.1 1-1.6 1,.9 1-.3 1,.7 1-.9 1,.7 1,.6 1-.1 1,.6 1,0 1,0 1-.1 1,.6 1,.3 1,.5 1-1.1 1,.9 1,1 1-.9 1,.7 1-.2 1,1 1,.3 1-.4 1-.2 1-.5 1,.8 1,0 1,.7 1,1 1,.3 1-.7 1,.1 1,0 1,.4 1-.1 1,1.3 1-1.3 1,.7 1-.3 1,1.1 1,.7 1-.5 1-.1 1,.1 1,.4 1-.4 1,1.4 1,.3 1-.3 1,0 1-.5 1,1.5 1-1.8 1,.6 1,1.9 1-1.3 1-.1 1-.4 1,1.8 1,.3 1-.4 1-1 1,1.1 1-.2 1,1.2 1,.5 1-.5 1,.2 1,.9 1,.2 1-1.6 1,1.2 1-.9 1,.5 1,1.3 1-1.2 1,.7 1,1.1 1-.3 1-.5 1,.7 1-.2 1-.2 1,2.1 1-1.2 1,.2 1,.8 1-.3 1-.9 1,1.1 1,.4 1,0 1,.8 1,0 1-.1 1-.2 1,.3 1,1.4 1-2.2 1,2 1-.3 1-.6 1,.6 1,.6 1-1.2 1,1.3 1,.4 1-.8 1,.8 1,1.4 1-1 1-.5 1-.4 1,.3 1,1.8 1-.6 1,.2 1,.1 1-.2 1,1.9 1-.5 1,1 1-2 1,1.4 1,.5 1-1.4 1,.4 1,.2 1,1.4 1-.4 1-.5 1,1.2 1-.8 1,.7 1,.1 1-.4 1,1.4 1-.4 1-1.6 1,2 1,1.1 1-2.6 1,2.5 1-.3 1-.9 1,1 1-.6 1-.1 1,1.5 1,.1 1-1.4 1,1.2 1,.7 1-1.2 1,2.2 1-1.2 1,1 1,.3 1-.9 1,1.1 1-.1 1,.6 1-.6 1,1.2 1,0 1,.8 1-.2 1-1.5 1,.6 1,.9 1,.6 1-1.2 1,.8 1,.4 1-.2 1,1 1-1.4 1,1.4 1-.9 1,1.2 1-.9 1,.6 1,1.2 1-1.4 1,1 1,.6 1-.4 1,0 1,.4 1-.5 1,1.9 1-.3 1,1 1-1 1,.8 1-1.1 1,1 1-1 1,1.1 1-.3 1,1.2 1-2.1 1,1.5 1,.1 1,.9 1-.9 1,.4 1,1.5 1-1.4 1,.4 1,1.5 1-2.6 1,2.3 1,.1 1,.1 1-1.6 1,.5 1,.7 1,.1 1,1.5 1-.8 1,1.8 1-1.1 1,1.1 1-.7 1-.4 1,1 1,.6 1-1.2 1,1.9 1-1.2 1,1.8 1-2.3 1,.9 1,1.1 1-.5 1,.7 1,.3 1,.4 1-1 1,1.2 1-.9 1-.2 1,2.1 1-1.5 1,.2 1,1.3 1-1.4 1,.2 1,.8 1,.5 1,.9 1-.9 1-.2 1-.4 1,1 1,.1L1100,563.2 1100,800 100,800 100,194.6Z"/>
<path id="b8" d="M175.6,166.9l.2,5.1 .2,4.6 .2,4.2 .2,3.9 .2,3.7 .2,3.4 .2,3.1 .2,3 .2,2.8 .2,2.7 .2,2.6 .2,2.4 .2,2.3 .2,2.2 .2,2.1 .2,2 .2,2 .2,1.8 .2,1.8 .2,1.8 .4,3.3 .8,6 .8,5.4 .8,4.9 .8,4.4 .8,4.1 .8,3.7 .8,3.5 .8,3.3 .8,3.1 .8,2.9 .8,2.7 .8,2.6 .8,2.4 .8,2.4 .8,2.2 .8,2.1 .8,2.1 .8,2 .8,1.8 .8,1.9 .8,1.7 .8,1.7 .8,1.7 .8,1.6 .8,1.5 .8,1.5 .8,1.4 .8,1.4 .8,1.4 .8,1.3 .8,1.3 .8,1.3 .8,1.2 .8,1.2 .8,1.2 .8,1.2 .8,1.1 .8,1.2 .8,1.1 .8,1.1 .8,1 .8,1.1 .8,1 .8,1 1.4,1.8 1.5,1.7 1.5,1.8 1.5,1.7 1.5,1.6 1.5,1.6 1.5,1.6 1.5,1.5 1.5,1.5 1.5,1.4 1.5,1.4 1.5,1.4 1.5,1.4 1.5,1.3 1.5,1.3 1.5,1.3 1.5,1.2 1.5,1.3 1.5,1.2 1.5,1.2 1.5,1.1 1.5,1.2 1.5,1.1 1.5,1.1 1.5,1.1 1.5,1.1 1.5,1.1 1.5,1 1.5,1.1 1.5,1 1.5,1 1.5,1 1.5,1 1.5,1 1.5,1 1.5,1 1.5,.9 1.5,1 1.5,.9 1.5,.9 1.5,.9 1.5,.9 1.5,.9 1.5,.9 1.5,.9 1.5,.9 1.5,.8 1.5,.9 1.5,.9 1.5,.8 1.5,.8 1.5,.9 1.5,.8 1.5,.8 1.5,.8 1.5,.8 1.5,.8 1.5,.9 1.5,.7 1.5,.8 1.5,.8 1.5,.8 1.5,.8 1.5,.8 1.5,.8 1.5,.8 1.5,.7 1.5,.8 1.5,.7 1.5,.7 1.5,.9 1.5,.7 1.5,.8 1.5,.7 1.5,.7 1.5,.8 1.5,.7 1.5,.7 1.5,.7 1.5,.7 1.5,.7 1.5,.7 1.5,.8 1.5,.6 1.5,.7 1.5,.7 1.5,.7 1.5,.6 1.5,.6 1.5,.8 1.5,.6 1.5,.5 1.5,.7 1.5,.7 1.5,.6 1.5,.7 1.5,.6 1.5,.8 1.5,.5 1.5,.6 1.5,.7 1.5,.7 1.5,.6 1.5,.6 1.5,.4 1.5,.7 1.5,.7 0,.1 1,.3 1,.5 1,.3 1,.4 1,.4 1,.5 1,.3 1,.4 1,.5 1,.4 1,.3 1,.5 1,.5 1,.3 1,.3 1,.4 1,.4 1,.4 1,.3 1,.4 1,.4 1,.3 1,.8 1,.2 1,.2 1,.4 1,.6 1,.1 1,.4 1,.6 1,.3 1,.4 1,.3 1,.4 1,.3 1,.5 1,.4 1,.3 1,.3 1,.5 1,.3 1,.4 1,.2 1,.3 1,.6 1,.2 1,.4 1,.5 1,.5 1,.1 1,.4 1,.4 1,.5 1,.2 1,.2 1,.6 1,.2 1,.7 1,0 1,.4 1,.4 1,.3 1,.7 1,0 1,.5 1,.2 1,.3 1,.5 1,.3 1,.2 1,.3 1,.5 1,.7 1-.1 1,.4 1,.2 1,1 1-.4 1,.4 1,.2 1,.7 1,.2 1,.4 1,.2 1,.6 1,.3 1,.3 1-.3 1,.6 1,.5 1,.5 1-.3 1,1 1,.1 1,.5 1-.1 1,.4 1,.3 1,.3 1,.3 1,.2 1,.8 1,.2 1,.1 1,.1 1,.8 1-.3 1,.6 1,.2 1,.4 1,.5 1,.4 1,.2 1,0 1,.9 1,.2 1,.2 1,.6 1-.4 1,.4 1,.3 1,.3 1,.5 1,.2 1,.2 1,.6 1,0 1,.2 1,.3 1,.1 1,.5 1,.2 1,.4 1,.4 1,.3 1,.2 1,.6 1-.3 1,.6 1,.2 1,.3 1,.1 1,.2 1,.6 1-.3 1,.7 1-.1 1,.2 1,.7 1,.1 1,.8 1-.5 1,.6 1,.3 1,.3 1,.1 1,0 1,.7 1,.3 1,.2 1,.2 1,.5 1,.2 1,.1 1,0 1,.6 1-.2 1,.5 1,0 1,.4 1,.5 1-.1 1,.6 1-.1 1,.8 1-.3 1,1 1-.3 1,.1 1-.1 1,.5 1,.8 1-.6 1,.2 1,.7 1,.5 1-.2 1,.1 1,.4 1,.2 1,.6 1,.6 1-.5 1,.1 1,.1 1,.1 1,.7 1-.2 1,.9 1-.1 1,.1 1,.9 1-.7 1,1 1,0 1,.2 1,.2 1-.1 1,.7 1,.4 1-.6 1,.7 1,.2 1,.2 1,.4 1,0 1,.2 1,.7 1-.4 1,.3 1,.3 1,.1 1,.3 1,.8 1-.5 1,1.3 1-1 1-.1 1,.7 1,.1 1,1 1,0 1-.3 1,.4 1,.2 1,1.2 1-.6 1,.3 1,.3 1,.1 1,.1 1-.1 1,.6 1,.2 1-.3 1,.7 1-.2 1,0 1,.8 1,.4 1,.6 1-.6 1-.1 1,.4 1,.4 1,.3 1,.4 1,0 1,.7 1-.5 1,.6 1,.3 1,.1 1,.3 1-.4 1,.9 1-.3 1,.3 1-.1 1,.7 1-.1 1,.1 1,.7 1-.3 1,.6 1,.2 1,.4 1-.1 1-.3 1,.7 1,.3 1,.8 1,.2 1-.2 1,.3 1-1.2 1,1 1,0 1,.8 1,.2 1,.2 1,.2 1,.2 1-.1 1,0 1,.7 1-.1 1,.6 1-.4 1,.3 1,0 1,1.1 1-.8 1-.4 1,.9 1,.2 1,.4 1,.1 1,.8 1-.2 1,.5 1,.4 1,0 1,.2 1-.1 1,.2 1,0 1,.5 1-.4 1,.8 1-.3 1,.7 1,.5 1,.1 1-.6 1,1 1-1.2 1,1 1-.5 1,.9 1-.4 1,.7 1-.1 1,1.1 1,.5 1-.4 1,.3 1-.1 1,0 1,.1 1-.3 1,.4 1,.9 1-.4 1,.6 1-.5 1,2 1-.5 1-.5 1,1.1 1-.5 1,.5 1-.1 1-.3 1,1.1 1-.2 1,.2 1,.3 1-.3 1,.2 1,.3 1-.8 1,1 1,.7 1-.5 1,1.4 1-1.1 1-.1 1,.9 1-.2 1,.7 1-.6 1,.8 1,.1 1,.1 1,.5 1-.7 1,.5 1,.9 1,.2 1-.1 1-.8 1,.9 1-.2 1,.2 1-.4 1-.1 1,1.7 1,.1 1-1 1,.7 1,.4 1-.1 1,.7 1-.3 1-.4 1,.7 1,.7 1-.6 1,1.1 1,.3 1,.3 1-.2 1-.2 1,.5 1-.5 1-.5 1,.8 1,1.4 1-.1 1-1 1,.6 1-.1 1-.1 1,.7 1,.8 1-.3 1,0 1-.9 1,2.6 1-1.7 1,.8 1,.6 1-.2 1,.6 1-1.7 1,1 1,.5 1-.4 1,0 1,1.6 1-1.1 1,1.8 1-.2 1-.6 1-.1 1,.3 1,.1 1,.2 1,.1 1,.6 1,.2 1,.1 1,.2 1,1.3 1,.2 1-1 1,.1 1,.1 1,.8 1,0 1-.2 1,.1 1,1.1 1-.1 1-.7 1,.6 1-1.2 1,.9 1,.9 1-1.2 1,.8 1,.7 1-1.2 1,1.1 1,1.7 1-.9 1,1 1,.1 1-1.3 1,.5 1,.5 1,1 1,0 1-.1 1-.3 1-.7 1,1.5 1-.9 1,1.2 1,.3 1-1.6 1,2.4 1-1.3 1,1 1,.1 1,.7 1,0 1,.2 1-.4 1-.9 1,.6 1,.7 1,.3 1-.1 1-.7 1-.2 1,1.1 1,2.5 1-2.4 1-.1 1,1.2 1,0 1-.3 1-1.2 1,1 1,.2 1,1 1-.7 1,.4 1-.5 1,.7 1,2 1-.9 1-.1 1-.7 1-.2 1,1.8 1-.6 1,.6 1-.1 1,.1 1-1.8 1,2.9 1,.5 1-1 1,.3 1,0 1-.2 1-1 1,1.3 1,.4 1,.9 1-1.2 1,.5 1,.4 1,.5 1,1.2 1-.8 1,.3 1-.5 1,1.4 1-2.4 1,2.5 1-.2 1-.5 1-.7 1,1.4 1-.7 1,1.6 1-3.1 1,2.4 1-1.9 1,2.6 1-.5 1,1 1-1.4 1,.3 1-.8 1,1.6 1,.5 1-.2 1-.4 1,.7 1,.8 1-.1 1-1.4 1,1.1 1-.2 1-1.3 1,2.8 1-.1 1-.9 1,1.3 1,0 1-.5 1,.8 1-.3 1-.2 1,1.5 1-1.9 1,2.9 1-1.1 1-.5 1,.9 1-1 1,.6 1,2.1 1-1.1 1-.4 1,.4 1,.8 1,.1 1-.9 1,1.4 1-.8 1,.1 1,.8 1-1 1-.7 1,1.4 1,1L1100,554.9 1100,800 100,800 100,166.9Z"/>
<path id="b9" d="M175.6,148.6l.2,5.7 .2,5.2 .2,4.8 .2,4.4 .2,4 .2,3.8 .2,3.6 .2,3.3 .2,3.2 .2,3 .2,2.8 .2,2.7 .2,2.6 .2,2.5 .2,2.3 .2,2.3 .2,2.1 .2,2.1 .2,2 .2,2 .4,3.7 .8,6.6 .8,6 .8,5.3 .8,4.9 .8,4.5 .8,4.1 .8,3.8 .8,3.5 .8,3.3 .8,3.1 .8,3 .8,2.8 .8,2.6 .8,2.5 .8,2.4 .8,2.3 .8,2.1 .8,2.1 .8,2 .8,1.9 .8,1.9 .8,1.8 .8,1.7 .8,1.7 .8,1.6 .8,1.6 .8,1.5 .8,1.5 .8,1.4 .8,1.4 .8,1.3 .8,1.3 .8,1.3 .8,1.3 .8,1.2 .8,1.2 .8,1.2 .8,1.1 .8,1.2 .8,1.1 .8,1.1 .8,1 .8,1.1 .8,1 1.4,1.7 1.5,1.9 1.5,1.7 1.5,1.7 1.5,1.7 1.5,1.6 1.5,1.6 1.5,1.5 1.5,1.5 1.5,1.4 1.5,1.4 1.5,1.4 1.5,1.4 1.5,1.3 1.5,1.3 1.5,1.3 1.5,1.2 1.5,1.3 1.5,1.2 1.5,1.2 1.5,1.1 1.5,1.2 1.5,1.1 1.5,1.1 1.5,1.1 1.5,1.1 1.5,1.1 1.5,1 1.5,1.1 1.5,1 1.5,1 1.5,1 1.5,1 1.5,1 1.5,.9 1.5,1 1.5,.9 1.5,.9 1.5,1 1.5,.9 1.5,.9 1.5,.9 1.5,.9 1.5,.8 1.5,.9 1.5,.9 1.5,.8 1.5,.9 1.5,.8 1.5,.9 1.5,.8 1.5,.8 1.5,.8 1.5,.8 1.5,.8 1.5,.8 1.5,.8 1.5,.8 1.5,.7 1.5,.8 1.5,.9 1.5,.7 1.5,.8 1.5,.7 1.5,.8 1.5,.8 1.5,.7 1.5,.8 1.5,.8 1.5,.6 1.5,.9 1.5,.7 1.5,.8 1.5,.6 1.5,.8 1.5,.7 1.5,.7 1.5,.7 1.5,.7 1.5,.7 1.5,.7 1.5,.7 1.5,.6 1.5,.7 1.5,.6 1.5,.7 1.5,.6 1.5,.7 1.5,.6 1.5,.7 1.5,.6 1.5,.6 1.5,.6 1.5,.5 1.5,.8 1.5,.5 1.5,.7 1.5,.6 1.5,.5 1.5,.5 1.5,.7 1.5,.5 1.5,.5 1.5,.8 1.5,.5 1.5,.6 1.5,.6 0,.1 1,.2 1,.4 1,.4 1,.4 1,.3 1,.5 1,.2 1,.5 1,.4 1,.3 1,.3 1,.4 1,.5 1,.3 1,.4 1,.3 1,.3 1,.4 1,.3 1,.4 1,.5 1,.1 1,.6 1,.2 1,.3 1,.4 1,.2 1,.6 1,.4 1,.4 1,.3 1,.3 1,.1 1,.5 1,.3 1,.4 1,.3 1,.3 1,.3 1,.4 1,.4 1,.2 1,.4 1,.4 1,.2 1,.4 1,.5 1,.3 1,.2 1,.4 1,.3 1,.2 1,.4 1,.3 1,.3 1,.4 1,.5 1,.3 1,.1 1,.2 1,.3 1,.5 1,.3 1,.4 1,0 1,.5 1,.2 1,.4 1,.3 1,.1 1,.6 1,.3 1,.3 1,.2 1,.2 1,.5 1,.4 1,.4 1,.1 1,.2 1,.5 1,.1 1,.4 1,.2 1,.4 1,.1 1,.5 1,.2 1,.3 1,.6 1-.2 1,.5 1,.3 1,.3 1,.5 1-.3 1,.6 1,.2 1,.2 1,.4 1,.4 1,.2 1,.7 1-.3 1,.6 1,.2 1,.3 1,.4 1,.1 1,.4 1,.2 1,.2 1,.2 1,.4 1,.4 1,.2 1,.4 1,.1 1,.3 1,.5 1-.2 1,.5 1,.4 1,.3 1,.4 1,.2 1,0 1,.4 1,.5 1-.2 1,.5 1,.3 1,.3 1,.2 1,.1 1,.4 1,.2 1,.4 1,.2 1,.6 1,.1 1,.4 1,.1 1,.1 1,.3 1,.4 1-.1 1,.2 1,.1 1,.7 1,.1 1,.2 1,.4 1,.4 1,0 1,.3 1,.2 1,.5 1,0 1,.4 1,.4 1-.1 1,.2 1,.1 1,.4 1,.2 1,.5 1,0 1,.5 1,.1 1,.5 1-.2 1,.5 1,.4 1-.3 1,.9 1-.2 1,.2 1,.1 1,.6 1,.1 1,.3 1,.5 1-.7 1,1.2 1,.6 1-.4 1,.2 1,.3 1,.5 1,.6 1-.6 1-.3 1,1.1 1,.1 1,.2 1,.2 1-.2 1,.8 1,.2 1,.3 1,.3 1-.2 1,.1 1,1 1-.2 1,.4 1,.5 1,0 1,.1 1-.4 1,1.1 1,.2 1-.3 1,.1 1,.7 1,.1 1,.7 1-.6 1,.6 1,.4 1,.2 1-.3 1,.2 1,.5 1,1.3 1-1 1,.3 1,.6 1,.4 1,.2 1-.2 1,.1 1,.8 1-.1 1,.1 1-.1 1,.3 1,.2 1,.3 1,.2 1,.3 1,.3 1,.5 1,.5 1-.5 1,.8 1,.1 1-.8 1,1 1-.4 1,1.1 1-.4 1,.9 1,.2 1-.4 1,0 1,1 1-.4 1,.3 1,.6 1-.2 1,.5 1,.7 1-.4 1,.3 1-.1 1-.6 1,1.2 1,.2 1,.3 1,0 1,.2 1,0 1,.4 1-.1 1,.2 1,.6 1,.1 1,.4 1-.1 1,.3 1-.1 1,.4 1,.6 1,.5 1-.5 1,.5 1-.3 1,0 1,.5 1,.3 1,.2 1,0 1,.5 1,.6 1-.4 1,.5 1,.3 1,.3 1,.1 1,.3 1-.1 1-.4 1,.3 1,.4 1,0 1,.3 1,.4 1,.6 1-.3 1,.5 1,.8 1-1 1,.4 1-.1 1,1.1 1,.1 1-.7 1,.9 1-.5 1,.9 1,0 1,.2 1-.5 1,.9 1,.2 1,.6 1-.3 1,.2 1-.1 1,1.1 1-.1 1,.1 1,.3 1-.3 1-.3 1,.8 1,.7 1,.3 1-.6 1,1.1 1,0 1,0 1-.7 1,.9 1,.2 1,1 1-1.2 1,.3 1,.8 1,.4 1-.2 1-.4 1,.1 1,.6 1,.2 1,.4 1-.6 1-.2 1,1.4 1-.4 1,.2 1,.7 1-.9 1,.8 1,0 1,.5 1,.3 1,.2 1-.8 1,.6 1,0 1,1 1,.3 1-.4 1,.5 1,.1 1-.4 1,1.1 1-.5 1,.8 1,.7 1-1.5 1,1 1-.3 1,.5 1-1.1 1,1.5 1-.3 1,.7 1,.1 1,.3 1-.2 1,.3 1,.1 1-.7 1,.6 1,.3 1,.2 1,.4 1,.2 1,.6 1,.6 1-1.3 1,.7 1,.6 1-.5 1,.7 1-1.4 1,1.7 1-.3 1-.7 1,1 1,1.4 1-.9 1,1.2 1,.6 1-1.2 1-.2 1,.7 1,.5 1,.4 1-.6 1-.5 1,1.4 1-1.6 1,1 1,.3 1,.4 1-.4 1,.5 1,1.1 1-.8 1-.3 1,1 1-.2 1-.4 1,.2 1,1.7 1-1 1,.5 1-.4 1,.3 1,.7 1-.6 1,.9 1,.3 1,.5 1-1 1,0 1-.6 1,1.9 1-.7 1-.3 1,.2 1,1.2 1-.4 1,.7 1-.2 1,.6 1-.2 1-1.7 1,2.6 1-1.4 1,1.8 1-.7 1-.3 1,.3 1,.1 1,.7 1,.2 1-.9 1-.2 1,2 1-.4 1-.9 1,1.6 1,.2 1-.2 1,.1 1-.4 1-1.4 1,2.4 1-.8 1,1.9 1-1.4 1,.8 1-.7 1,0 1,.4 1,1.8 1-1 1-1.3 1,2.1 1,.2 1-1.1 1,.7 1,.1 1-.4 1,.7 1-.9 1,1.4 1,.5 1-1 1,1.1 1,.4 1-.2 1,.7 1-.8 1-.3 1,1.1 1,.2 1-1.9 1,1.6 1-.4 1,.4 1,.5 1,1.1 1-.6 1-.6 1,.2 1,.6 1,.3 1,1.7 1-2.3 1,.9 1,.6 1-.7 1,.5 1-1.1 1,.1 1,1.7 1-.8 1,1.1 1-.6 1,.6 1,.7 1-1.2 1,.1 1,1.5 1-.4 1-.2 1,.8 1-.8 1,.5 1-.3 1-.4 1,1.5 1,.6 1-.3 1-1.4 1,1.1 1,.5 1-.2 1,1 1-1.3 1,1 1-.4 1,.3 1,0 1,.7 1-1.1 1,.8 1,.6 1,.5 1,.3 1-.4 1,.8 1,.2 1-1 1,1.7 1-.2 1-1.2 1,.2 1,0 1,.3 1,.5 1,0 1-.4 1,.8 1,.7 1,0 1-.2 1-.5 1,.1 1,1.6 1-.8 1-.8 1,1.4 1,.7 1-2.2 1,2.4 1-1.9 1,1.6 1-.2 1-.7 1-.2 1,.1 1-.1 1,.8 1,1.2L1100,542.3 1100,800 100,800 100,148.6Z"/>
<path id="b10" d="M175.6,129.2l.2,6.4 .2,5.9 .2,5.4 .2,4.9 .2,4.6 .2,4.3 .2,4 .2,3.7 .2,3.6 .2,3.4 .2,3.1 .2,3.1 .2,2.9 .2,2.7 .2,2.7 .2,2.5 .2,2.4 .2,2.3 .2,2.3 .2,2.1 .4,4.2 .8,7.4 .8,6.6 .8,5.9 .8,5.4 .8,4.9 .8,4.5 .8,4.1 .8,3.9 .8,3.6 .8,3.3 .8,3.2 .8,3 .8,2.8 .8,2.7 .8,2.6 .8,2.4 .8,2.3 .8,2.2 .8,2.2 .8,2 .8,1.9 .8,1.9 .8,1.8 .8,1.8 .8,1.7 .8,1.6 .8,1.6 .8,1.6 .8,1.4 .8,1.5 .8,1.4 .8,1.4 .8,1.3 .8,1.3 .8,1.3 .8,1.2 .8,1.2 .8,1.2 .8,1.1 .8,1.1 .8,1.1 .8,1.1 .8,1.1 .8,1 1.4,1.8 1.5,1.8 1.5,1.8 1.5,1.7 1.5,1.6 1.5,1.6 1.5,1.6 1.5,1.5 1.5,1.5 1.5,1.4 1.5,1.4 1.5,1.4 1.5,1.3 1.5,1.3 1.5,1.3 1.5,1.2 1.5,1.3 1.5,1.2 1.5,1.2 1.5,1.1 1.5,1.1 1.5,1.2 1.5,1.1 1.5,1 1.5,1.1 1.5,1.1 1.5,1 1.5,1 1.5,1 1.5,1 1.5,1 1.5,.9 1.5,1 1.5,.9 1.5,.9 1.5,.9 1.5,.9 1.5,.9 1.5,.9 1.5,.9 1.5,.9 1.5,.8 1.5,.9 1.5,.8 1.5,.8 1.5,.8 1.5,.8 1.5,.8 1.5,.8 1.5,.8 1.5,.8 1.5,.8 1.5,.7 1.5,.8 1.5,.8 1.5,.7 1.5,.7 1.5,.8 1.5,.7 1.5,.7 1.5,.7 1.5,.7 1.5,.8 1.5,.6 1.5,.7 1.5,.7 1.5,.7 1.5,.7 1.5,.7 1.5,.6 1.5,.7 1.5,.6 1.5,.7 1.5,.6 1.5,.7 1.5,.6 1.5,.6 1.5,.7 1.5,.6 1.5,.7 1.5,.6 1.5,.6 1.5,.6 1.5,.6 1.5,.6 1.5,.6 1.5,.7 1.5,.5 1.5,.6 1.5,.6 1.5,.6 1.5,.6 1.5,.6 1.5,.5 1.5,.5 1.5,.6 1.5,.6 1.5,.5 1.5,.6 1.5,.6 1.5,.5 1.5,.5 1.5,.6 1.5,.6 1.5,.5 1.5,.6 1.5,.5 0,0 1,.4 1,.4 1,.3 1,.3 1,.4 1,.3 1,.3 1,.4 1,.4 1,.2 1,.6 1,.2 1,.3 1,.3 1,.4 1,.4 1,.3 1,.4 1,.3 1,.2 1,.5 1,.3 1,.3 1,.2 1,.4 1,.4 1,.2 1,.6 1,.2 1,.1 1,.4 1,.4 1,.2 1,.5 1,.4 1,.2 1,.2 1,.5 1,.3 1,.2 1,.4 1,.2 1,.3 1,.5 1,.3 1,.1 1,.1 1,.7 1,.2 1,.4 1,.1 1,.5 1,.4 1,.2 1,.3 1,.3 1,.4 1,.1 1,.3 1,.1 1,.5 1,.3 1,.2 1,.5 1,.2 1,.6 1,.1 1,.1 1,.4 1,.5 1,.2 1,.3 1,.1 1,.4 1,.2 1,.4 1,.2 1,.2 1,.3 1,.2 1,.4 1,.3 1,0 1,.4 1,.4 1,.4 1,.1 1,.4 1,.1 1,.4 1,.2 1,.4 1,.1 1,.3 1,.4 1,.2 1,0 1,.5 1,.3 1,0 1,.3 1,.6 1,.2 1,.1 1,.5 1-.2 1,.8 1-.1 1,.6 1,0 1,.2 1,.4 1,.2 1,.5 1,.2 1,0 1,.3 1,.3 1,.6 1-.1 1,.4 1,.1 1,.1 1,.1 1,.6 1,.3 1,.2 1,.6 1,0 1,.4 1,.1 1-.1 1,.7 1-.2 1,.4 1,0 1,.7 1,.3 1-.3 1,.4 1,.4 1,0 1,.4 1,.2 1,0 1,.1 1,.4 1,.6 1-.1 1,.5 1,.3 1,.3 1,.1 1,.4 1,.4 1-.2 1,.3 1,.5 1-.3 1,.7 1-.5 1,.4 1,.3 1,.5 1,.3 1-.3 1,1.1 1,.3 1,0 1-.1 1,.5 1,.1 1,0 1,.2 1,.6 1-.1 1,.2 1,.8 1-.3 1,.5 1,.1 1,.1 1,.2 1,.6 1-.2 1,.5 1-.1 1,.3 1,.6 1-.6 1,.5 1,.3 1,.4 1,0 1,.4 1,.3 1,.6 1-.1 1-.4 1,1 1-.1 1-.1 1,.5 1-.1 1,.3 1,.1 1,.3 1-.2 1,1.1 1-.1 1,.4 1,.1 1,.1 1,.6 1,.1 1-.2 1,.7 1-.3 1,.2 1,.4 1,.1 1,.2 1-.4 1,.5 1,.5 1,.4 1,.2 1-.2 1,.5 1-.3 1,.8 1,.5 1-.4 1,0 1,.8 1-.2 1,.2 1,.4 1-.1 1,.5 1,.1 1-.1 1,.5 1,.2 1,.4 1,.1 1,.1 1-.2 1,.6 1-.5 1,.7 1,.5 1,.1 1,.3 1-.2 1,.2 1,.1 1,.2 1,.4 1,.4 1-.1 1,.7 1-.2 1-.5 1,.9 1-.2 1,.4 1-.1 1,.3 1,1 1,0 1-.4 1,.2 1,.1 1,.1 1,.6 1,.4 1-.7 1,.8 1,0 1,.1 1,.9 1-.7 1,.1 1,.5 1-.1 1,.3 1,.6 1-.6 1,1.1 1,.3 1-.5 1,.6 1-.5 1,.5 1,.1 1,0 1,.8 1,0 1,.4 1-.8 1,.7 1,.1 1-.3 1,1.2 1,0 1,.1 1,.6 1-.6 1,.9 1-1.1 1,1.4 1-.1 1-.6 1,.2 1,1.8 1-1.2 1,.8 1-.1 1,0 1,.1 1-.3 1,.2 1,.3 1,.9 1-1 1,.5 1,.8 1-.1 1,0 1,0 1-.2 1,.6 1,0 1,.4 1,0 1-.1 1,1.4 1-1.3 1,1.3 1-.3 1,.1 1-.2 1,.3 1,.4 1-.6 1,1.5 1-.2 1,.1 1,.3 1,.5 1-.3 1,.5 1-.5 1,1.2 1-.8 1-.1 1,.3 1,.8 1,.5 1-.4 1,1 1-1.3 1,.3 1,.2 1,1.2 1-1.1 1,.6 1-.3 1,.7 1-.4 1,2 1-.9 1-.4 1,.7 1-.2 1-.2 1,.7 1-.8 1,1.6 1,0 1-.8 1,.5 1-.7 1,1.3 1,0 1,.1 1-.2 1,.4 1-.2 1,.4 1-.1 1,.2 1,.1 1-.8 1,1 1,1 1,.4 1-.9 1,.5 1,.8 1-1.4 1,1.2 1-.9 1,1.5 1-.5 1,.2 1,.1 1,1.3 1-2.3 1,.8 1,1.6 1-.3 1-.4 1,.6 1-.1 1,.2 1,.7 1-.9 1,.9 1,.3 1-.2 1,.7 1-1 1-.3 1,.4 1,.8 1,.6 1-.6 1,.3 1,.1 1,.5 1-.7 1,.6 1-.3 1,.9 1,.3 1-1.6 1,1.6 1-.1 1,.6 1-.7 1,.6 1-.6 1,1.3 1,1 1-1.1 1,1.1 1,0 1-1 1,.4 1,.2 1,.6 1-.9 1,1 1-.8 1,1 1-.3 1-.8 1,.9 1,.6 1-.1 1,.2 1,1.3 1-1.3 1,.1 1-.2 1,.6 1-.1 1,.6 1-.6 1,.2 1,1.7 1,.5 1-1.5 1,.3 1-1 1,.9 1,.9 1-.1 1-.3 1,1.4 1,.9 1-1.9 1-.4 1,1.2 1,.3 1-1 1,.6 1,.9 1-.1 1-.9 1,1.2 1-1 1,1.7 1-.9 1-.7 1,.5 1,1.1 1,.8 1-.9 1-.1 1,1.7 1-2.3 1,1.7 1-1.6 1,0 1,.9 1,1 1,0 1-.4 1,.5 1-.6 1,1.6 1-.8 1,.4 1-1.2 1,1 1-.7 1,1.4 1-1.4 1,1.7 1,.3 1-.2 1,.6 1,.3 1-1.1 1,0 1,.3 1,.2 1,.1 1,0 1,1.5 1-1.1 1-.2 1,1.5 1-1.8 1,.9 1,.6 1,.1 1-1.2 1,0 1,.2 1,.5 1,1.6 1-.8 1,.3 1-.7 1,.3 1,1 1,.3 1-.8 1,1 1-1 1,.2 1,.1 1,0 1,1.2 1-1.6 1,1.5 1-1.5 1,.3 1,1.2 1,.4 1-.3 1-1.3 1,2.5 1,.1 1-1.1 1,1.5 1-1.3 1,.5 1-.2 1-.3 1-.3 1,1 1,.9 1-.7 1,.8 1,.3 1,.6 1-.2 1-.3 1-.1 1-.2 1-.4 1-.2 1,2.3 1-1.2 1,.6 1,.8 1-.9 1-.5 1,.9 1,1 1-1.8 1,.1 1,.4 1,1.1 1,.1 1-.4 1,.1L1100,521 1100,800 100,800 100,129.2Z"/>
<mask id="mb0" maskUnits="userSpaceOnUse" x="0" y="0" width="1000" height="800"><rect width="1000" height="800" fill="#fff"/><use href="#b0" fill="#000"/></mask>
<mask id="mb1" maskUnits="userSpaceOnUse" x="0" y="0" width="1000" height="800"><rect width="1000" height="800" fill="#fff"/><use href="#b1" fill="#000"/></mask>
<mask id="mb2" maskUnits="userSpaceOnUse" x="0" y="0" width="1000" height="800"><rect width="1000" height="800" fill="#fff"/><use href="#b2" fill="#000"/></mask>
<mask id="mb3" maskUnits="userSpaceOnUse" x="0" y="0" width="1000" height="800"><rect width="1000" height="800" fill="#fff"/><use href="#b3" fill="#000"/></mask>
<mask id="mb4" maskUnits="userSpaceOnUse" x="0" y="0" width="1000" height="800"><rect width="1000" height="800" fill="#fff"/><use href="#b4" fill="#000"/></mask>
<mask id="mb5" maskUnits="userSpaceOnUse" x="0" y="0" width="1000" height="800"><rect width="1000" height="800" fill="#fff"/><use href="#b5" fill="#000"/></mask>
<mask id="mb6" maskUnits="userSpaceOnUse" x="0" y="0" width="1000" height="800"><rect width="1000" height="800" fill="#fff"/><use href="#b6" fill="#000"/></mask>
<mask id="mb7" maskUnits="userSpaceOnUse" x="0" y="0" width="1000" height="800"><rect width="1000" height="800" fill="#fff"/><use href="#b7" fill="#000"/></mask>
<mask id="mb8" maskUnits="userSpaceOnUse" x="0" y="0" width="1000" height="800"><rect width="1000" height="800" fill="#fff"/><use href="#b8" fill="#000"/></mask>
<mask id="mb9" maskUnits="userSpaceOnUse" x="0" y="0" width="1000" height="800"><rect width="1000" height="800" fill="#fff"/><use href="#b9" fill="#000"/></mask>
<mask id="mA" maskUnits="userSpaceOnUse" x="0" y="0" width="1000" height="800"><use href="#a10" fill="#fff"/><use href="#a0" fill="#000"/></mask>
<linearGradient id="lg0" gradientUnits="userSpaceOnUse" x1="175" y1="0" x2="977" y2="0"><stop offset="0.000" stop-color="rgb(45,45,51)" stop-opacity="0.5"/><stop offset="0.343" stop-color="rgb(41,41,55)" stop-opacity="0.5"/><stop offset="0.655" stop-color="rgb(0,0,35)" stop-opacity="0.5"/><stop offset="1.000" stop-color="rgb(0,0,15)" stop-opacity="0.5"/></linearGradient>
<linearGradient id="lg1" gradientUnits="userSpaceOnUse" x1="175" y1="0" x2="977" y2="0"><stop offset="0.000" stop-color="rgb(45,45,61)" stop-opacity="0.5"/><stop offset="0.343" stop-color="rgb(41,41,69)" stop-opacity="0.5"/><stop offset="0.655" stop-color="rgb(0,0,65)" stop-opacity="0.5"/><stop offset="1.000" stop-color="rgb(0,0,65)" stop-opacity="0.5"/></linearGradient>
<linearGradient id="lg2" gradientUnits="userSpaceOnUse" x1="175" y1="0" x2="977" y2="0"><stop offset="0.000" stop-color="rgb(41,41,75)" stop-opacity="0.5"/><stop offset="0.343" stop-color="rgb(35,35,89)" stop-opacity="0.5"/><stop offset="0.655" stop-color="rgb(0,0,101)" stop-opacity="0.5"/><stop offset="1.000" stop-color="rgb(0,0,105)" stop-opacity="0.5"/></linearGradient>
<linearGradient id="lg3" gradientUnits="userSpaceOnUse" x1="175" y1="0" x2="977" y2="0"><stop offset="0.000" stop-color="rgb(35,35,101)" stop-opacity="0.5"/><stop offset="0.343" stop-color="rgb(29,29,115)" stop-opacity="0.5"/><stop offset="0.655" stop-color="rgb(0,0,135)" stop-opacity="0.5"/><stop offset="1.000" stop-color="rgb(0,0,137)" stop-opacity="0.5"/></linearGradient>
<linearGradient id="lg4" gradientUnits="userSpaceOnUse" x1="175" y1="0" x2="977" y2="0"><stop offset="0.000" stop-color="rgb(25,25,129)" stop-opacity="0.5"/><stop offset="0.343" stop-color="rgb(21,21,141)" stop-opacity="0.5"/><stop offset="1.000" stop-color="rgb(1,1,161)" stop-opacity="0.5"/></linearGradient>
</defs><g clip-path="url(#pc)">
<use href="#a1" fill="rgba(0,0,0,0.5)" mask="url(#ma0)"/>
<use href="#a2" fill="rgba(0,15,0,0.5)" mask="url(#ma1)"/>
<use href="#a3" fill="rgba(0,45,0,0.5)" mask="url(#ma2)"/>
<use href="#a4" fill="rgba(0,75,0,0.5)" mask="url(#ma3)"/>
<use href="#a5" fill="rgba(1,101,1,0.5)" mask="url(#ma4)"/>
<use href="#a6" fill="rgba(5,115,5,0.5)" mask="url(#ma5)"/>
<use href="#a7" fill="rgba(9,129,9,0.5)" mask="url(#ma6)"/>
<use href="#a8" fill="rgba(15,145,15,0.5)" mask="url(#ma7)"/>
<use href="#a9" fill="rgba(21,165,21,0.5)" mask="url(#ma8)"/>
<use href="#a10" fill="rgba(25,175,25,0.5)" mask="url(#ma9)"/>
<use href="#a0" fill="none" stroke="rgb(50, 65, 50)" stroke-width="1.3" stroke-linejoin="round"/>
<use href="#a1" fill="none" stroke="rgb(55, 90, 55)" stroke-width="1.3" stroke-linejoin="round"/>
<use href="#a2" fill="none" stroke="rgb(55, 110, 55)" stroke-width="1.3" stroke-linejoin="round"/>
<use href="#a3" fill="none" stroke="rgb(50, 130, 50)" stroke-width="1.3" stroke-linejoin="round"/>
<use href="#a4" fill="none" stroke="rgb(45, 145, 45)" stroke-width="1.3" stroke-linejoin="round"/>
<use href="#a5" fill="none" stroke="rgb(45, 160, 45)" stroke-width="1.3" stroke-linejoin="round"/>
<use href="#a6" fill="none" stroke="rgb(45, 175, 45)" stroke-width="1.3" stroke-linejoin="round"/>
<use href="#a7" fill="none" stroke="rgb(45, 190, 45)" stroke-width="1.3" stroke-linejoin="round"/>
<use href="#a8" fill="none" stroke="rgb(45, 205, 45)" stroke-width="1.4" stroke-linejoin="round"/>
<use href="#a9" fill="none" stroke="rgb(45, 225, 45)" stroke-width="1.5" stroke-linejoin="round"/>
<use href="#a10" fill="none" stroke="rgb(40, 235, 40)" stroke-width="3.0" stroke-linejoin="round"/>
<use href="#b1" fill="url(#lg0)" mask="url(#mb0)"/>
<use href="#b2" fill="url(#lg1)" mask="url(#mb1)"/>
<use href="#b3" fill="url(#lg2)" mask="url(#mb2)"/>
<use href="#b4" fill="url(#lg3)" mask="url(#mb3)"/>
<use href="#b5" fill="url(#lg4)" mask="url(#mb4)"/>
<use href="#b6" fill="rgba(17,17,149,0.5)" mask="url(#mb5)"/>
<use href="#b7" fill="rgba(17,17,165,0.5)" mask="url(#mb6)"/>
<use href="#b8" fill="rgba(15,15,177,0.5)" mask="url(#mb7)"/>
<use href="#b9" fill="rgba(11,11,189,0.5)" mask="url(#mb8)"/>
<use href="#b10" fill="rgba(5,5,201,0.5)" mask="url(#mb9)"/>
<g mask="url(#mA)">
<use href="#b1" fill="rgb(42, 42, 55)" mask="url(#mb0)"/>
<use href="#b2" fill="rgb(40, 40, 65)" mask="url(#mb1)"/>
<use href="#b3" fill="rgb(40, 42, 80)" mask="url(#mb2)"/>
<use href="#b4" fill="rgb(40, 45, 95)" mask="url(#mb3)"/>
<use href="#b5" fill="rgb(40, 50, 110)" mask="url(#mb4)"/>
<use href="#b6" fill="rgb(40, 55, 125)" mask="url(#mb5)"/>
<use href="#b7" fill="rgb(40, 55, 130)" mask="url(#mb6)"/>
<use href="#b8" fill="rgb(36, 45, 148)" mask="url(#mb7)"/>
<use href="#b9" fill="rgb(30, 32, 172)" mask="url(#mb8)"/>
<use href="#b10" fill="rgb(25, 25, 192)" mask="url(#mb9)"/>
</g>
<use href="#b0" fill="none" stroke="rgb(20, 20, 25)" stroke-width="1.5" stroke-linejoin="round"/>
<use href="#b1" fill="none" stroke="rgb(25, 25, 35)" stroke-width="1.5" stroke-linejoin="round"/>
<use href="#b2" fill="none" stroke="rgb(25, 25, 50)" stroke-width="1.5" stroke-linejoin="round"/>
<use href="#b3" fill="none" stroke="rgb(25, 25, 75)" stroke-width="1.5" stroke-linejoin="round"/>
<use href="#b4" fill="none" stroke="rgb(25, 25, 105)" stroke-width="1.5" stroke-linejoin="round"/>
<use href="#b5" fill="none" stroke="rgb(25, 25, 135)" stroke-width="1.5" stroke-linejoin="round"/>
<use href="#b6" fill="none" stroke="rgb(25, 25, 158)" stroke-width="1.5" stroke-linejoin="round"/>
<use href="#b7" fill="none" stroke="rgb(25, 25, 178)" stroke-width="1.5" stroke-linejoin="round"/>
<use href="#b8" fill="none" stroke="rgb(20, 20, 190)" stroke-width="1.6" stroke-linejoin="round"/>
<use href="#b9" fill="none" stroke="rgb(15, 15, 200)" stroke-width="1.7" stroke-linejoin="round"/>
<use href="#b10" fill="none" stroke="rgb(5, 5, 215)" stroke-width="2.2" stroke-linejoin="round"/>
</g>
<rect x="175.6" y="32.5" width="802.0" height="647.0" fill="none" stroke="#000" stroke-width="2.3"/>
<line x1="163.10" y1="679.50" x2="175.60" y2="679.50" stroke="#000" stroke-width="2.3"/>
<line x1="977.60" y1="679.50" x2="965.60" y2="679.50" stroke="#000" stroke-width="2.3"/>
<line x1="169.10" y1="640.55" x2="175.60" y2="640.55" stroke="#000" stroke-width="2.3"/>
<line x1="977.60" y1="640.55" x2="971.10" y2="640.55" stroke="#000" stroke-width="2.3"/>
<line x1="169.10" y1="617.76" x2="175.60" y2="617.76" stroke="#000" stroke-width="2.3"/>
<line x1="977.60" y1="617.76" x2="971.10" y2="617.76" stroke="#000" stroke-width="2.3"/>
<line x1="169.10" y1="601.59" x2="175.60" y2="601.59" stroke="#000" stroke-width="2.3"/>
<line x1="977.60" y1="601.59" x2="971.10" y2="601.59" stroke="#000" stroke-width="2.3"/>
<line x1="169.10" y1="589.05" x2="175.60" y2="589.05" stroke="#000" stroke-width="2.3"/>
<line x1="977.60" y1="589.05" x2="971.10" y2="589.05" stroke="#000" stroke-width="2.3"/>
<line x1="169.10" y1="578.81" x2="175.60" y2="578.81" stroke="#000" stroke-width="2.3"/>
<line x1="977.60" y1="578.81" x2="971.10" y2="578.81" stroke="#000" stroke-width="2.3"/>
<line x1="169.10" y1="570.14" x2="175.60" y2="570.14" stroke="#000" stroke-width="2.3"/>
<line x1="977.60" y1="570.14" x2="971.10" y2="570.14" stroke="#000" stroke-width="2.3"/>
<line x1="169.10" y1="562.64" x2="175.60" y2="562.64" stroke="#000" stroke-width="2.3"/>
<line x1="977.60" y1="562.64" x2="971.10" y2="562.64" stroke="#000" stroke-width="2.3"/>
<line x1="169.10" y1="556.02" x2="175.60" y2="556.02" stroke="#000" stroke-width="2.3"/>
<line x1="977.60" y1="556.02" x2="971.10" y2="556.02" stroke="#000" stroke-width="2.3"/>
<line x1="163.10" y1="550.10" x2="175.60" y2="550.10" stroke="#000" stroke-width="2.3"/>
<line x1="977.60" y1="550.10" x2="965.60" y2="550.10" stroke="#000" stroke-width="2.3"/>
<line x1="169.10" y1="511.15" x2="175.60" y2="511.15" stroke="#000" stroke-width="2.3"/>
<line x1="977.60" y1="511.15" x2="971.10" y2="511.15" stroke="#000" stroke-width="2.3"/>
<line x1="169.10" y1="488.36" x2="175.60" y2="488.36" stroke="#000" stroke-width="2.3"/>
<line x1="977.60" y1="488.36" x2="971.10" y2="488.36" stroke="#000" stroke-width="2.3"/>
<line x1="169.10" y1="472.19" x2="175.60" y2="472.19" stroke="#000" stroke-width="2.3"/>
<line x1="977.60" y1="472.19" x2="971.10" y2="472.19" stroke="#000" stroke-width="2.3"/>
<line x1="169.10" y1="459.65" x2="175.60" y2="459.65" stroke="#000" stroke-width="2.3"/>
<line x1="977.60" y1="459.65" x2="971.10" y2="459.65" stroke="#000" stroke-width="2.3"/>
<line x1="169.10" y1="449.41" x2="175.60" y2="449.41" stroke="#000" stroke-width="2.3"/>
<line x1="977.60" y1="449.41" x2="971.10" y2="449.41" stroke="#000" stroke-width="2.3"/>
<line x1="169.10" y1="440.74" x2="175.60" y2="440.74" stroke="#000" stroke-width="2.3"/>
<line x1="977.60" y1="440.74" x2="971.10" y2="440.74" stroke="#000" stroke-width="2.3"/>
<line x1="169.10" y1="433.24" x2="175.60" y2="433.24" stroke="#000" stroke-width="2.3"/>
<line x1="977.60" y1="433.24" x2="971.10" y2="433.24" stroke="#000" stroke-width="2.3"/>
<line x1="169.10" y1="426.62" x2="175.60" y2="426.62" stroke="#000" stroke-width="2.3"/>
<line x1="977.60" y1="426.62" x2="971.10" y2="426.62" stroke="#000" stroke-width="2.3"/>
<line x1="163.10" y1="420.70" x2="175.60" y2="420.70" stroke="#000" stroke-width="2.3"/>
<line x1="977.60" y1="420.70" x2="965.60" y2="420.70" stroke="#000" stroke-width="2.3"/>
<line x1="169.10" y1="381.75" x2="175.60" y2="381.75" stroke="#000" stroke-width="2.3"/>
<line x1="977.60" y1="381.75" x2="971.10" y2="381.75" stroke="#000" stroke-width="2.3"/>
<line x1="169.10" y1="358.96" x2="175.60" y2="358.96" stroke="#000" stroke-width="2.3"/>
<line x1="977.60" y1="358.96" x2="971.10" y2="358.96" stroke="#000" stroke-width="2.3"/>
<line x1="169.10" y1="342.79" x2="175.60" y2="342.79" stroke="#000" stroke-width="2.3"/>
<line x1="977.60" y1="342.79" x2="971.10" y2="342.79" stroke="#000" stroke-width="2.3"/>
<line x1="169.10" y1="330.25" x2="175.60" y2="330.25" stroke="#000" stroke-width="2.3"/>
<line x1="977.60" y1="330.25" x2="971.10" y2="330.25" stroke="#000" stroke-width="2.3"/>
<line x1="169.10" y1="320.01" x2="175.60" y2="320.01" stroke="#000" stroke-width="2.3"/>
<line x1="977.60" y1="320.01" x2="971.10" y2="320.01" stroke="#000" stroke-width="2.3"/>
<line x1="169.10" y1="311.34" x2="175.60" y2="311.34" stroke="#000" stroke-width="2.3"/>
<line x1="977.60" y1="311.34" x2="971.10" y2="311.34" stroke="#000" stroke-width="2.3"/>
<line x1="169.10" y1="303.84" x2="175.60" y2="303.84" stroke="#000" stroke-width="2.3"/>
<line x1="977.60" y1="303.84" x2="971.10" y2="303.84" stroke="#000" stroke-width="2.3"/>
<line x1="169.10" y1="297.22" x2="175.60" y2="297.22" stroke="#000" stroke-width="2.3"/>
<line x1="977.60" y1="297.22" x2="971.10" y2="297.22" stroke="#000" stroke-width="2.3"/>
<line x1="163.10" y1="291.30" x2="175.60" y2="291.30" stroke="#000" stroke-width="2.3"/>
<line x1="977.60" y1="291.30" x2="965.60" y2="291.30" stroke="#000" stroke-width="2.3"/>
<line x1="169.10" y1="252.35" x2="175.60" y2="252.35" stroke="#000" stroke-width="2.3"/>
<line x1="977.60" y1="252.35" x2="971.10" y2="252.35" stroke="#000" stroke-width="2.3"/>
<line x1="169.10" y1="229.56" x2="175.60" y2="229.56" stroke="#000" stroke-width="2.3"/>
<line x1="977.60" y1="229.56" x2="971.10" y2="229.56" stroke="#000" stroke-width="2.3"/>
<line x1="169.10" y1="213.39" x2="175.60" y2="213.39" stroke="#000" stroke-width="2.3"/>
<line x1="977.60" y1="213.39" x2="971.10" y2="213.39" stroke="#000" stroke-width="2.3"/>
<line x1="169.10" y1="200.85" x2="175.60" y2="200.85" stroke="#000" stroke-width="2.3"/>
<line x1="977.60" y1="200.85" x2="971.10" y2="200.85" stroke="#000" stroke-width="2.3"/>
<line x1="169.10" y1="190.61" x2="175.60" y2="190.61" stroke="#000" stroke-width="2.3"/>
<line x1="977.60" y1="190.61" x2="971.10" y2="190.61" stroke="#000" stroke-width="2.3"/>
<line x1="169.10" y1="181.94" x2="175.60" y2="181.94" stroke="#000" stroke-width="2.3"/>
<line x1="977.60" y1="181.94" x2="971.10" y2="181.94" stroke="#000" stroke-width="2.3"/>
<line x1="169.10" y1="174.44" x2="175.60" y2="174.44" stroke="#000" stroke-width="2.3"/>
<line x1="977.60" y1="174.44" x2="971.10" y2="174.44" stroke="#000" stroke-width="2.3"/>
<line x1="169.10" y1="167.82" x2="175.60" y2="167.82" stroke="#000" stroke-width="2.3"/>
<line x1="977.60" y1="167.82" x2="971.10" y2="167.82" stroke="#000" stroke-width="2.3"/>
<line x1="163.10" y1="161.90" x2="175.60" y2="161.90" stroke="#000" stroke-width="2.3"/>
<line x1="977.60" y1="161.90" x2="965.60" y2="161.90" stroke="#000" stroke-width="2.3"/>
<line x1="169.10" y1="122.95" x2="175.60" y2="122.95" stroke="#000" stroke-width="2.3"/>
<line x1="977.60" y1="122.95" x2="971.10" y2="122.95" stroke="#000" stroke-width="2.3"/>
<line x1="169.10" y1="100.16" x2="175.60" y2="100.16" stroke="#000" stroke-width="2.3"/>
<line x1="977.60" y1="100.16" x2="971.10" y2="100.16" stroke="#000" stroke-width="2.3"/>
<line x1="169.10" y1="83.99" x2="175.60" y2="83.99" stroke="#000" stroke-width="2.3"/>
<line x1="977.60" y1="83.99" x2="971.10" y2="83.99" stroke="#000" stroke-width="2.3"/>
<line x1="169.10" y1="71.45" x2="175.60" y2="71.45" stroke="#000" stroke-width="2.3"/>
<line x1="977.60" y1="71.45" x2="971.10" y2="71.45" stroke="#000" stroke-width="2.3"/>
<line x1="169.10" y1="61.21" x2="175.60" y2="61.21" stroke="#000" stroke-width="2.3"/>
<line x1="977.60" y1="61.21" x2="971.10" y2="61.21" stroke="#000" stroke-width="2.3"/>
<line x1="169.10" y1="52.54" x2="175.60" y2="52.54" stroke="#000" stroke-width="2.3"/>
<line x1="977.60" y1="52.54" x2="971.10" y2="52.54" stroke="#000" stroke-width="2.3"/>
<line x1="169.10" y1="45.04" x2="175.60" y2="45.04" stroke="#000" stroke-width="2.3"/>
<line x1="977.60" y1="45.04" x2="971.10" y2="45.04" stroke="#000" stroke-width="2.3"/>
<line x1="169.10" y1="38.42" x2="175.60" y2="38.42" stroke="#000" stroke-width="2.3"/>
<line x1="977.60" y1="38.42" x2="971.10" y2="38.42" stroke="#000" stroke-width="2.3"/>
<line x1="163.10" y1="32.50" x2="175.60" y2="32.50" stroke="#000" stroke-width="2.3"/>
<line x1="977.60" y1="32.50" x2="965.60" y2="32.50" stroke="#000" stroke-width="2.3"/>
<line x1="175.60" y1="679.50" x2="175.60" y2="692.00" stroke="#000" stroke-width="2.3"/>
<line x1="275.85" y1="679.50" x2="275.85" y2="686.00" stroke="#000" stroke-width="2.3"/>
<line x1="275.85" y1="32.50" x2="275.85" y2="39.00" stroke="#000" stroke-width="2.3"/>
<line x1="376.10" y1="679.50" x2="376.10" y2="692.00" stroke="#000" stroke-width="2.3"/>
<line x1="376.10" y1="32.50" x2="376.10" y2="45.00" stroke="#000" stroke-width="2.3"/>
<line x1="476.35" y1="679.50" x2="476.35" y2="686.00" stroke="#000" stroke-width="2.3"/>
<line x1="476.35" y1="32.50" x2="476.35" y2="39.00" stroke="#000" stroke-width="2.3"/>
<line x1="576.60" y1="679.50" x2="576.60" y2="692.00" stroke="#000" stroke-width="2.3"/>
<line x1="576.60" y1="32.50" x2="576.60" y2="45.00" stroke="#000" stroke-width="2.3"/>
<line x1="676.85" y1="679.50" x2="676.85" y2="686.00" stroke="#000" stroke-width="2.3"/>
<line x1="676.85" y1="32.50" x2="676.85" y2="39.00" stroke="#000" stroke-width="2.3"/>
<line x1="777.10" y1="679.50" x2="777.10" y2="692.00" stroke="#000" stroke-width="2.3"/>
<line x1="777.10" y1="32.50" x2="777.10" y2="45.00" stroke="#000" stroke-width="2.3"/>
<line x1="877.35" y1="679.50" x2="877.35" y2="686.00" stroke="#000" stroke-width="2.3"/>
<line x1="877.35" y1="32.50" x2="877.35" y2="39.00" stroke="#000" stroke-width="2.3"/>
<line x1="977.60" y1="679.50" x2="977.60" y2="692.00" stroke="#000" stroke-width="2.3"/>
<text x="0.36" y="46.40" font-size="61" fill="#000" textLength="71.67" lengthAdjust="spacingAndGlyphs">(a)</text>
<text x="93.29" y="692.10" font-size="36" fill="#000" textLength="38.04" lengthAdjust="spacingAndGlyphs" stroke="#fff" stroke-width="0.57">10</text>
<text x="133.42" y="676.00" font-size="23" fill="#000" textLength="7.37" lengthAdjust="spacingAndGlyphs" stroke="#fff" stroke-width="0.36">-</text>
<text x="141.91" y="676.00" font-size="23" fill="#000" textLength="12.09" lengthAdjust="spacingAndGlyphs" stroke="#fff" stroke-width="0.36">2</text>
<text x="93.29" y="562.70" font-size="36" fill="#000" textLength="38.04" lengthAdjust="spacingAndGlyphs" stroke="#fff" stroke-width="0.57">10</text>
<text x="133.42" y="546.60" font-size="23" fill="#000" textLength="7.37" lengthAdjust="spacingAndGlyphs" stroke="#fff" stroke-width="0.36">-</text>
<text x="141.25" y="546.60" font-size="23" fill="#000" textLength="12.77" lengthAdjust="spacingAndGlyphs" stroke="#fff" stroke-width="0.36">1</text>
<text x="101.02" y="433.30" font-size="36" fill="#000" textLength="39.16" lengthAdjust="spacingAndGlyphs" stroke="#fff" stroke-width="0.57">10</text>
<text x="142.07" y="417.20" font-size="23" fill="#000" textLength="11.87" lengthAdjust="spacingAndGlyphs" stroke="#fff" stroke-width="0.36">0</text>
<text x="101.02" y="303.90" font-size="36" fill="#000" textLength="39.16" lengthAdjust="spacingAndGlyphs" stroke="#fff" stroke-width="0.57">10</text>
<text x="141.17" y="287.80" font-size="23" fill="#000" textLength="12.64" lengthAdjust="spacingAndGlyphs" stroke="#fff" stroke-width="0.36">1</text>
<text x="101.02" y="174.50" font-size="36" fill="#000" textLength="39.16" lengthAdjust="spacingAndGlyphs" stroke="#fff" stroke-width="0.57">10</text>
<text x="141.77" y="158.40" font-size="23" fill="#000" textLength="12.45" lengthAdjust="spacingAndGlyphs" stroke="#fff" stroke-width="0.36">2</text>
<text x="101.02" y="45.10" font-size="36" fill="#000" textLength="39.16" lengthAdjust="spacingAndGlyphs" stroke="#fff" stroke-width="0.57">10</text>
<text x="142.08" y="29.00" font-size="23" fill="#000" textLength="11.96" lengthAdjust="spacingAndGlyphs" stroke="#fff" stroke-width="0.36">3</text>
<text x="166.29" y="729.70" font-size="36" fill="#000" textLength="18.62" lengthAdjust="spacingAndGlyphs" stroke="#fff" stroke-width="0.57">0</text>
<text x="366.68" y="729.70" font-size="36" fill="#000" textLength="18.62" lengthAdjust="spacingAndGlyphs" stroke="#fff" stroke-width="0.57">6</text>
<text x="557.55" y="729.70" font-size="36" fill="#000" textLength="37.24" lengthAdjust="spacingAndGlyphs" stroke="#fff" stroke-width="0.57">12</text>
<text x="757.93" y="729.70" font-size="36" fill="#000" textLength="37.24" lengthAdjust="spacingAndGlyphs" stroke="#fff" stroke-width="0.57">18</text>
<text x="958.63" y="729.70" font-size="36" fill="#000" textLength="37.24" lengthAdjust="spacingAndGlyphs" stroke="#fff" stroke-width="0.57">24</text>
<text x="508.17" y="805.30" font-size="39" fill="#000" textLength="136.12" lengthAdjust="spacingAndGlyphs" stroke="#fff" stroke-width="0.62">time / h</text>
<g transform="translate(43.4,0) rotate(-90)">
<text x="-508.71" y="0.00" font-size="38" fill="#000" textLength="252.30" lengthAdjust="spacingAndGlyphs" stroke="#fff" stroke-width="0.60">current / mA g</text>
<text x="-255.18" y="11.40" font-size="23.5" fill="#000" textLength="57.65" lengthAdjust="spacingAndGlyphs" stroke="#fff" stroke-width="0.37">NCM</text>
<text x="-196.84" y="-16.20" font-size="25" fill="#000" textLength="22.90" lengthAdjust="spacingAndGlyphs" stroke="#fff" stroke-width="0.39">-1</text>
</g>
<text x="547.94" y="110.00" font-size="37" fill="#000" textLength="166.57" lengthAdjust="spacingAndGlyphs" stroke="#fff" stroke-width="0.58">200 mA g</text>
<text x="712.52" y="119.70" font-size="22.5" fill="#000" textLength="60.56" lengthAdjust="spacingAndGlyphs" stroke="#fff" stroke-width="0.36">NCM</text>
<text x="772.96" y="95.80" font-size="23" fill="#000" textLength="20.89" lengthAdjust="spacingAndGlyphs" stroke="#fff" stroke-width="0.36">-1</text>
<text x="581.71" y="297.00" font-size="37" fill="#000" textLength="122.99" lengthAdjust="spacingAndGlyphs" stroke="#fff" stroke-width="0.58">4 mA g</text>
<text x="702.31" y="307.00" font-size="23.5" fill="#000" textLength="60.78" lengthAdjust="spacingAndGlyphs" stroke="#fff" stroke-width="0.37">NCM</text>
<text x="763.21" y="284.80" font-size="22" fill="#000" textLength="21.90" lengthAdjust="spacingAndGlyphs" stroke="#fff" stroke-width="0.35">-1</text>
<text x="614.93" y="415.60" font-size="41.6" fill="#00ee00" textLength="93.93" lengthAdjust="spacingAndGlyphs" stroke="#fff" stroke-width="0.66">ASSB</text>
<text x="564.10" y="573.00" font-size="41.6" fill="#000066" textLength="66.76" lengthAdjust="spacingAndGlyphs" stroke="#fff" stroke-width="0.66">LEB</text>
<defs>
<linearGradient id="gb" gradientUnits="userSpaceOnUse" x1="0" y1="121.2" x2="0" y2="250.8"><stop offset="0" stop-color="#7878f0"/><stop offset="0.26" stop-color="#6464e6"/><stop offset="0.53" stop-color="#4141be"/><stop offset="0.72" stop-color="#232378"/><stop offset="0.915" stop-color="#0a0a28"/><stop offset="1" stop-color="#000"/></linearGradient>
<linearGradient id="gg" gradientUnits="userSpaceOnUse" x1="0" y1="121.2" x2="0" y2="250.8"><stop offset="0" stop-color="rgb(0,245,0)" stop-opacity="0.57"/><stop offset="0.246" stop-color="rgb(0,235,0)" stop-opacity="0.62"/><stop offset="0.26" stop-color="rgb(0,225,0)" stop-opacity="0.667"/><stop offset="0.53" stop-color="rgb(0,170,0)" stop-opacity="0.765"/><stop offset="0.72" stop-color="rgb(0,102,0)" stop-opacity="0.882"/><stop offset="0.915" stop-color="rgb(0,31,0)" stop-opacity="0.96"/><stop offset="1" stop-color="#000" stop-opacity="1"/></linearGradient>
</defs>
<path d="M663.5,121.2 L695.4,153.5 L679.2,153.5 L679.2,250.8 L647.8,250.8 L647.8,153.5 L631.6,153.5 Z" fill="url(#gb)"/>
<path d="M678.9,121.2 L710.5,152.5 L695.3,152.5 L695.3,250.8 L662.5,250.8 L662.5,152.5 L647.3,152.5 Z" fill="url(#gg)"/>
<rect x="207.90" y="992.80" width="97.60" height="136.60" fill="#fa9898"/>
<rect x="207.90" y="1129.40" width="97.60" height="133.40" fill="#f7e6c0"/>
<rect x="207.90" y="1262.80" width="97.60" height="340.80" fill="#b1feb0"/>
<rect x="368.10" y="1171.60" width="97.60" height="17.40" fill="#fa9898"/>
<rect x="368.10" y="1189.00" width="97.60" height="157.50" fill="#f7e6c0"/>
<rect x="368.10" y="1346.50" width="97.60" height="257.10" fill="#b1feb0"/>
<rect x="528.30" y="1207.00" width="97.60" height="17.40" fill="#fa9898"/>
<rect x="528.30" y="1224.40" width="97.60" height="201.00" fill="#f7e6c0"/>
<rect x="528.30" y="1425.40" width="97.60" height="178.20" fill="#b1feb0"/>
<rect x="688.50" y="1238.20" width="97.60" height="14.10" fill="#fa9898"/>
<rect x="688.50" y="1252.30" width="97.60" height="237.70" fill="#f7e6c0"/>
<rect x="688.50" y="1490.00" width="97.60" height="113.60" fill="#b1feb0"/>
<rect x="848.70" y="1259.00" width="97.60" height="12.20" fill="#fa9898"/>
<rect x="848.70" y="1271.20" width="97.60" height="286.10" fill="#f7e6c0"/>
<rect x="848.70" y="1557.30" width="97.60" height="46.30" fill="#b1feb0"/>
<rect x="176.6" y="956.4" width="801.0" height="647.1999999999999" fill="none" stroke="#000" stroke-width="2.3"/>
<line x1="164.10" y1="1603.60" x2="176.60" y2="1603.60" stroke="#000" stroke-width="2.3"/>
<line x1="977.60" y1="1603.60" x2="965.10" y2="1603.60" stroke="#000" stroke-width="2.3"/>
<line x1="170.10" y1="1522.70" x2="176.60" y2="1522.70" stroke="#000" stroke-width="2.3"/>
<line x1="977.60" y1="1522.70" x2="971.10" y2="1522.70" stroke="#000" stroke-width="2.3"/>
<line x1="164.10" y1="1441.80" x2="176.60" y2="1441.80" stroke="#000" stroke-width="2.3"/>
<line x1="977.60" y1="1441.80" x2="965.10" y2="1441.80" stroke="#000" stroke-width="2.3"/>
<line x1="170.10" y1="1360.90" x2="176.60" y2="1360.90" stroke="#000" stroke-width="2.3"/>
<line x1="977.60" y1="1360.90" x2="971.10" y2="1360.90" stroke="#000" stroke-width="2.3"/>
<line x1="164.10" y1="1280.00" x2="176.60" y2="1280.00" stroke="#000" stroke-width="2.3"/>
<line x1="977.60" y1="1280.00" x2="965.10" y2="1280.00" stroke="#000" stroke-width="2.3"/>
<line x1="170.10" y1="1199.10" x2="176.60" y2="1199.10" stroke="#000" stroke-width="2.3"/>
<line x1="977.60" y1="1199.10" x2="971.10" y2="1199.10" stroke="#000" stroke-width="2.3"/>
<line x1="164.10" y1="1118.20" x2="176.60" y2="1118.20" stroke="#000" stroke-width="2.3"/>
<line x1="977.60" y1="1118.20" x2="965.10" y2="1118.20" stroke="#000" stroke-width="2.3"/>
<line x1="170.10" y1="1037.30" x2="176.60" y2="1037.30" stroke="#000" stroke-width="2.3"/>
<line x1="977.60" y1="1037.30" x2="971.10" y2="1037.30" stroke="#000" stroke-width="2.3"/>
<line x1="164.10" y1="956.40" x2="176.60" y2="956.40" stroke="#000" stroke-width="2.3"/>
<line x1="977.60" y1="956.40" x2="965.10" y2="956.40" stroke="#000" stroke-width="2.3"/>
<line x1="176.60" y1="1603.60" x2="176.60" y2="1610.10" stroke="#000" stroke-width="2.3"/>
<line x1="256.70" y1="1603.60" x2="256.70" y2="1616.10" stroke="#000" stroke-width="2.3"/>
<line x1="256.70" y1="956.40" x2="256.70" y2="968.90" stroke="#000" stroke-width="2.3"/>
<line x1="336.80" y1="1603.60" x2="336.80" y2="1610.10" stroke="#000" stroke-width="2.3"/>
<line x1="336.80" y1="956.40" x2="336.80" y2="962.90" stroke="#000" stroke-width="2.3"/>
<line x1="416.90" y1="1603.60" x2="416.90" y2="1616.10" stroke="#000" stroke-width="2.3"/>
<line x1="416.90" y1="956.40" x2="416.90" y2="968.90" stroke="#000" stroke-width="2.3"/>
<line x1="497.00" y1="1603.60" x2="497.00" y2="1610.10" stroke="#000" stroke-width="2.3"/>
<line x1="497.00" y1="956.40" x2="497.00" y2="962.90" stroke="#000" stroke-width="2.3"/>
<line x1="577.10" y1="1603.60" x2="577.10" y2="1616.10" stroke="#000" stroke-width="2.3"/>
<line x1="577.10" y1="956.40" x2="577.10" y2="968.90" stroke="#000" stroke-width="2.3"/>
<line x1="657.20" y1="1603.60" x2="657.20" y2="1610.10" stroke="#000" stroke-width="2.3"/>
<line x1="657.20" y1="956.40" x2="657.20" y2="962.90" stroke="#000" stroke-width="2.3"/>
<line x1="737.30" y1="1603.60" x2="737.30" y2="1616.10" stroke="#000" stroke-width="2.3"/>
<line x1="737.30" y1="956.40" x2="737.30" y2="968.90" stroke="#000" stroke-width="2.3"/>
<line x1="817.40" y1="1603.60" x2="817.40" y2="1610.10" stroke="#000" stroke-width="2.3"/>
<line x1="817.40" y1="956.40" x2="817.40" y2="962.90" stroke="#000" stroke-width="2.3"/>
<line x1="897.50" y1="1603.60" x2="897.50" y2="1616.10" stroke="#000" stroke-width="2.3"/>
<line x1="897.50" y1="956.40" x2="897.50" y2="968.90" stroke="#000" stroke-width="2.3"/>
<line x1="977.60" y1="1603.60" x2="977.60" y2="1610.10" stroke="#000" stroke-width="2.3"/>
<line x1="256.6" y1="1260.0" x2="256.6" y2="1142.0" stroke="#000" stroke-width="3.6"/>
<path d="M250.40000000000003,1144.5 L256.6,1133.0 L262.8,1144.5 L256.6,1142.0 Z" fill="#000"/>
<line x1="416.6" y1="1344.4" x2="416.6" y2="1199.5" stroke="#000" stroke-width="3.6"/>
<path d="M410.40000000000003,1202.0 L416.6,1190.5 L422.8,1202.0 L416.6,1199.5 Z" fill="#000"/>
<line x1="578.6" y1="1423.0" x2="578.6" y2="1238.5" stroke="#000" stroke-width="3.6"/>
<path d="M572.4,1241.0 L578.6,1229.5 L584.8000000000001,1241.0 L578.6,1238.5 Z" fill="#000"/>
<line x1="739.2" y1="1485.7" x2="739.2" y2="1263.6" stroke="#000" stroke-width="3.6"/>
<path d="M733.0,1266.1 L739.2,1254.6 L745.4000000000001,1266.1 L739.2,1263.6 Z" fill="#000"/>
<line x1="897.6" y1="1551.7" x2="897.6" y2="1283.5" stroke="#000" stroke-width="3.6"/>
<path d="M891.4,1286.0 L897.6,1274.5 L903.8000000000001,1286.0 L897.6,1283.5 Z" fill="#000"/>
<text x="189.21" y="1304.20" font-size="29" fill="#000" textLength="94.71" lengthAdjust="spacingAndGlyphs">4 mA g</text>
<text x="282.62" y="1311.90" font-size="21" fill="#000" textLength="46.55" lengthAdjust="spacingAndGlyphs">NCM</text>
<text x="328.25" y="1294.40" font-size="21" fill="#000" textLength="19.10" lengthAdjust="spacingAndGlyphs">-1</text>
<text x="352.17" y="1384.90" font-size="29" fill="#000" textLength="95.58" lengthAdjust="spacingAndGlyphs">6 mA g</text>
<text x="446.42" y="1392.60" font-size="21" fill="#000" textLength="46.55" lengthAdjust="spacingAndGlyphs">NCM</text>
<text x="492.05" y="1375.10" font-size="21" fill="#000" textLength="19.10" lengthAdjust="spacingAndGlyphs">-1</text>
<text x="503.31" y="1459.00" font-size="29" fill="#000" textLength="112.13" lengthAdjust="spacingAndGlyphs">10 mA g</text>
<text x="614.12" y="1466.70" font-size="21" fill="#000" textLength="46.55" lengthAdjust="spacingAndGlyphs">NCM</text>
<text x="659.75" y="1449.20" font-size="21" fill="#000" textLength="19.10" lengthAdjust="spacingAndGlyphs">-1</text>
<text x="662.71" y="1523.00" font-size="29" fill="#000" textLength="112.13" lengthAdjust="spacingAndGlyphs">14 mA g</text>
<text x="773.52" y="1530.70" font-size="21" fill="#000" textLength="46.55" lengthAdjust="spacingAndGlyphs">NCM</text>
<text x="819.15" y="1513.20" font-size="21" fill="#000" textLength="19.10" lengthAdjust="spacingAndGlyphs">-1</text>
<text x="799.50" y="1589.60" font-size="29" fill="#000" textLength="111.33" lengthAdjust="spacingAndGlyphs">20 mA g</text>
<text x="909.52" y="1597.30" font-size="21" fill="#000" textLength="46.55" lengthAdjust="spacingAndGlyphs">NCM</text>
<text x="955.15" y="1579.80" font-size="21" fill="#000" textLength="19.10" lengthAdjust="spacingAndGlyphs">-1</text>
<rect x="533.8" y="997.5" width="98.9" height="49.2" rx="2.5" fill="#fa9898"/>
<text x="639.57" y="1035.20" font-size="37" fill="#000" textLength="252.14" lengthAdjust="spacingAndGlyphs" stroke="#fff" stroke-width="0.58">irreversible loss</text>
<rect x="533.8" y="1050.4" width="98.9" height="49.2" rx="2.5" fill="#f7e6c0"/>
<text x="639.59" y="1088.10" font-size="37" fill="#000" textLength="304.48" lengthAdjust="spacingAndGlyphs" stroke="#fff" stroke-width="0.58">recovered capacity</text>
<rect x="533.8" y="1104.2" width="98.9" height="49.2" rx="2.5" fill="#b1feb0"/>
<text x="640.51" y="1141.90" font-size="37" fill="#000" textLength="294.56" lengthAdjust="spacingAndGlyphs" stroke="#fff" stroke-width="0.58">discharge capacity</text>
<text x="-0.16" y="969.00" font-size="61" fill="#000" textLength="74.12" lengthAdjust="spacingAndGlyphs">(b)</text>
<text x="93.74" y="1613.30" font-size="36" fill="#000" textLength="60.48" lengthAdjust="spacingAndGlyphs" stroke="#fff" stroke-width="0.57">100</text>
<text x="93.73" y="1451.50" font-size="36" fill="#000" textLength="60.59" lengthAdjust="spacingAndGlyphs" stroke="#fff" stroke-width="0.57">125</text>
<text x="93.74" y="1289.70" font-size="36" fill="#000" textLength="60.48" lengthAdjust="spacingAndGlyphs" stroke="#fff" stroke-width="0.57">150</text>
<text x="93.73" y="1127.90" font-size="36" fill="#000" textLength="60.59" lengthAdjust="spacingAndGlyphs" stroke="#fff" stroke-width="0.57">175</text>
<text x="94.71" y="966.10" font-size="36" fill="#000" textLength="59.49" lengthAdjust="spacingAndGlyphs" stroke="#fff" stroke-width="0.57">200</text>
<text x="247.43" y="1652.80" font-size="36" fill="#000" textLength="18.62" lengthAdjust="spacingAndGlyphs" stroke="#fff" stroke-width="0.57">1</text>
<text x="408.09" y="1652.80" font-size="36" fill="#000" textLength="18.62" lengthAdjust="spacingAndGlyphs" stroke="#fff" stroke-width="0.57">2</text>
<text x="568.39" y="1652.80" font-size="36" fill="#000" textLength="18.62" lengthAdjust="spacingAndGlyphs" stroke="#fff" stroke-width="0.57">3</text>
<text x="728.60" y="1652.80" font-size="36" fill="#000" textLength="18.62" lengthAdjust="spacingAndGlyphs" stroke="#fff" stroke-width="0.57">4</text>
<text x="888.72" y="1652.80" font-size="36" fill="#000" textLength="18.62" lengthAdjust="spacingAndGlyphs" stroke="#fff" stroke-width="0.57">5</text>
<text x="459.54" y="1728.20" font-size="38.5" fill="#000" textLength="232.31" lengthAdjust="spacingAndGlyphs" stroke="#fff" stroke-width="0.61">cycle number</text>
<g transform="translate(68.6,0) rotate(-90)">
<text x="-1552.23" y="0.00" font-size="38.5" fill="#000" textLength="465.43" lengthAdjust="spacingAndGlyphs" stroke="#fff" stroke-width="0.61">discharge capacity / mAh g</text>
<text x="-1087.58" y="11.20" font-size="23.5" fill="#000" textLength="57.87" lengthAdjust="spacingAndGlyphs" stroke="#fff" stroke-width="0.37">NCM</text>
<text x="-1029.16" y="-17.90" font-size="25" fill="#000" textLength="23.24" lengthAdjust="spacingAndGlyphs" stroke="#fff" stroke-width="0.39">-1</text>
</g>
</svg>
</body></html>
